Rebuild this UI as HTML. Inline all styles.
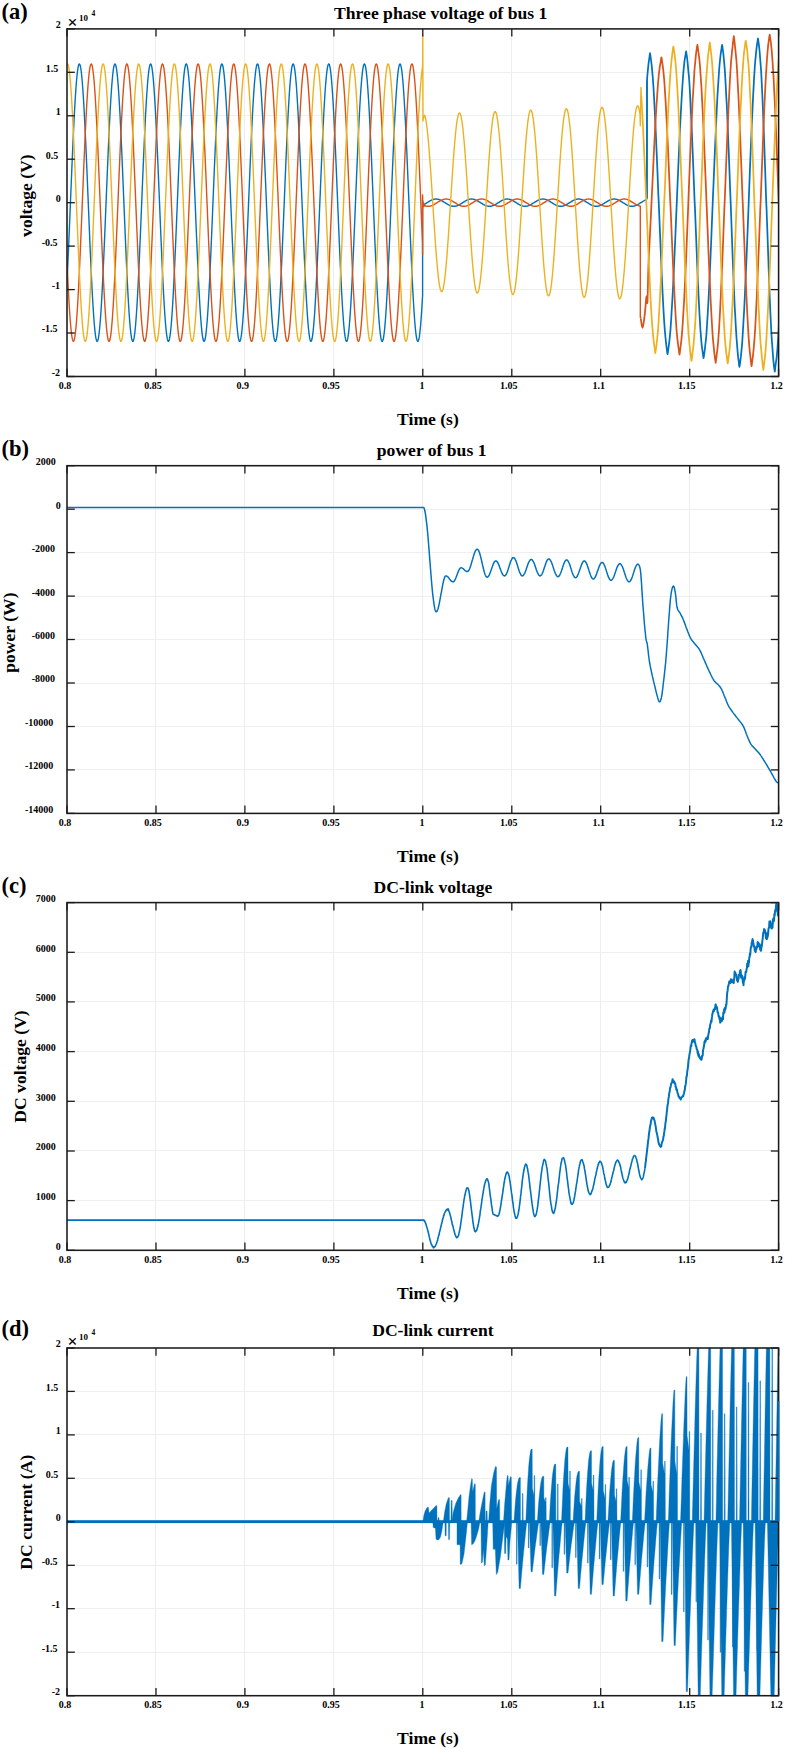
<!DOCTYPE html>
<html lang="en"><head><meta charset="utf-8"><title>Simulation results: bus 1 voltage, power, DC-link voltage and current</title>
<style>html,body{margin:0;padding:0;background:#fff;overflow:hidden}svg{display:block}text{font-family:"Liberation Serif","Times New Roman",serif;font-weight:bold;fill:#000}</style></head><body>
<svg width="785" height="1750" viewBox="0 0 785 1750">
<rect width="785" height="1750" fill="#fff"/>
<defs>
<clipPath id="ca"><rect x="67.0" y="28.9" width="711.6" height="347.6"/></clipPath>
<clipPath id="cb"><rect x="67.0" y="465.7" width="711.6" height="347.7"/></clipPath>
<clipPath id="cc"><rect x="67.0" y="902.6" width="711.6" height="347.7"/></clipPath>
<clipPath id="cd"><rect x="67.0" y="1348.0" width="711.6" height="347.7"/></clipPath>
</defs>
<line x1="155.5" y1="28.9" x2="155.5" y2="376.5" stroke="#ededed" stroke-width="1"/>
<line x1="244.5" y1="28.9" x2="244.5" y2="376.5" stroke="#ededed" stroke-width="1"/>
<line x1="333.5" y1="28.9" x2="333.5" y2="376.5" stroke="#ededed" stroke-width="1"/>
<line x1="422.5" y1="28.9" x2="422.5" y2="376.5" stroke="#ededed" stroke-width="1"/>
<line x1="511.5" y1="28.9" x2="511.5" y2="376.5" stroke="#ededed" stroke-width="1"/>
<line x1="600.5" y1="28.9" x2="600.5" y2="376.5" stroke="#ededed" stroke-width="1"/>
<line x1="689.5" y1="28.9" x2="689.5" y2="376.5" stroke="#ededed" stroke-width="1"/>
<line x1="67.0" y1="72.5" x2="778.6" y2="72.5" stroke="#efefef" stroke-width="1"/>
<line x1="67.0" y1="115.5" x2="778.6" y2="115.5" stroke="#efefef" stroke-width="1"/>
<line x1="67.0" y1="159.5" x2="778.6" y2="159.5" stroke="#efefef" stroke-width="1"/>
<line x1="67.0" y1="202.5" x2="778.6" y2="202.5" stroke="#efefef" stroke-width="1"/>
<line x1="67.0" y1="246.5" x2="778.6" y2="246.5" stroke="#efefef" stroke-width="1"/>
<line x1="67.0" y1="289.5" x2="778.6" y2="289.5" stroke="#efefef" stroke-width="1"/>
<line x1="67.0" y1="333.5" x2="778.6" y2="333.5" stroke="#efefef" stroke-width="1"/>
<g clip-path="url(#ca)">
<path d="M67.0 281.8L67.3 275.7L67.6 269.3L67.9 262.8L68.2 256.1L68.5 249.3L68.8 242.3L69.1 235.2L69.4 228.0L69.7 220.8L70.0 213.5L70.3 206.2L70.6 198.8L70.9 191.5L71.2 184.2L71.5 177.0L71.8 169.8L72.1 162.7L72.4 155.7L72.7 148.9L73.0 142.2L73.3 135.7L73.6 129.4L73.9 123.2L74.2 117.3L74.5 111.7L74.8 106.3L75.1 101.1L75.4 96.3L75.7 91.7L76.0 87.5L76.3 83.5L76.6 80.0L76.9 76.7L77.2 73.8L77.5 71.3L77.8 69.1L78.1 67.3L78.4 65.9L78.7 64.9L79.0 64.2L79.3 64.0L79.6 64.1L79.9 64.6L80.2 65.5L80.5 66.8L80.8 68.5L81.1 70.5L81.4 72.9L81.7 75.7L82.0 78.8L82.3 82.3L82.6 86.1L82.9 90.3L83.2 94.7L83.5 99.5L83.8 104.5L84.1 109.8L84.4 115.4L84.7 121.3L85.0 127.3L85.3 133.6L85.6 140.0L85.9 146.7L86.2 153.4L86.5 160.4L86.8 167.4L87.1 174.6L87.4 181.8L87.7 189.1L88.0 196.4L88.3 203.7L88.6 211.0L88.9 218.4L89.2 225.6L89.5 232.8L89.8 239.9L90.1 247.0L90.4 253.8L90.7 260.6L91.0 267.2L91.3 273.6L91.6 279.8L91.9 285.8L92.2 291.5L92.5 297.0L92.8 302.3L93.1 307.2L93.4 311.9L93.7 316.3L94.0 320.3L94.3 324.1L94.6 327.4L94.9 330.5L95.2 333.1L95.5 335.5L95.8 337.4L96.1 338.9L96.4 340.1L96.7 340.9L97.0 341.3L97.3 341.3L97.6 341.0L97.9 340.2L98.2 339.1L98.5 337.6L98.8 335.7L99.1 333.4L99.4 330.8L99.7 327.8L100.0 324.4L100.3 320.7L100.6 316.7L100.9 312.4L101.2 307.7L101.5 302.8L101.8 297.6L102.1 292.1L102.4 286.4L102.7 280.4L103.0 274.2L103.3 267.8L103.6 261.3L103.9 254.5L104.2 247.7L104.5 240.6L104.8 233.5L105.1 226.3L105.4 219.1L105.7 211.8L106.0 204.4L106.3 197.1L106.6 189.8L106.9 182.5L107.2 175.3L107.5 168.1L107.8 161.1L108.1 154.1L108.4 147.3L108.7 140.7L109.0 134.2L109.3 127.9L109.6 121.8L109.9 116.0L110.2 110.4L110.5 105.0L110.8 100.0L111.1 95.2L111.4 90.7L111.7 86.5L112.0 82.7L112.3 79.2L112.6 76.0L112.9 73.2L113.2 70.7L113.5 68.7L113.8 67.0L114.1 65.6L114.4 64.7L114.7 64.1L115.0 64.0L115.3 64.2L115.6 64.8L115.9 65.8L116.2 67.2L116.5 68.9L116.8 71.0L117.1 73.5L117.4 76.4L117.7 79.6L118.0 83.2L118.3 87.1L118.6 91.3L118.9 95.8L119.2 100.6L119.5 105.7L119.8 111.1L120.1 116.8L120.4 122.6L120.7 128.7L121.0 135.1L121.3 141.6L121.6 148.2L121.9 155.0L122.2 162.0L122.5 169.1L122.8 176.2L123.1 183.5L123.4 190.8L123.7 198.1L124.0 205.4L124.3 212.8L124.6 220.1L124.9 227.3L125.2 234.5L125.5 241.6L125.8 248.6L126.1 255.4L126.4 262.1L126.7 268.7L127.0 275.0L127.3 281.2L127.6 287.1L127.9 292.8L128.2 298.3L128.5 303.5L128.8 308.4L129.1 313.0L129.4 317.3L129.7 321.2L130.0 324.9L130.3 328.2L130.6 331.1L130.9 333.7L131.2 335.9L131.5 337.8L131.8 339.3L132.1 340.3L132.4 341.1L132.7 341.4L133.0 341.3L133.3 340.8L133.6 340.0L133.9 338.8L134.2 337.2L134.5 335.2L134.8 332.8L135.1 330.1L135.4 327.0L135.7 323.6L136.0 319.8L136.3 315.7L136.6 311.3L136.9 306.6L137.2 301.6L137.5 296.3L137.8 290.8L138.1 285.0L138.4 279.0L138.7 272.7L139.0 266.3L139.3 259.7L139.6 252.9L139.9 246.0L140.2 239.0L140.5 231.9L140.8 224.7L141.1 217.4L141.4 210.1L141.7 202.7L142.0 195.4L142.3 188.1L142.6 180.8L142.9 173.6L143.2 166.5L143.5 159.4L143.8 152.5L144.1 145.8L144.4 139.2L144.7 132.7L145.0 126.5L145.3 120.5L145.6 114.7L145.9 109.1L146.2 103.8L146.5 98.8L146.8 94.1L147.1 89.7L147.4 85.6L147.7 81.8L148.0 78.4L148.3 75.3L148.6 72.6L148.9 70.2L149.2 68.2L149.5 66.6L149.8 65.4L150.1 64.5L150.4 64.1L150.7 64.0L151.0 64.3L151.3 65.0L151.6 66.1L151.9 67.5L152.2 69.4L152.5 71.6L152.8 74.2L153.1 77.1L153.4 80.4L153.7 84.1L154.0 88.0L154.3 92.3L154.6 96.9L154.9 101.8L155.2 107.0L155.5 112.4L155.8 118.1L156.1 124.0L156.4 130.2L156.7 136.6L157.0 143.1L157.3 149.8L157.6 156.7L157.9 163.6L158.2 170.7L158.5 177.9L158.8 185.2L159.1 192.5L159.4 199.8L159.7 207.1L160.0 214.5L160.3 221.8L160.6 229.0L160.9 236.2L161.2 243.2L161.5 250.2L161.8 257.0L162.1 263.7L162.4 270.2L162.7 276.5L163.0 282.6L163.3 288.5L163.6 294.1L163.9 299.5L164.2 304.6L164.5 309.5L164.8 314.0L165.1 318.2L165.4 322.1L165.7 325.7L166.0 328.9L166.3 331.8L166.6 334.3L166.9 336.4L167.2 338.2L167.5 339.5L167.8 340.5L168.1 341.2L168.4 341.4L168.7 341.2L169.0 340.7L169.3 339.7L169.6 338.4L169.9 336.7L170.2 334.6L170.5 332.2L170.8 329.4L171.1 326.2L171.4 322.7L171.7 318.9L172.0 314.7L172.3 310.2L172.6 305.5L172.9 300.4L173.2 295.0L173.5 289.4L173.8 283.6L174.1 277.5L174.4 271.3L174.7 264.8L175.0 258.1L175.3 251.3L175.6 244.4L175.9 237.3L176.2 230.2L176.5 223.0L176.8 215.7L177.1 208.4L177.4 201.0L177.7 193.7L178.0 186.4L178.3 179.1L178.6 171.9L178.9 164.8L179.2 157.8L179.5 150.9L179.8 144.2L180.1 137.6L180.4 131.2L180.7 125.1L181.0 119.1L181.3 113.4L181.6 107.9L181.9 102.6L182.2 97.7L182.5 93.1L182.8 88.7L183.1 84.7L183.4 81.0L183.7 77.6L184.0 74.6L184.3 72.0L184.6 69.7L184.9 67.8L185.2 66.3L185.5 65.1L185.8 64.4L186.1 64.0L186.4 64.0L186.7 64.4L187.0 65.2L187.3 66.4L187.6 67.9L187.9 69.9L188.2 72.2L188.5 74.8L188.8 77.9L189.1 81.2L189.4 84.9L189.7 89.0L190.0 93.4L190.3 98.0L190.6 103.0L190.9 108.2L191.2 113.7L191.5 119.5L191.8 125.5L192.1 131.7L192.4 138.1L192.7 144.6L193.0 151.4L193.3 158.3L193.6 165.3L193.9 172.4L194.2 179.6L194.5 186.9L194.8 194.2L195.1 201.5L195.4 208.8L195.7 216.2L196.0 223.4L196.3 230.7L196.6 237.8L196.9 244.9L197.2 251.8L197.5 258.6L197.8 265.2L198.1 271.7L198.4 277.9L198.7 284.0L199.0 289.8L199.3 295.4L199.6 300.7L199.9 305.8L200.2 310.6L200.5 315.0L200.8 319.2L201.1 323.0L201.4 326.5L201.7 329.6L202.0 332.4L202.3 334.8L202.6 336.8L202.9 338.5L203.2 339.8L203.5 340.7L203.8 341.2L204.1 341.4L204.4 341.1L204.7 340.5L205.0 339.5L205.3 338.1L205.6 336.3L205.9 334.1L206.2 331.6L206.5 328.7L206.8 325.5L207.1 321.9L207.4 317.9L207.7 313.7L208.0 309.2L208.3 304.3L208.6 299.2L208.9 293.8L209.2 288.1L209.5 282.2L209.8 276.1L210.1 269.8L210.4 263.2L210.7 256.6L211.0 249.7L211.3 242.8L211.6 235.7L211.9 228.5L212.2 221.3L212.5 214.0L212.8 206.6L213.1 199.3L213.4 192.0L213.7 184.7L214.0 177.4L214.3 170.3L214.6 163.2L214.9 156.2L215.2 149.4L215.5 142.7L215.8 136.1L216.1 129.8L216.4 123.6L216.7 117.7L217.0 112.0L217.3 106.6L217.6 101.5L217.9 96.6L218.2 92.0L218.5 87.7L218.8 83.8L219.1 80.2L219.4 76.9L219.7 74.0L220.0 71.4L220.3 69.2L220.6 67.4L220.9 66.0L221.2 64.9L221.5 64.3L221.8 64.0L222.1 64.1L222.4 64.6L222.7 65.4L223.0 66.7L223.3 68.3L223.6 70.4L223.9 72.8L224.2 75.5L224.5 78.6L224.8 82.1L225.1 85.9L225.4 90.0L225.7 94.4L226.0 99.2L226.3 104.2L226.6 109.5L226.9 115.0L227.2 120.9L227.5 126.9L227.8 133.1L228.1 139.6L228.4 146.2L228.7 153.0L229.0 159.9L229.3 166.9L229.6 174.1L229.9 181.3L230.2 188.6L230.5 195.9L230.8 203.2L231.1 210.6L231.4 217.9L231.7 225.1L232.0 232.3L232.3 239.5L232.6 246.5L232.9 253.4L233.2 260.1L233.5 266.7L233.8 273.2L234.1 279.4L234.4 285.4L234.7 291.2L235.0 296.7L235.3 301.9L235.6 306.9L235.9 311.6L236.2 316.0L236.5 320.1L236.8 323.8L237.1 327.2L237.4 330.3L237.7 333.0L238.0 335.3L238.3 337.3L238.6 338.9L238.9 340.1L239.2 340.9L239.5 341.3L239.8 341.4L240.1 341.0L240.4 340.3L240.7 339.2L241.0 337.7L241.3 335.8L241.6 333.6L241.9 330.9L242.2 328.0L242.5 324.6L242.8 321.0L243.1 317.0L243.4 312.7L243.7 308.0L244.0 303.1L244.3 297.9L244.6 292.5L244.9 286.7L245.2 280.8L245.5 274.6L245.8 268.3L246.1 261.7L246.4 255.0L246.7 248.1L247.0 241.1L247.3 234.0L247.6 226.8L247.9 219.6L248.2 212.3L248.5 204.9L248.8 197.6L249.1 190.3L249.4 183.0L249.7 175.8L250.0 168.6L250.3 161.5L250.6 154.6L250.9 147.8L251.2 141.1L251.5 134.6L251.8 128.3L252.1 122.2L252.4 116.4L252.7 110.8L253.0 105.4L253.3 100.3L253.6 95.5L253.9 91.0L254.2 86.8L254.5 82.9L254.8 79.4L255.1 76.2L255.4 73.4L255.7 70.9L256.0 68.8L256.3 67.1L256.6 65.7L256.9 64.7L257.2 64.2L257.5 64.0L257.8 64.2L258.1 64.7L258.4 65.7L258.7 67.1L259.0 68.8L259.3 70.9L259.6 73.4L259.9 76.2L260.2 79.4L260.5 82.9L260.8 86.8L261.1 91.0L261.4 95.5L261.7 100.3L262.0 105.4L262.3 110.8L262.6 116.4L262.9 122.2L263.2 128.3L263.5 134.6L263.8 141.1L264.1 147.8L264.4 154.6L264.7 161.5L265.0 168.6L265.3 175.8L265.6 183.0L265.9 190.3L266.2 197.6L266.5 204.9L266.8 212.3L267.1 219.6L267.4 226.8L267.7 234.0L268.0 241.1L268.3 248.1L268.6 255.0L268.9 261.7L269.2 268.3L269.5 274.6L269.8 280.8L270.1 286.7L270.4 292.5L270.7 297.9L271.0 303.1L271.3 308.0L271.6 312.7L271.9 317.0L272.2 321.0L272.5 324.6L272.8 328.0L273.1 330.9L273.4 333.6L273.7 335.8L274.0 337.7L274.3 339.2L274.6 340.3L274.9 341.0L275.2 341.4L275.5 341.3L275.8 340.9L276.1 340.1L276.4 338.9L276.7 337.3L277.0 335.3L277.3 333.0L277.6 330.3L277.9 327.2L278.2 323.8L278.5 320.1L278.8 316.0L279.1 311.6L279.4 306.9L279.7 301.9L280.0 296.7L280.3 291.2L280.6 285.4L280.9 279.4L281.2 273.2L281.5 266.7L281.8 260.1L282.1 253.4L282.4 246.5L282.7 239.5L283.0 232.3L283.3 225.1L283.6 217.9L283.9 210.6L284.2 203.2L284.5 195.9L284.8 188.6L285.1 181.3L285.4 174.1L285.7 166.9L286.0 159.9L286.3 153.0L286.6 146.2L286.9 139.6L287.2 133.1L287.5 126.9L287.8 120.9L288.1 115.0L288.4 109.5L288.7 104.2L289.0 99.2L289.3 94.4L289.6 90.0L289.9 85.9L290.2 82.1L290.5 78.6L290.8 75.5L291.1 72.8L291.4 70.4L291.7 68.3L292.0 66.7L292.3 65.4L292.6 64.6L292.9 64.1L293.2 64.0L293.5 64.3L293.8 64.9L294.1 66.0L294.4 67.4L294.7 69.2L295.0 71.4L295.3 74.0L295.6 76.9L295.9 80.2L296.2 83.8L296.5 87.7L296.8 92.0L297.1 96.6L297.4 101.5L297.7 106.6L298.0 112.0L298.3 117.7L298.6 123.6L298.9 129.8L299.2 136.1L299.5 142.7L299.8 149.4L300.1 156.2L300.4 163.2L300.7 170.3L301.0 177.4L301.3 184.7L301.6 192.0L301.9 199.3L302.2 206.6L302.5 214.0L302.8 221.3L303.1 228.5L303.4 235.7L303.7 242.8L304.0 249.7L304.3 256.6L304.6 263.2L304.9 269.8L305.2 276.1L305.5 282.2L305.8 288.1L306.1 293.8L306.4 299.2L306.7 304.3L307.0 309.2L307.3 313.7L307.6 317.9L307.9 321.9L308.2 325.5L308.5 328.7L308.8 331.6L309.1 334.1L309.4 336.3L309.7 338.1L310.0 339.5L310.3 340.5L310.6 341.1L310.9 341.4L311.2 341.2L311.5 340.7L311.8 339.8L312.1 338.5L312.4 336.8L312.7 334.8L313.0 332.4L313.3 329.6L313.6 326.5L313.9 323.0L314.2 319.2L314.5 315.0L314.8 310.6L315.1 305.8L315.4 300.7L315.7 295.4L316.0 289.8L316.3 284.0L316.6 277.9L316.9 271.7L317.2 265.2L317.5 258.6L317.8 251.8L318.1 244.9L318.4 237.8L318.7 230.7L319.0 223.4L319.3 216.2L319.6 208.8L319.9 201.5L320.2 194.2L320.5 186.9L320.8 179.6L321.1 172.4L321.4 165.3L321.7 158.3L322.0 151.4L322.3 144.6L322.6 138.1L322.9 131.7L323.2 125.5L323.5 119.5L323.8 113.7L324.1 108.2L324.4 103.0L324.7 98.0L325.0 93.4L325.3 89.0L325.6 84.9L325.9 81.2L326.2 77.9L326.5 74.8L326.8 72.2L327.1 69.9L327.4 67.9L327.7 66.4L328.0 65.2L328.3 64.4L328.6 64.0L328.9 64.0L329.2 64.4L329.5 65.1L329.8 66.3L330.1 67.8L330.4 69.7L330.7 72.0L331.0 74.6L331.3 77.6L331.6 81.0L331.9 84.7L332.2 88.7L332.5 93.1L332.8 97.7L333.1 102.6L333.4 107.9L333.7 113.4L334.0 119.1L334.3 125.1L334.6 131.2L334.9 137.6L335.2 144.2L335.5 150.9L335.8 157.8L336.1 164.8L336.4 171.9L336.7 179.1L337.0 186.4L337.3 193.7L337.6 201.0L337.9 208.4L338.2 215.7L338.5 223.0L338.8 230.2L339.1 237.3L339.4 244.4L339.7 251.3L340.0 258.1L340.3 264.8L340.6 271.3L340.9 277.5L341.2 283.6L341.5 289.4L341.8 295.0L342.1 300.4L342.4 305.5L342.7 310.2L343.0 314.7L343.3 318.9L343.6 322.7L343.9 326.2L344.2 329.4L344.5 332.2L344.8 334.6L345.1 336.7L345.4 338.4L345.7 339.7L346.0 340.7L346.3 341.2L346.6 341.4L346.9 341.2L347.2 340.5L347.5 339.5L347.8 338.2L348.1 336.4L348.4 334.3L348.7 331.8L349.0 328.9L349.3 325.7L349.6 322.1L349.9 318.2L350.2 314.0L350.5 309.5L350.8 304.6L351.1 299.5L351.4 294.1L351.7 288.5L352.0 282.6L352.3 276.5L352.6 270.2L352.9 263.7L353.2 257.0L353.5 250.2L353.8 243.2L354.1 236.2L354.4 229.0L354.7 221.8L355.0 214.5L355.3 207.1L355.6 199.8L355.9 192.5L356.2 185.2L356.5 177.9L356.8 170.7L357.1 163.6L357.4 156.7L357.7 149.8L358.0 143.1L358.3 136.6L358.6 130.2L358.9 124.0L359.2 118.1L359.5 112.4L359.8 107.0L360.1 101.8L360.4 96.9L360.7 92.3L361.0 88.0L361.3 84.1L361.6 80.4L361.9 77.1L362.2 74.2L362.5 71.6L362.8 69.4L363.1 67.5L363.4 66.1L363.7 65.0L364.0 64.3L364.3 64.0L364.6 64.1L364.9 64.5L365.2 65.4L365.5 66.6L365.8 68.2L366.1 70.2L366.4 72.6L366.7 75.3L367.0 78.4L367.3 81.8L367.6 85.6L367.9 89.7L368.2 94.1L368.5 98.8L368.8 103.8L369.1 109.1L369.4 114.7L369.7 120.5L370.0 126.5L370.3 132.7L370.6 139.2L370.9 145.8L371.2 152.5L371.5 159.4L371.8 166.5L372.1 173.6L372.4 180.8L372.7 188.1L373.0 195.4L373.3 202.7L373.6 210.1L373.9 217.4L374.2 224.7L374.5 231.9L374.8 239.0L375.1 246.0L375.4 252.9L375.7 259.7L376.0 266.3L376.3 272.7L376.6 279.0L376.9 285.0L377.2 290.8L377.5 296.3L377.8 301.6L378.1 306.6L378.4 311.3L378.7 315.7L379.0 319.8L379.3 323.6L379.6 327.0L379.9 330.1L380.2 332.8L380.5 335.2L380.8 337.2L381.1 338.8L381.4 340.0L381.7 340.8L382.0 341.3L382.3 341.4L382.6 341.1L382.9 340.3L383.2 339.3L383.5 337.8L383.8 335.9L384.1 333.7L384.4 331.1L384.7 328.2L385.0 324.9L385.3 321.2L385.6 317.3L385.9 313.0L386.2 308.4L386.5 303.5L386.8 298.3L387.1 292.8L387.4 287.1L387.7 281.2L388.0 275.0L388.3 268.7L388.6 262.1L388.9 255.4L389.2 248.6L389.5 241.6L389.8 234.5L390.1 227.3L390.4 220.1L390.7 212.8L391.0 205.4L391.3 198.1L391.6 190.8L391.9 183.5L392.2 176.2L392.5 169.1L392.8 162.0L393.1 155.0L393.4 148.2L393.7 141.6L394.0 135.1L394.3 128.7L394.6 122.6L394.9 116.8L395.2 111.1L395.5 105.7L395.8 100.6L396.1 95.8L396.4 91.3L396.7 87.1L397.0 83.2L397.3 79.6L397.6 76.4L397.9 73.5L398.2 71.0L398.5 68.9L398.8 67.2L399.1 65.8L399.4 64.8L399.7 64.2L400.0 64.0L400.3 64.1L400.6 64.7L400.9 65.6L401.2 67.0L401.5 68.7L401.8 70.7L402.1 73.2L402.4 76.0L402.7 79.2L403.0 82.7L403.3 86.5L403.6 90.7L403.9 95.2L404.2 100.0L404.5 105.0L404.8 110.4L405.1 116.0L405.4 121.8L405.7 127.9L406.0 134.2L406.3 140.7L406.6 147.3L406.9 154.1L407.2 161.1L407.5 168.1L407.8 175.3L408.1 182.5L408.4 189.8L408.7 197.1L409.0 204.4L409.3 211.8L409.6 219.1L409.9 226.3L410.2 233.5L410.5 240.6L410.8 247.7L411.1 254.5L411.4 261.3L411.7 267.8L412.0 274.2L412.3 280.4L412.6 286.4L412.9 292.1L413.2 297.6L413.5 302.8L413.8 307.7L414.1 312.4L414.4 316.7L414.7 320.7L415.0 324.4L415.3 327.8L415.6 330.8L415.9 333.4L416.2 335.7L416.5 337.6L416.8 339.1L417.1 340.2L417.4 341.0L417.7 341.3L418.0 341.3L418.3 340.9L418.6 340.1L418.9 338.9L419.2 337.4L419.5 335.5L419.8 333.1L420.1 330.5L420.4 327.4L420.7 324.1L421.0 320.3L421.3 316.3L421.6 311.9L421.9 307.2L422.2 302.3L422.5 297.0L422.6 296.1L422.6 200.1L423.1 205.0L423.4 204.9L423.7 204.7L424.0 204.6L424.3 204.4L424.6 204.2L424.9 204.1L425.2 203.9L425.5 203.7L425.8 203.5L426.1 203.3L426.4 203.1L426.7 202.9L427.0 202.7L427.3 202.5L427.6 202.3L427.9 202.2L428.2 202.0L428.5 201.8L428.8 201.6L429.1 201.4L429.4 201.2L429.7 201.1L430.0 200.9L430.3 200.7L430.6 200.6L430.9 200.4L431.2 200.3L431.5 200.1L431.8 200.0L432.1 199.9L432.4 199.7L432.7 199.6L433.0 199.5L433.3 199.4L433.6 199.3L433.9 199.3L434.2 199.2L434.5 199.2L434.8 199.1L435.1 199.1L435.4 199.0L435.7 199.0L436.0 199.0L436.3 199.0L436.6 199.0L436.9 199.1L437.2 199.1L437.5 199.2L437.8 199.2L438.1 199.3L438.4 199.3L438.7 199.4L439.0 199.5L439.3 199.6L439.6 199.7L439.9 199.9L440.2 200.0L440.5 200.1L440.8 200.3L441.1 200.4L441.4 200.6L441.7 200.7L442.0 200.9L442.3 201.1L442.6 201.2L442.9 201.4L443.2 201.6L443.5 201.8L443.8 202.0L444.1 202.2L444.4 202.3L444.7 202.5L445.0 202.7L445.3 202.9L445.6 203.1L445.9 203.3L446.2 203.5L446.5 203.7L446.8 203.9L447.1 204.1L447.4 204.2L447.7 204.4L448.0 204.6L448.3 204.7L448.6 204.9L448.9 205.0L449.2 205.2L449.5 205.3L449.8 205.4L450.1 205.6L450.4 205.7L450.7 205.8L451.0 205.9L451.3 206.0L451.6 206.1L451.9 206.1L452.2 206.2L452.5 206.2L452.8 206.3L453.1 206.3L453.4 206.3L453.7 206.3L454.0 206.3L454.3 206.3L454.6 206.3L454.9 206.3L455.2 206.2L455.5 206.2L455.8 206.1L456.1 206.0L456.4 206.0L456.7 205.9L457.0 205.8L457.3 205.7L457.6 205.5L457.9 205.4L458.2 205.3L458.5 205.1L458.8 205.0L459.1 204.9L459.4 204.7L459.7 204.5L460.0 204.4L460.3 204.2L460.6 204.0L460.9 203.8L461.2 203.6L461.5 203.5L461.8 203.3L462.1 203.1L462.4 202.9L462.7 202.7L463.0 202.5L463.3 202.3L463.6 202.1L463.9 201.9L464.2 201.7L464.5 201.5L464.8 201.4L465.1 201.2L465.4 201.0L465.7 200.8L466.0 200.7L466.3 200.5L466.6 200.4L466.9 200.2L467.2 200.1L467.5 200.0L467.8 199.8L468.1 199.7L468.4 199.6L468.7 199.5L469.0 199.4L469.3 199.3L469.6 199.3L469.9 199.2L470.2 199.1L470.5 199.1L470.8 199.1L471.1 199.0L471.4 199.0L471.7 199.0L472.0 199.0L472.3 199.1L472.6 199.1L472.9 199.1L473.2 199.2L473.5 199.2L473.8 199.3L474.1 199.4L474.4 199.5L474.7 199.5L475.0 199.7L475.3 199.8L475.6 199.9L475.9 200.0L476.2 200.1L476.5 200.3L476.8 200.4L477.1 200.6L477.4 200.8L477.7 200.9L478.0 201.1L478.3 201.3L478.6 201.5L478.9 201.6L479.2 201.8L479.5 202.0L479.8 202.2L480.1 202.4L480.4 202.6L480.7 202.8L481.0 203.0L481.3 203.2L481.6 203.4L481.9 203.5L482.2 203.7L482.5 203.9L482.8 204.1L483.1 204.3L483.4 204.4L483.7 204.6L484.0 204.8L484.3 204.9L484.6 205.1L484.9 205.2L485.2 205.3L485.5 205.5L485.8 205.6L486.1 205.7L486.4 205.8L486.7 205.9L487.0 206.0L487.3 206.1L487.6 206.1L487.9 206.2L488.2 206.2L488.5 206.3L488.8 206.3L489.1 206.3L489.4 206.3L489.7 206.3L490.0 206.3L490.3 206.3L490.6 206.2L490.9 206.2L491.2 206.2L491.5 206.1L491.8 206.0L492.1 205.9L492.4 205.8L492.7 205.7L493.0 205.6L493.3 205.5L493.6 205.4L493.9 205.3L494.2 205.1L494.5 205.0L494.8 204.8L495.1 204.7L495.4 204.5L495.7 204.3L496.0 204.1L496.3 204.0L496.6 203.8L496.9 203.6L497.2 203.4L497.5 203.2L497.8 203.0L498.1 202.8L498.4 202.6L498.7 202.5L499.0 202.3L499.3 202.1L499.6 201.9L499.9 201.7L500.2 201.5L500.5 201.3L500.8 201.1L501.1 201.0L501.4 200.8L501.7 200.6L502.0 200.5L502.3 200.3L502.6 200.2L502.9 200.1L503.2 199.9L503.5 199.8L503.8 199.7L504.1 199.6L504.4 199.5L504.7 199.4L505.0 199.3L505.3 199.2L505.6 199.2L505.9 199.1L506.2 199.1L506.5 199.1L506.8 199.0L507.1 199.0L507.4 199.0L507.7 199.0L508.0 199.1L508.3 199.1L508.6 199.1L508.9 199.2L509.2 199.2L509.5 199.3L509.8 199.4L510.1 199.5L510.4 199.6L510.7 199.7L511.0 199.8L511.3 199.9L511.6 200.0L511.9 200.2L512.2 200.3L512.5 200.5L512.8 200.6L513.1 200.8L513.4 201.0L513.7 201.1L514.0 201.3L514.3 201.5L514.6 201.7L514.9 201.9L515.2 202.1L515.5 202.2L515.8 202.4L516.1 202.6L516.4 202.8L516.7 203.0L517.0 203.2L517.3 203.4L517.6 203.6L517.9 203.8L518.2 204.0L518.5 204.1L518.8 204.3L519.1 204.5L519.4 204.6L519.7 204.8L520.0 205.0L520.3 205.1L520.6 205.2L520.9 205.4L521.2 205.5L521.5 205.6L521.8 205.7L522.1 205.8L522.4 205.9L522.7 206.0L523.0 206.1L523.3 206.1L523.6 206.2L523.9 206.2L524.2 206.3L524.5 206.3L524.8 206.3L525.1 206.3L525.4 206.3L525.7 206.3L526.0 206.3L526.3 206.2L526.6 206.2L526.9 206.1L527.2 206.1L527.5 206.0L527.8 205.9L528.1 205.8L528.4 205.7L528.7 205.6L529.0 205.5L529.3 205.4L529.6 205.2L529.9 205.1L530.2 204.9L530.5 204.8L530.8 204.6L531.1 204.5L531.4 204.3L531.7 204.1L532.0 203.9L532.3 203.7L532.6 203.6L532.9 203.4L533.2 203.2L533.5 203.0L533.8 202.8L534.1 202.6L534.4 202.4L534.7 202.2L535.0 202.0L535.3 201.8L535.6 201.6L535.9 201.5L536.2 201.3L536.5 201.1L536.8 200.9L537.1 200.8L537.4 200.6L537.7 200.4L538.0 200.3L538.3 200.2L538.6 200.0L538.9 199.9L539.2 199.8L539.5 199.7L539.8 199.6L540.1 199.5L540.4 199.4L540.7 199.3L541.0 199.2L541.3 199.2L541.6 199.1L541.9 199.1L542.2 199.1L542.5 199.0L542.8 199.0L543.1 199.0L543.4 199.0L543.7 199.1L544.0 199.1L544.3 199.1L544.6 199.2L544.9 199.3L545.2 199.3L545.5 199.4L545.8 199.5L546.1 199.6L546.4 199.7L546.7 199.8L547.0 199.9L547.3 200.1L547.6 200.2L547.9 200.4L548.2 200.5L548.5 200.7L548.8 200.8L549.1 201.0L549.4 201.2L549.7 201.4L550.0 201.5L550.3 201.7L550.6 201.9L550.9 202.1L551.2 202.3L551.5 202.5L551.8 202.7L552.1 202.9L552.4 203.1L552.7 203.3L553.0 203.4L553.3 203.6L553.6 203.8L553.9 204.0L554.2 204.2L554.5 204.3L554.8 204.5L555.1 204.7L555.4 204.8L555.7 205.0L556.0 205.1L556.3 205.3L556.6 205.4L556.9 205.5L557.2 205.6L557.5 205.8L557.8 205.9L558.1 205.9L558.4 206.0L558.7 206.1L559.0 206.2L559.3 206.2L559.6 206.3L559.9 206.3L560.2 206.3L560.5 206.3L560.8 206.3L561.1 206.3L561.4 206.3L561.7 206.3L562.0 206.2L562.3 206.2L562.6 206.1L562.9 206.1L563.2 206.0L563.5 205.9L563.8 205.8L564.1 205.7L564.4 205.6L564.7 205.5L565.0 205.3L565.3 205.2L565.6 205.0L565.9 204.9L566.2 204.7L566.5 204.6L566.8 204.4L567.1 204.2L567.4 204.1L567.7 203.9L568.0 203.7L568.3 203.5L568.6 203.3L568.9 203.1L569.2 202.9L569.5 202.7L569.8 202.6L570.1 202.4L570.4 202.2L570.7 202.0L571.0 201.8L571.3 201.6L571.6 201.4L571.9 201.2L572.2 201.1L572.5 200.9L572.8 200.7L573.1 200.6L573.4 200.4L573.7 200.3L574.0 200.1L574.3 200.0L574.6 199.9L574.9 199.7L575.2 199.6L575.5 199.5L575.8 199.4L576.1 199.4L576.4 199.3L576.7 199.2L577.0 199.2L577.3 199.1L577.6 199.1L577.9 199.0L578.2 199.0L578.5 199.0L578.8 199.0L579.1 199.0L579.4 199.1L579.7 199.1L580.0 199.1L580.3 199.2L580.6 199.3L580.9 199.3L581.2 199.4L581.5 199.5L581.8 199.6L582.1 199.7L582.4 199.8L582.7 200.0L583.0 200.1L583.3 200.2L583.6 200.4L583.9 200.5L584.2 200.7L584.5 200.9L584.8 201.0L585.1 201.2L585.4 201.4L585.7 201.6L586.0 201.8L586.3 202.0L586.6 202.1L586.9 202.3L587.2 202.5L587.5 202.7L587.8 202.9L588.1 203.1L588.4 203.3L588.7 203.5L589.0 203.7L589.3 203.9L589.6 204.0L589.9 204.2L590.2 204.4L590.5 204.6L590.8 204.7L591.1 204.9L591.4 205.0L591.7 205.2L592.0 205.3L592.3 205.4L592.6 205.6L592.9 205.7L593.2 205.8L593.5 205.9L593.8 206.0L594.1 206.0L594.4 206.1L594.7 206.2L595.0 206.2L595.3 206.3L595.6 206.3L595.9 206.3L596.2 206.3L596.5 206.3L596.8 206.3L597.1 206.3L597.4 206.3L597.7 206.2L598.0 206.2L598.3 206.1L598.6 206.0L598.9 206.0L599.2 205.9L599.5 205.8L599.8 205.7L600.1 205.5L600.4 205.4L600.7 205.3L601.0 205.2L601.3 205.0L601.6 204.9L601.9 204.7L602.2 204.5L602.5 204.4L602.8 204.2L603.1 204.0L603.4 203.8L603.7 203.7L604.0 203.5L604.3 203.3L604.6 203.1L604.9 202.9L605.2 202.7L605.5 202.5L605.8 202.3L606.1 202.1L606.4 201.9L606.7 201.7L607.0 201.6L607.3 201.4L607.6 201.2L607.9 201.0L608.2 200.9L608.5 200.7L608.8 200.5L609.1 200.4L609.4 200.2L609.7 200.1L610.0 200.0L610.3 199.8L610.6 199.7L610.9 199.6L611.2 199.5L611.5 199.4L611.8 199.3L612.1 199.3L612.4 199.2L612.7 199.1L613.0 199.1L613.3 199.1L613.6 199.0L613.9 199.0L614.2 199.0L614.5 199.0L614.8 199.0L615.1 199.1L615.4 199.1L615.7 199.2L616.0 199.2L616.3 199.3L616.6 199.4L616.9 199.4L617.2 199.5L617.5 199.6L617.8 199.8L618.1 199.9L618.4 200.0L618.7 200.1L619.0 200.3L619.3 200.4L619.6 200.6L619.9 200.7L620.2 200.9L620.5 201.1L620.8 201.3L621.1 201.4L621.4 201.6L621.7 201.8L622.0 202.0L622.3 202.2L622.6 202.4L622.9 202.6L623.2 202.8L623.5 203.0L623.8 203.2L624.1 203.3L624.4 203.5L624.7 203.7L625.0 203.9L625.3 204.1L625.6 204.3L625.9 204.4L626.2 204.6L626.5 204.8L626.8 204.9L627.1 205.1L627.4 205.2L627.7 205.3L628.0 205.5L628.3 205.6L628.6 205.7L628.9 205.8L629.2 205.9L629.5 206.0L629.8 206.1L630.1 206.1L630.4 206.2L630.7 206.2L631.0 206.3L631.3 206.3L631.6 206.3L631.9 206.3L632.2 206.3L632.5 206.3L632.8 206.3L633.1 206.3L633.4 206.2L633.7 206.2L634.0 206.1L634.3 206.0L634.6 205.9L634.9 205.8L635.2 205.7L635.5 205.6L635.8 205.5L636.1 205.4L636.4 205.3L636.7 205.1L637.0 205.0L637.3 204.8L637.6 204.7L637.9 204.5L638.2 204.3L638.5 204.2L638.8 204.0L639.1 203.8L639.4 203.6L639.7 203.4L640.0 203.2L640.3 203.0L640.6 202.9L640.9 202.7L641.2 202.5L641.5 202.3L641.8 202.1L642.1 201.9L642.4 201.7L642.7 201.5L643.0 201.3L643.3 201.2L643.6 201.0L643.9 200.8L644.2 200.7L644.5 200.5L644.8 200.3L645.1 200.2L645.4 200.1L645.7 199.9L646.0 199.8L646.3 199.7L646.6 199.6L646.9 198.3L647.0 80.6" fill="none" stroke="#0072BD" stroke-width="1.4" stroke-linejoin="round" />
<path d="M646.9 198.3L647.0 80.6L647.3 76.4L647.6 73.2L647.9 69.8L648.2 66.8L648.5 64.1L648.8 61.7L649.1 59.5L649.4 57.4L649.7 55.0L650.0 53.2L650.3 54.9L650.6 56.9L650.9 59.0L651.2 61.5L651.5 63.9L651.8 66.6L652.1 69.7L652.4 73.3L652.7 76.5L653.0 80.7L653.3 85.0L653.6 89.5L653.9 94.7L654.2 100.4L654.5 106.2L654.8 111.9L655.1 117.9L655.4 124.0L655.7 130.9L656.0 137.8L656.3 144.7L656.6 151.4L656.9 158.2L657.2 165.5L657.5 172.8L657.8 180.6L658.1 188.5L658.4 195.9L658.8 203.7L659.1 211.1L659.4 218.4L659.7 226.3L660.0 233.0L660.3 240.3L660.6 247.5L660.9 254.5L661.2 262.0L661.5 269.3L661.8 276.0L662.1 282.7L662.4 288.7L662.7 294.9L663.0 300.9L663.3 306.6L663.6 311.9L663.9 316.9L664.2 321.6L664.5 325.9L664.8 330.1L665.1 333.2L665.4 336.7L665.7 339.5L666.0 342.6L666.3 345.1L666.6 347.5L666.9 350.0L667.2 352.5L667.5 354.2L667.8 352.8L668.1 350.6L668.4 348.6L668.7 346.3L669.0 344.1L669.3 341.5L669.6 338.8L669.9 335.8L670.2 332.8L670.5 329.5L670.8 324.9L671.1 320.5L671.4 315.5L671.7 310.3L672.0 305.6L672.3 300.5L672.6 295.6L672.9 290.1L673.2 283.7L673.5 277.3L673.8 270.7L674.1 264.3L674.4 257.8L674.7 251.4L675.0 244.7L675.3 237.7L675.6 230.5L675.9 223.4L676.2 216.3L676.5 209.1L676.8 202.1L677.1 194.9L677.4 187.6L677.7 180.7L678.0 173.9L678.3 166.9L678.6 160.0L678.9 153.1L679.2 146.3L679.5 139.6L679.8 133.0L680.1 126.7L680.4 120.8L680.7 115.4L681.0 109.9L681.3 104.5L681.6 98.9L681.9 93.9L682.2 89.2L682.5 84.7L682.8 80.5L683.1 76.2L683.4 72.1L683.7 68.9L684.0 65.9L684.3 62.8L684.6 60.2L684.9 58.4L685.2 56.6L685.5 54.9L685.8 52.9L686.1 51.3L686.4 53.0L686.7 55.2L687.0 57.2L687.3 60.0L687.6 62.7L687.9 65.9L688.2 69.5L688.5 72.5L688.8 75.7L689.2 80.0L689.5 84.5L689.8 89.7L690.1 95.1L690.4 101.1L690.7 107.4L691.0 113.7L691.3 119.7L691.6 126.5L691.9 133.2L692.2 140.5L692.5 148.0L692.8 154.6L693.1 162.6L693.4 170.2L693.7 178.1L694.0 186.0L694.3 193.4L694.6 201.4L695.0 208.9L695.3 216.7L695.6 224.3L695.9 231.5L696.2 239.4L696.5 247.2L696.8 254.5L697.1 262.5L697.4 269.8L697.7 277.2L698.0 284.0L698.3 290.3L698.6 296.8L698.9 302.5L699.2 308.6L699.5 314.2L699.8 318.9L700.1 324.2L700.4 329.4L700.8 334.1L701.1 338.4L701.4 342.0L701.7 345.0L702.0 347.6L702.3 349.6L702.6 351.7L702.9 353.9L703.2 356.4L703.5 358.1L703.8 356.8L704.1 354.7L704.4 352.6L704.7 350.5L705.0 347.8L705.3 345.0L705.6 342.5L705.9 339.6L706.2 337.0L706.5 333.2L706.8 328.5L707.1 323.7L707.4 319.0L707.7 314.2L708.0 309.3L708.3 303.8L708.6 297.9L708.9 291.7L709.2 285.3L709.5 279.3L709.8 272.6L710.1 266.6L710.4 259.9L710.7 253.0L711.0 245.9L711.3 238.2L711.6 230.7L711.9 223.1L712.2 215.5L712.5 208.3L712.8 200.7L713.1 193.4L713.4 186.8L713.7 179.3L714.0 172.4L714.3 165.0L714.6 157.6L714.9 150.6L715.2 143.9L715.5 137.3L715.8 131.1L716.1 124.6L716.4 117.9L716.7 111.5L717.0 104.8L717.3 98.9L717.6 93.4L717.9 88.7L718.2 84.1L718.5 79.9L718.8 75.0L719.1 70.4L719.4 66.6L719.7 63.2L720.0 60.4L720.3 57.5L720.6 54.8L720.9 52.5L721.2 50.6L721.5 48.6L721.8 46.3L722.1 44.8L722.4 46.5L722.7 48.9L723.0 51.1L723.3 53.6L723.6 56.2L723.9 59.3L724.2 62.7L724.5 66.4L724.8 70.1L725.1 74.3L725.4 79.7L725.7 85.2L726.0 90.9L726.3 97.5L726.7 103.4L727.0 109.7L727.3 116.8L727.6 124.1L727.9 131.4L728.2 139.2L728.5 146.6L728.8 153.4L729.1 161.4L729.4 169.2L729.7 177.3L730.0 185.8L730.3 193.6L730.6 200.9L730.9 209.1L731.2 216.8L731.5 225.3L731.8 233.9L732.1 241.9L732.4 250.5L732.7 257.9L733.0 265.8L733.3 273.2L733.6 280.8L733.9 288.4L734.2 295.2L734.5 301.8L734.8 308.5L735.2 314.4L735.5 320.6L735.8 326.5L736.1 331.1L736.4 336.1L736.7 340.2L737.0 343.6L737.3 347.9L737.6 351.5L737.9 354.6L738.2 357.9L738.5 359.8L738.8 361.9L739.1 365.4L739.4 366.9L739.7 365.6L740.0 363.9L740.3 361.2L740.6 358.9L740.9 356.4L741.2 353.3L741.5 350.3L741.8 347.2L742.1 344.0L742.4 339.8L742.7 334.8L743.0 329.3L743.3 324.7L743.6 319.3L743.9 314.3L744.2 309.1L744.5 302.8L744.8 296.7L745.1 290.3L745.4 282.9L745.7 276.3L746.0 269.7L746.3 263.0L746.6 256.3L746.9 248.8L747.2 241.0L747.5 233.5L747.8 226.2L748.1 218.3L748.4 210.5L748.7 202.3L749.0 194.0L749.3 186.2L749.6 178.5L749.9 170.3L750.2 163.0L750.5 155.5L750.8 147.8L751.1 141.2L751.4 133.7L751.7 127.2L752.0 120.4L752.3 113.8L752.6 107.7L752.9 100.9L753.2 94.8L753.5 89.1L753.8 83.3L754.1 78.0L754.4 73.0L754.7 68.3L755.0 64.3L755.3 60.3L755.6 57.7L755.9 54.5L756.2 51.3L756.5 48.7L756.8 46.3L757.1 44.0L757.4 42.1L757.7 40.0L758.0 38.5L758.3 40.4L758.6 42.6L758.9 44.9L759.2 47.4L759.5 50.5L759.8 53.6L760.1 57.7L760.4 61.6L760.7 65.4L761.1 70.8L761.4 76.4L761.7 82.4L762.0 88.5L762.3 94.8L762.6 101.5L762.9 108.8L763.2 116.9L763.5 124.6L763.8 132.6L764.1 140.5L764.4 148.0L764.7 156.9L765.0 165.4L765.3 174.3L765.6 182.8L765.9 192.1L766.2 201.4L766.6 209.9L766.9 218.8L767.2 226.7L767.5 235.0L767.8 243.6L768.1 252.6L768.4 261.0L768.7 269.9L769.0 278.2L769.3 285.9L769.6 294.3L769.9 301.0L770.2 308.2L770.5 315.2L770.8 321.3L771.1 327.4L771.4 333.3L771.7 338.7L772.1 343.3L772.4 347.5L772.7 351.7L773.0 356.0L773.3 359.8L773.6 362.7L773.9 365.4L774.2 367.8L774.5 369.8L774.8 371.7L775.1 369.3L775.4 366.2L775.7 364.2L776.0 361.9L776.3 359.9L776.6 357.6L776.9 354.9L777.2 351.4L777.5 348.0L777.8 343.4L778.1 338.7L778.4 333.9L778.7 328.2L779.0 322.4L779.3 316.1L779.6 309.8L779.9 303.4L780.2 297.1L780.5 289.6L780.8 282.2L781.1 275.2L781.4 267.2L781.7 260.0L782.0 252.2L782.3 244.0L782.6 235.6L782.9 227.5L783.2 219.4L783.5 211.3L783.8 203.9L784.1 196.0L784.4 187.7L784.7 179.5L785.0 171.7L785.3 163.7L785.6 155.9L785.9 148.1L786.2 140.3L786.5 132.8L786.8 125.5L787.1 118.5L787.4 111.3L787.7 104.3L788.0 98.3L788.3 91.6L788.6 85.8L788.9 79.8L789.2 73.7L789.5 69.2L789.8 63.8L790.1 59.3L790.4 55.0L790.7 50.8L791.0 47.8L791.3 45.2L791.6 42.6L791.9 40.6L792.2 38.1L792.5 36.7L792.8 35.4" fill="none" stroke="#0072BD" stroke-width="1.75" stroke-linejoin="round" />
<path d="M67.0 261.8L67.3 268.3L67.6 274.7L67.9 280.9L68.2 286.8L68.5 292.5L68.8 298.0L69.1 303.2L69.4 308.1L69.7 312.7L70.0 317.0L70.3 321.0L70.6 324.7L70.9 328.0L71.2 331.0L71.5 333.6L71.8 335.8L72.1 337.7L72.4 339.2L72.7 340.3L73.0 341.0L73.3 341.4L73.6 341.3L73.9 340.9L74.2 340.0L74.5 338.8L74.8 337.3L75.1 335.3L75.4 332.9L75.7 330.2L76.0 327.2L76.3 323.8L76.6 320.0L76.9 316.0L77.2 311.6L77.5 306.9L77.8 301.9L78.1 296.6L78.4 291.1L78.7 285.3L79.0 279.3L79.3 273.1L79.6 266.7L79.9 260.1L80.2 253.3L80.5 246.4L80.8 239.4L81.1 232.3L81.4 225.1L81.7 217.8L82.0 210.5L82.3 203.1L82.6 195.8L82.9 188.5L83.2 181.2L83.5 174.0L83.8 166.9L84.1 159.8L84.4 152.9L84.7 146.1L85.0 139.5L85.3 133.1L85.6 126.8L85.9 120.8L86.2 115.0L86.5 109.4L86.8 104.1L87.1 99.1L87.4 94.4L87.7 89.9L88.0 85.8L88.3 82.0L88.6 78.6L88.9 75.5L89.2 72.7L89.5 70.3L89.8 68.3L90.1 66.7L90.4 65.4L90.7 64.6L91.0 64.1L91.3 64.0L91.6 64.3L91.9 64.9L92.2 66.0L92.5 67.4L92.8 69.3L93.1 71.5L93.4 74.0L93.7 76.9L94.0 80.2L94.3 83.8L94.6 87.8L94.9 92.1L95.2 96.6L95.5 101.5L95.8 106.7L96.1 112.1L96.4 117.8L96.7 123.7L97.0 129.9L97.3 136.2L97.6 142.7L97.9 149.4L98.2 156.3L98.5 163.3L98.8 170.3L99.1 177.5L99.4 184.8L99.7 192.1L100.0 199.4L100.3 206.7L100.6 214.1L100.9 221.4L101.2 228.6L101.5 235.8L101.8 242.8L102.1 249.8L102.4 256.6L102.7 263.3L103.0 269.8L103.3 276.2L103.6 282.3L103.9 288.2L104.2 293.8L104.5 299.2L104.8 304.4L105.1 309.2L105.4 313.8L105.7 318.0L106.0 321.9L106.3 325.5L106.6 328.7L106.9 331.6L107.2 334.1L107.5 336.3L107.8 338.1L108.1 339.5L108.4 340.5L108.7 341.1L109.0 341.4L109.3 341.2L109.6 340.7L109.9 339.8L110.2 338.5L110.5 336.8L110.8 334.8L111.1 332.3L111.4 329.6L111.7 326.4L112.0 322.9L112.3 319.1L112.6 315.0L112.9 310.5L113.2 305.7L113.5 300.7L113.8 295.4L114.1 289.8L114.4 283.9L114.7 277.9L115.0 271.6L115.3 265.1L115.6 258.5L115.9 251.7L116.2 244.8L116.5 237.7L116.8 230.6L117.1 223.4L117.4 216.1L117.7 208.8L118.0 201.4L118.3 194.1L118.6 186.8L118.9 179.5L119.2 172.3L119.5 165.2L119.8 158.2L120.1 151.3L120.4 144.6L120.7 138.0L121.0 131.6L121.3 125.4L121.6 119.4L121.9 113.7L122.2 108.2L122.5 102.9L122.8 98.0L123.1 93.3L123.4 88.9L123.7 84.9L124.0 81.2L124.3 77.8L124.6 74.8L124.9 72.1L125.2 69.8L125.5 67.9L125.8 66.4L126.1 65.2L126.4 64.4L126.7 64.0L127.0 64.0L127.3 64.4L127.6 65.2L127.9 66.3L128.2 67.8L128.5 69.7L128.8 72.0L129.1 74.7L129.4 77.7L129.7 81.0L130.0 84.7L130.3 88.8L130.6 93.1L130.9 97.8L131.2 102.7L131.5 107.9L131.8 113.4L132.1 119.2L132.4 125.1L132.7 131.3L133.0 137.7L133.3 144.3L133.6 151.0L133.9 157.9L134.2 164.9L134.5 172.0L134.8 179.2L135.1 186.5L135.4 193.8L135.7 201.1L136.0 208.4L136.3 215.8L136.6 223.0L136.9 230.3L137.2 237.4L137.5 244.5L137.8 251.4L138.1 258.2L138.4 264.9L138.7 271.3L139.0 277.6L139.3 283.7L139.6 289.5L139.9 295.1L140.2 300.4L140.5 305.5L140.8 310.3L141.1 314.8L141.4 318.9L141.7 322.8L142.0 326.3L142.3 329.4L142.6 332.2L142.9 334.7L143.2 336.7L143.5 338.4L143.8 339.8L144.1 340.7L144.4 341.2L144.7 341.4L145.0 341.2L145.3 340.5L145.6 339.5L145.9 338.1L146.2 336.4L146.5 334.2L146.8 331.7L147.1 328.9L147.4 325.6L147.7 322.1L148.0 318.2L148.3 313.9L148.6 309.4L148.9 304.6L149.2 299.5L149.5 294.1L149.8 288.4L150.1 282.5L150.4 276.4L150.7 270.1L151.0 263.6L151.3 256.9L151.6 250.1L151.9 243.2L152.2 236.1L152.5 228.9L152.8 221.7L153.1 214.4L153.4 207.1L153.7 199.7L154.0 192.4L154.3 185.1L154.6 177.8L154.9 170.7L155.2 163.6L155.5 156.6L155.8 149.7L156.1 143.0L156.4 136.5L156.7 130.1L157.0 124.0L157.3 118.1L157.6 112.4L157.9 106.9L158.2 101.7L158.5 96.9L158.8 92.3L159.1 88.0L159.4 84.0L159.7 80.4L160.0 77.1L160.3 74.1L160.6 71.6L160.9 69.4L161.2 67.5L161.5 66.1L161.8 65.0L162.1 64.3L162.4 64.0L162.7 64.1L163.0 64.5L163.3 65.4L163.6 66.6L163.9 68.2L164.2 70.2L164.5 72.6L164.8 75.3L165.1 78.4L165.4 81.9L165.7 85.6L166.0 89.7L166.3 94.2L166.6 98.9L166.9 103.9L167.2 109.2L167.5 114.7L167.8 120.5L168.1 126.6L168.4 132.8L168.7 139.2L169.0 145.8L169.3 152.6L169.6 159.5L169.9 166.5L170.2 173.7L170.5 180.9L170.8 188.2L171.1 195.5L171.4 202.8L171.7 210.2L172.0 217.5L172.3 224.7L172.6 231.9L172.9 239.1L173.2 246.1L173.5 253.0L173.8 259.8L174.1 266.4L174.4 272.8L174.7 279.0L175.0 285.1L175.3 290.8L175.6 296.4L175.9 301.7L176.2 306.7L176.5 311.4L176.8 315.8L177.1 319.9L177.4 323.6L177.7 327.0L178.0 330.1L178.3 332.8L178.6 335.2L178.9 337.2L179.2 338.8L179.5 340.0L179.8 340.8L180.1 341.3L180.4 341.4L180.7 341.0L181.0 340.3L181.3 339.2L181.6 337.8L181.9 335.9L182.2 333.7L182.5 331.1L182.8 328.1L183.1 324.8L183.4 321.2L183.7 317.2L184.0 312.9L184.3 308.3L184.6 303.4L184.9 298.2L185.2 292.8L185.5 287.1L185.8 281.1L186.1 275.0L186.4 268.6L186.7 262.1L187.0 255.4L187.3 248.5L187.6 241.5L187.9 234.4L188.2 227.2L188.5 220.0L188.8 212.7L189.1 205.3L189.4 198.0L189.7 190.7L190.0 183.4L190.3 176.2L190.6 169.0L190.9 161.9L191.2 155.0L191.5 148.2L191.8 141.5L192.1 135.0L192.4 128.7L192.7 122.6L193.0 116.7L193.3 111.1L193.6 105.7L193.9 100.6L194.2 95.8L194.5 91.2L194.8 87.0L195.1 83.1L195.4 79.6L195.7 76.4L196.0 73.5L196.3 71.0L196.6 68.9L196.9 67.1L197.2 65.8L197.5 64.8L197.8 64.2L198.1 64.0L198.4 64.1L198.7 64.7L199.0 65.6L199.3 67.0L199.6 68.7L199.9 70.8L200.2 73.2L200.5 76.0L200.8 79.2L201.1 82.7L201.4 86.6L201.7 90.7L202.0 95.2L202.3 100.0L202.6 105.1L202.9 110.5L203.2 116.1L203.5 121.9L203.8 128.0L204.1 134.3L204.4 140.8L204.7 147.4L205.0 154.2L205.3 161.1L205.6 168.2L205.9 175.4L206.2 182.6L206.5 189.9L206.8 197.2L207.1 204.5L207.4 211.9L207.7 219.2L208.0 226.4L208.3 233.6L208.6 240.7L208.9 247.7L209.2 254.6L209.5 261.3L209.8 267.9L210.1 274.3L210.4 280.5L210.7 286.4L211.0 292.2L211.3 297.6L211.6 302.8L211.9 307.8L212.2 312.4L212.5 316.8L212.8 320.8L213.1 324.4L213.4 327.8L213.7 330.8L214.0 333.4L214.3 335.7L214.6 337.6L214.9 339.1L215.2 340.2L215.5 341.0L215.8 341.3L216.1 341.3L216.4 340.9L216.7 340.1L217.0 338.9L217.3 337.4L217.6 335.4L217.9 333.1L218.2 330.4L218.5 327.4L218.8 324.0L219.1 320.3L219.4 316.2L219.7 311.9L220.0 307.2L220.3 302.2L220.6 297.0L220.9 291.5L221.2 285.7L221.5 279.7L221.8 273.5L222.1 267.1L222.4 260.5L222.7 253.8L223.0 246.9L223.3 239.9L223.6 232.7L223.9 225.5L224.2 218.3L224.5 211.0L224.8 203.6L225.1 196.3L225.4 189.0L225.7 181.7L226.0 174.5L226.3 167.3L226.6 160.3L226.9 153.4L227.2 146.6L227.5 139.9L227.8 133.5L228.1 127.2L228.4 121.2L228.7 115.4L229.0 109.8L229.3 104.5L229.6 99.4L229.9 94.7L230.2 90.2L230.5 86.1L230.8 82.3L231.1 78.8L231.4 75.7L231.7 72.9L232.0 70.5L232.3 68.5L232.6 66.8L232.9 65.5L233.2 64.6L233.5 64.1L233.8 64.0L234.1 64.2L234.4 64.9L234.7 65.9L235.0 67.3L235.3 69.1L235.6 71.3L235.9 73.8L236.2 76.7L236.5 80.0L236.8 83.6L237.1 87.5L237.4 91.8L237.7 96.3L238.0 101.2L238.3 106.3L238.6 111.7L238.9 117.4L239.2 123.3L239.5 129.4L239.8 135.8L240.1 142.3L240.4 149.0L240.7 155.8L241.0 162.8L241.3 169.9L241.6 177.0L241.9 184.3L242.2 191.6L242.5 198.9L242.8 206.2L243.1 213.6L243.4 220.9L243.7 228.1L244.0 235.3L244.3 242.4L244.6 249.3L244.9 256.2L245.2 262.9L245.5 269.4L245.8 275.7L246.1 281.9L246.4 287.8L246.7 293.5L247.0 298.9L247.3 304.0L247.6 308.9L247.9 313.5L248.2 317.7L248.5 321.7L248.8 325.3L249.1 328.5L249.4 331.4L249.7 334.0L250.0 336.2L250.3 338.0L250.6 339.4L250.9 340.4L251.2 341.1L251.5 341.4L251.8 341.3L252.1 340.8L252.4 339.9L252.7 338.6L253.0 336.9L253.3 334.9L253.6 332.5L253.9 329.8L254.2 326.6L254.5 323.2L254.8 319.4L255.1 315.2L255.4 310.8L255.7 306.1L256.0 301.0L256.3 295.7L256.6 290.1L256.9 284.3L257.2 278.3L257.5 272.0L257.8 265.6L258.1 259.0L258.4 252.2L258.7 245.3L259.0 238.2L259.3 231.1L259.6 223.9L259.9 216.6L260.2 209.3L260.5 201.9L260.8 194.6L261.1 187.3L261.4 180.0L261.7 172.8L262.0 165.7L262.3 158.7L262.6 151.8L262.9 145.0L263.2 138.4L263.5 132.0L263.8 125.8L264.1 119.8L264.4 114.0L264.7 108.5L265.0 103.3L265.3 98.3L265.6 93.6L265.9 89.2L266.2 85.2L266.5 81.4L266.8 78.0L267.1 75.0L267.4 72.3L267.7 70.0L268.0 68.0L268.3 66.5L268.6 65.3L268.9 64.5L269.2 64.0L269.5 64.0L269.8 64.3L270.1 65.1L270.4 66.2L270.7 67.7L271.0 69.6L271.3 71.9L271.6 74.5L271.9 77.5L272.2 80.8L272.5 84.5L272.8 88.5L273.1 92.8L273.4 97.4L273.7 102.4L274.0 107.6L274.3 113.0L274.6 118.8L274.9 124.7L275.2 130.9L275.5 137.3L275.8 143.8L276.1 150.6L276.4 157.4L276.7 164.4L277.0 171.5L277.3 178.7L277.6 186.0L277.9 193.3L278.2 200.6L278.5 208.0L278.8 215.3L279.1 222.6L279.4 229.8L279.7 236.9L280.0 244.0L280.3 251.0L280.6 257.8L280.9 264.4L281.2 270.9L281.5 277.2L281.8 283.3L282.1 289.1L282.4 294.7L282.7 300.1L283.0 305.2L283.3 310.0L283.6 314.5L283.9 318.7L284.2 322.5L284.5 326.1L284.8 329.2L285.1 332.1L285.4 334.5L285.7 336.6L286.0 338.3L286.3 339.7L286.6 340.6L286.9 341.2L287.2 341.4L287.5 341.2L287.8 340.6L288.1 339.6L288.4 338.3L288.7 336.5L289.0 334.4L289.3 331.9L289.6 329.1L289.9 325.9L290.2 322.3L290.5 318.4L290.8 314.2L291.1 309.7L291.4 304.9L291.7 299.8L292.0 294.4L292.3 288.8L292.6 282.9L292.9 276.8L293.2 270.5L293.5 264.1L293.8 257.4L294.1 250.6L294.4 243.6L294.7 236.6L295.0 229.4L295.3 222.2L295.6 214.9L295.9 207.5L296.2 200.2L296.5 192.9L296.8 185.6L297.1 178.3L297.4 171.1L297.7 164.0L298.0 157.0L298.3 150.2L298.6 143.5L298.9 136.9L299.2 130.5L299.5 124.4L299.8 118.4L300.1 112.7L300.4 107.3L300.7 102.1L301.0 97.2L301.3 92.6L301.6 88.2L301.9 84.3L302.2 80.6L302.5 77.3L302.8 74.3L303.1 71.7L303.4 69.5L303.7 67.6L304.0 66.1L304.3 65.0L304.6 64.3L304.9 64.0L305.2 64.0L305.5 64.5L305.8 65.3L306.1 66.5L306.4 68.1L306.7 70.1L307.0 72.4L307.3 75.2L307.6 78.2L307.9 81.6L308.2 85.4L308.5 89.5L308.8 93.9L309.1 98.6L309.4 103.6L309.7 108.8L310.0 114.4L310.3 120.1L310.6 126.1L310.9 132.4L311.2 138.8L311.5 145.4L311.8 152.1L312.1 159.1L312.4 166.1L312.7 173.2L313.0 180.4L313.3 187.7L313.6 195.0L313.9 202.3L314.2 209.7L314.5 217.0L314.8 224.3L315.1 231.5L315.4 238.6L315.7 245.6L316.0 252.6L316.3 259.3L316.6 265.9L316.9 272.4L317.2 278.6L317.5 284.7L317.8 290.5L318.1 296.0L318.4 301.3L318.7 306.3L319.0 311.1L319.3 315.5L319.6 319.6L319.9 323.4L320.2 326.8L320.5 329.9L320.8 332.7L321.1 335.0L321.4 337.1L321.7 338.7L322.0 339.9L322.3 340.8L322.6 341.3L322.9 341.4L323.2 341.1L323.5 340.4L323.8 339.3L324.1 337.9L324.4 336.0L324.7 333.8L325.0 331.3L325.3 328.3L325.6 325.1L325.9 321.4L326.2 317.5L326.5 313.2L326.8 308.6L327.1 303.7L327.4 298.6L327.7 293.1L328.0 287.5L328.3 281.5L328.6 275.4L328.9 269.0L329.2 262.5L329.5 255.8L329.8 249.0L330.1 242.0L330.4 234.9L330.7 227.7L331.0 220.5L331.3 213.2L331.6 205.8L331.9 198.5L332.2 191.2L332.5 183.9L332.8 176.6L333.1 169.5L333.4 162.4L333.7 155.4L334.0 148.6L334.3 141.9L334.6 135.4L334.9 129.1L335.2 123.0L335.5 117.1L335.8 111.4L336.1 106.0L336.4 100.9L336.7 96.1L337.0 91.5L337.3 87.3L337.6 83.4L337.9 79.8L338.2 76.6L338.5 73.7L338.8 71.2L339.1 69.0L339.4 67.2L339.7 65.9L340.0 64.8L340.3 64.2L340.6 64.0L340.9 64.1L341.2 64.6L341.5 65.6L341.8 66.9L342.1 68.6L342.4 70.6L342.7 73.0L343.0 75.8L343.3 79.0L343.6 82.5L343.9 86.3L344.2 90.5L344.5 94.9L344.8 99.7L345.1 104.8L345.4 110.1L345.7 115.7L346.0 121.5L346.3 127.6L346.6 133.8L346.9 140.3L347.2 147.0L347.5 153.7L347.8 160.7L348.1 167.7L348.4 174.9L348.7 182.1L349.0 189.4L349.3 196.7L349.6 204.0L349.9 211.4L350.2 218.7L350.5 225.9L350.8 233.1L351.1 240.3L351.4 247.3L351.7 254.1L352.0 260.9L352.3 267.5L352.6 273.9L352.9 280.1L353.2 286.0L353.5 291.8L353.8 297.3L354.1 302.5L354.4 307.5L354.7 312.1L355.0 316.5L355.3 320.5L355.6 324.2L355.9 327.6L356.2 330.6L356.5 333.3L356.8 335.5L357.1 337.5L357.4 339.0L357.7 340.2L358.0 340.9L358.3 341.3L358.6 341.3L358.9 341.0L359.2 340.2L359.5 339.0L359.8 337.5L360.1 335.6L360.4 333.3L360.7 330.6L361.0 327.6L361.3 324.3L361.6 320.6L361.9 316.5L362.2 312.2L362.5 307.5L362.8 302.6L363.1 297.3L363.4 291.8L363.7 286.1L364.0 280.1L364.3 273.9L364.6 267.5L364.9 261.0L365.2 254.2L365.5 247.3L365.8 240.3L366.1 233.2L366.4 226.0L366.7 218.8L367.0 211.5L367.3 204.1L367.6 196.8L367.9 189.5L368.2 182.2L368.5 175.0L368.8 167.8L369.1 160.8L369.4 153.8L369.7 147.0L370.0 140.4L370.3 133.9L370.6 127.6L370.9 121.6L371.2 115.7L371.5 110.1L371.8 104.8L372.1 99.8L372.4 95.0L372.7 90.5L373.0 86.3L373.3 82.5L373.6 79.0L373.9 75.9L374.2 73.1L374.5 70.6L374.8 68.6L375.1 66.9L375.4 65.6L375.7 64.7L376.0 64.1L376.3 64.0L376.6 64.2L376.9 64.8L377.2 65.8L377.5 67.2L377.8 69.0L378.1 71.1L378.4 73.7L378.7 76.5L379.0 79.8L379.3 83.3L379.6 87.2L379.9 91.5L380.2 96.0L380.5 100.9L380.8 106.0L381.1 111.4L381.4 117.0L381.7 122.9L382.0 129.0L382.3 135.3L382.6 141.8L382.9 148.5L383.2 155.4L383.5 162.3L383.8 169.4L384.1 176.6L384.4 183.8L384.7 191.1L385.0 198.4L385.3 205.8L385.6 213.1L385.9 220.4L386.2 227.6L386.5 234.8L386.8 241.9L387.1 248.9L387.4 255.7L387.7 262.4L388.0 269.0L388.3 275.3L388.6 281.5L388.9 287.4L389.2 293.1L389.5 298.5L389.8 303.7L390.1 308.6L390.4 313.2L390.7 317.4L391.0 321.4L391.3 325.0L391.6 328.3L391.9 331.2L392.2 333.8L392.5 336.0L392.8 337.9L393.1 339.3L393.4 340.4L393.7 341.1L394.0 341.4L394.3 341.3L394.6 340.8L394.9 339.9L395.2 338.7L395.5 337.1L395.8 335.1L396.1 332.7L396.4 330.0L396.7 326.9L397.0 323.4L397.3 319.6L397.6 315.5L397.9 311.1L398.2 306.4L398.5 301.4L398.8 296.1L399.1 290.5L399.4 284.7L399.7 278.7L400.0 272.5L400.3 266.0L400.6 259.4L400.9 252.6L401.2 245.7L401.5 238.7L401.8 231.6L402.1 224.3L402.4 217.1L402.7 209.7L403.0 202.4L403.3 195.1L403.6 187.8L403.9 180.5L404.2 173.3L404.5 166.2L404.8 159.1L405.1 152.2L405.4 145.5L405.7 138.9L406.0 132.4L406.3 126.2L406.6 120.2L406.9 114.4L407.2 108.9L407.5 103.6L407.8 98.6L408.1 93.9L408.4 89.5L408.7 85.4L409.0 81.7L409.3 78.3L409.6 75.2L409.9 72.5L410.2 70.1L410.5 68.1L410.8 66.5L411.1 65.3L411.4 64.5L411.7 64.0L412.0 64.0L412.3 64.3L412.6 65.0L412.9 66.1L413.2 67.6L413.5 69.5L413.8 71.7L414.1 74.3L414.4 77.3L414.7 80.6L415.0 84.2L415.3 88.2L415.6 92.5L415.9 97.1L416.2 102.0L416.5 107.2L416.8 112.7L417.1 118.4L417.4 124.3L417.7 130.5L418.0 136.8L418.3 143.4L418.6 150.1L418.9 157.0L419.2 164.0L419.5 171.1L419.8 178.2L420.1 185.5L420.4 192.8L420.7 200.1L421.0 207.5L421.3 214.8L421.6 222.1L421.9 229.3L422.2 236.5L422.5 243.5L422.6 254.8L422.6 194.9L422.8 207.9L423.1 203.6L423.4 202.9L423.7 204.8L424.0 206.2L424.3 206.1L424.6 205.5L424.9 205.4L425.2 205.7L425.5 206.0L425.8 206.0L426.1 206.1L426.4 206.1L426.7 206.2L427.0 206.2L427.3 206.3L427.6 206.3L427.9 206.3L428.2 206.3L428.5 206.3L428.8 206.3L429.1 206.3L429.4 206.2L429.7 206.2L430.0 206.1L430.3 206.1L430.6 206.0L430.9 205.9L431.2 205.8L431.5 205.7L431.8 205.6L432.1 205.5L432.4 205.4L432.7 205.2L433.0 205.1L433.3 204.9L433.6 204.8L433.9 204.6L434.2 204.5L434.5 204.3L434.8 204.1L435.1 203.9L435.4 203.7L435.7 203.6L436.0 203.4L436.3 203.2L436.6 203.0L436.9 202.8L437.2 202.6L437.5 202.4L437.8 202.2L438.1 202.0L438.4 201.8L438.7 201.7L439.0 201.5L439.3 201.3L439.6 201.1L439.9 200.9L440.2 200.8L440.5 200.6L440.8 200.5L441.1 200.3L441.4 200.2L441.7 200.0L442.0 199.9L442.3 199.8L442.6 199.7L442.9 199.6L443.2 199.5L443.5 199.4L443.8 199.3L444.1 199.2L444.4 199.2L444.7 199.1L445.0 199.1L445.3 199.1L445.6 199.0L445.9 199.0L446.2 199.0L446.5 199.0L446.8 199.1L447.1 199.1L447.4 199.1L447.7 199.2L448.0 199.2L448.3 199.3L448.6 199.4L448.9 199.5L449.2 199.6L449.5 199.7L449.8 199.8L450.1 199.9L450.4 200.1L450.7 200.2L451.0 200.4L451.3 200.5L451.6 200.7L451.9 200.8L452.2 201.0L452.5 201.2L452.8 201.3L453.1 201.5L453.4 201.7L453.7 201.9L454.0 202.1L454.3 202.3L454.6 202.5L454.9 202.7L455.2 202.9L455.5 203.1L455.8 203.2L456.1 203.4L456.4 203.6L456.7 203.8L457.0 204.0L457.3 204.2L457.6 204.3L457.9 204.5L458.2 204.7L458.5 204.8L458.8 205.0L459.1 205.1L459.4 205.3L459.7 205.4L460.0 205.5L460.3 205.6L460.6 205.8L460.9 205.9L461.2 205.9L461.5 206.0L461.8 206.1L462.1 206.2L462.4 206.2L462.7 206.3L463.0 206.3L463.3 206.3L463.6 206.3L463.9 206.3L464.2 206.3L464.5 206.3L464.8 206.3L465.1 206.2L465.4 206.2L465.7 206.1L466.0 206.1L466.3 206.0L466.6 205.9L466.9 205.8L467.2 205.7L467.5 205.6L467.8 205.5L468.1 205.3L468.4 205.2L468.7 205.1L469.0 204.9L469.3 204.7L469.6 204.6L469.9 204.4L470.2 204.2L470.5 204.1L470.8 203.9L471.1 203.7L471.4 203.5L471.7 203.3L472.0 203.1L472.3 202.9L472.6 202.8L472.9 202.6L473.2 202.4L473.5 202.2L473.8 202.0L474.1 201.8L474.4 201.6L474.7 201.4L475.0 201.2L475.3 201.1L475.6 200.9L475.9 200.7L476.2 200.6L476.5 200.4L476.8 200.3L477.1 200.1L477.4 200.0L477.7 199.9L478.0 199.7L478.3 199.6L478.6 199.5L478.9 199.4L479.2 199.4L479.5 199.3L479.8 199.2L480.1 199.2L480.4 199.1L480.7 199.1L481.0 199.0L481.3 199.0L481.6 199.0L481.9 199.0L482.2 199.0L482.5 199.1L482.8 199.1L483.1 199.1L483.4 199.2L483.7 199.3L484.0 199.3L484.3 199.4L484.6 199.5L484.9 199.6L485.2 199.7L485.5 199.8L485.8 200.0L486.1 200.1L486.4 200.2L486.7 200.4L487.0 200.5L487.3 200.7L487.6 200.9L487.9 201.0L488.2 201.2L488.5 201.4L488.8 201.6L489.1 201.8L489.4 201.9L489.7 202.1L490.0 202.3L490.3 202.5L490.6 202.7L490.9 202.9L491.2 203.1L491.5 203.3L491.8 203.5L492.1 203.7L492.4 203.9L492.7 204.0L493.0 204.2L493.3 204.4L493.6 204.6L493.9 204.7L494.2 204.9L494.5 205.0L494.8 205.2L495.1 205.3L495.4 205.4L495.7 205.6L496.0 205.7L496.3 205.8L496.6 205.9L496.9 206.0L497.2 206.0L497.5 206.1L497.8 206.2L498.1 206.2L498.4 206.3L498.7 206.3L499.0 206.3L499.3 206.3L499.6 206.3L499.9 206.3L500.2 206.3L500.5 206.3L500.8 206.2L501.1 206.2L501.4 206.1L501.7 206.0L502.0 206.0L502.3 205.9L502.6 205.8L502.9 205.7L503.2 205.6L503.5 205.4L503.8 205.3L504.1 205.2L504.4 205.0L504.7 204.9L505.0 204.7L505.3 204.5L505.6 204.4L505.9 204.2L506.2 204.0L506.5 203.8L506.8 203.7L507.1 203.5L507.4 203.3L507.7 203.1L508.0 202.9L508.3 202.7L508.6 202.5L508.9 202.3L509.2 202.1L509.5 201.9L509.8 201.8L510.1 201.6L510.4 201.4L510.7 201.2L511.0 201.0L511.3 200.9L511.6 200.7L511.9 200.5L512.2 200.4L512.5 200.2L512.8 200.1L513.1 200.0L513.4 199.8L513.7 199.7L514.0 199.6L514.3 199.5L514.6 199.4L514.9 199.3L515.2 199.3L515.5 199.2L515.8 199.1L516.1 199.1L516.4 199.1L516.7 199.0L517.0 199.0L517.3 199.0L517.6 199.0L517.9 199.0L518.2 199.1L518.5 199.1L518.8 199.2L519.1 199.2L519.4 199.3L519.7 199.4L520.0 199.4L520.3 199.5L520.6 199.6L520.9 199.8L521.2 199.9L521.5 200.0L521.8 200.1L522.1 200.3L522.4 200.4L522.7 200.6L523.0 200.7L523.3 200.9L523.6 201.1L523.9 201.3L524.2 201.4L524.5 201.6L524.8 201.8L525.1 202.0L525.4 202.2L525.7 202.4L526.0 202.6L526.3 202.8L526.6 203.0L526.9 203.1L527.2 203.3L527.5 203.5L527.8 203.7L528.1 203.9L528.4 204.1L528.7 204.3L529.0 204.4L529.3 204.6L529.6 204.8L529.9 204.9L530.2 205.1L530.5 205.2L530.8 205.3L531.1 205.5L531.4 205.6L531.7 205.7L532.0 205.8L532.3 205.9L532.6 206.0L532.9 206.1L533.2 206.1L533.5 206.2L533.8 206.2L534.1 206.3L534.4 206.3L534.7 206.3L535.0 206.3L535.3 206.3L535.6 206.3L535.9 206.3L536.2 206.3L536.5 206.2L536.8 206.2L537.1 206.1L537.4 206.0L537.7 205.9L538.0 205.9L538.3 205.8L538.6 205.6L538.9 205.5L539.2 205.4L539.5 205.3L539.8 205.1L540.1 205.0L540.4 204.8L540.7 204.7L541.0 204.5L541.3 204.3L541.6 204.2L541.9 204.0L542.2 203.8L542.5 203.6L542.8 203.4L543.1 203.2L543.4 203.0L543.7 202.9L544.0 202.7L544.3 202.5L544.6 202.3L544.9 202.1L545.2 201.9L545.5 201.7L545.8 201.5L546.1 201.3L546.4 201.2L546.7 201.0L547.0 200.8L547.3 200.7L547.6 200.5L547.9 200.3L548.2 200.2L548.5 200.1L548.8 199.9L549.1 199.8L549.4 199.7L549.7 199.6L550.0 199.5L550.3 199.4L550.6 199.3L550.9 199.2L551.2 199.2L551.5 199.1L551.8 199.1L552.1 199.1L552.4 199.0L552.7 199.0L553.0 199.0L553.3 199.0L553.6 199.1L553.9 199.1L554.2 199.1L554.5 199.2L554.8 199.2L555.1 199.3L555.4 199.4L555.7 199.5L556.0 199.6L556.3 199.7L556.6 199.8L556.9 199.9L557.2 200.0L557.5 200.2L557.8 200.3L558.1 200.5L558.4 200.6L558.7 200.8L559.0 200.9L559.3 201.1L559.6 201.3L559.9 201.5L560.2 201.7L560.5 201.8L560.8 202.0L561.1 202.2L561.4 202.4L561.7 202.6L562.0 202.8L562.3 203.0L562.6 203.2L562.9 203.4L563.2 203.6L563.5 203.8L563.8 203.9L564.1 204.1L564.4 204.3L564.7 204.5L565.0 204.6L565.3 204.8L565.6 204.9L565.9 205.1L566.2 205.2L566.5 205.4L566.8 205.5L567.1 205.6L567.4 205.7L567.7 205.8L568.0 205.9L568.3 206.0L568.6 206.1L568.9 206.1L569.2 206.2L569.5 206.2L569.8 206.3L570.1 206.3L570.4 206.3L570.7 206.3L571.0 206.3L571.3 206.3L571.6 206.3L571.9 206.2L572.2 206.2L572.5 206.1L572.8 206.1L573.1 206.0L573.4 205.9L573.7 205.8L574.0 205.7L574.3 205.6L574.6 205.5L574.9 205.4L575.2 205.2L575.5 205.1L575.8 204.9L576.1 204.8L576.4 204.6L576.7 204.5L577.0 204.3L577.3 204.1L577.6 203.9L577.9 203.8L578.2 203.6L578.5 203.4L578.8 203.2L579.1 203.0L579.4 202.8L579.7 202.6L580.0 202.4L580.3 202.2L580.6 202.0L580.9 201.9L581.2 201.7L581.5 201.5L581.8 201.3L582.1 201.1L582.4 201.0L582.7 200.8L583.0 200.6L583.3 200.5L583.6 200.3L583.9 200.2L584.2 200.0L584.5 199.9L584.8 199.8L585.1 199.7L585.4 199.6L585.7 199.5L586.0 199.4L586.3 199.3L586.6 199.2L586.9 199.2L587.2 199.1L587.5 199.1L587.8 199.1L588.1 199.0L588.4 199.0L588.7 199.0L589.0 199.0L589.3 199.1L589.6 199.1L589.9 199.1L590.2 199.2L590.5 199.2L590.8 199.3L591.1 199.4L591.4 199.5L591.7 199.6L592.0 199.7L592.3 199.8L592.6 199.9L592.9 200.1L593.2 200.2L593.5 200.3L593.8 200.5L594.1 200.7L594.4 200.8L594.7 201.0L595.0 201.2L595.3 201.3L595.6 201.5L595.9 201.7L596.2 201.9L596.5 202.1L596.8 202.3L597.1 202.5L597.4 202.7L597.7 202.9L598.0 203.0L598.3 203.2L598.6 203.4L598.9 203.6L599.2 203.8L599.5 204.0L599.8 204.2L600.1 204.3L600.4 204.5L600.7 204.7L601.0 204.8L601.3 205.0L601.6 205.1L601.9 205.3L602.2 205.4L602.5 205.5L602.8 205.6L603.1 205.7L603.4 205.8L603.7 205.9L604.0 206.0L604.3 206.1L604.6 206.2L604.9 206.2L605.2 206.3L605.5 206.3L605.8 206.3L606.1 206.3L606.4 206.3L606.7 206.3L607.0 206.3L607.3 206.3L607.6 206.2L607.9 206.2L608.2 206.1L608.5 206.1L608.8 206.0L609.1 205.9L609.4 205.8L609.7 205.7L610.0 205.6L610.3 205.5L610.6 205.3L610.9 205.2L611.2 205.1L611.5 204.9L611.8 204.8L612.1 204.6L612.4 204.4L612.7 204.3L613.0 204.1L613.3 203.9L613.6 203.7L613.9 203.5L614.2 203.3L614.5 203.2L614.8 203.0L615.1 202.8L615.4 202.6L615.7 202.4L616.0 202.2L616.3 202.0L616.6 201.8L616.9 201.6L617.2 201.4L617.5 201.3L617.8 201.1L618.1 200.9L618.4 200.7L618.7 200.6L619.0 200.4L619.3 200.3L619.6 200.1L619.9 200.0L620.2 199.9L620.5 199.8L620.8 199.6L621.1 199.5L621.4 199.4L621.7 199.4L622.0 199.3L622.3 199.2L622.6 199.2L622.9 199.1L623.2 199.1L623.5 199.0L623.8 199.0L624.1 199.0L624.4 199.0L624.7 199.0L625.0 199.1L625.3 199.1L625.6 199.1L625.9 199.2L626.2 199.3L626.5 199.3L626.8 199.4L627.1 199.5L627.4 199.6L627.7 199.7L628.0 199.8L628.3 200.0L628.6 200.1L628.9 200.2L629.2 200.4L629.5 200.5L629.8 200.7L630.1 200.9L630.4 201.0L630.7 201.2L631.0 201.4L631.3 201.6L631.6 201.7L631.9 201.9L632.2 202.1L632.5 202.3L632.8 202.5L633.1 202.7L633.4 202.9L633.7 203.1L634.0 203.3L634.3 203.5L634.6 203.7L634.9 203.8L635.2 204.0L635.5 204.2L635.8 204.4L636.1 204.5L636.4 204.7L636.7 204.9L637.0 205.0L637.3 205.2L637.6 205.3L637.9 205.4L638.2 205.5L638.5 205.7L638.8 205.8L639.1 205.9L639.4 206.0L639.7 206.0L640.0 206.1L640.3 206.2L640.3 317.4L640.5 316.3L640.8 318.7" fill="none" stroke="#D95319" stroke-width="1.4" stroke-linejoin="round" />
<path d="M640.8 318.7L641.1 321.0L641.4 323.0L641.7 324.7L642.0 326.1L642.3 327.0L642.6 327.6L642.6 327.6L642.9 326.6L643.2 325.3L643.5 323.7L643.8 321.9L644.1 319.8L644.4 317.4L644.7 314.7L645.0 311.8L645.3 308.7L645.6 305.3L645.9 301.7L646.2 298.2L646.5 296.4L646.8 298.6L647.1 303.2L647.5 301.8L647.8 290.5L648.1 276.5L648.4 266.3L648.7 259.4L649.0 253.6L649.3 247.8L649.6 241.9L649.9 236.0L650.2 229.9L650.5 224.0L650.8 217.7L651.1 211.3L651.4 204.9L651.7 198.7L652.0 192.3L652.3 186.2L652.6 180.0L652.9 173.4L653.2 167.3L653.5 160.9L653.8 154.5L654.1 148.4L654.4 142.3L654.7 136.5L655.0 130.9L655.3 125.4L655.6 119.9L655.9 114.9L656.2 109.7L656.5 104.9L656.9 100.3L657.2 95.2L657.5 90.9L657.8 86.7L658.1 82.5L658.4 79.3L658.7 75.8L659.0 73.2L659.3 70.8L659.6 68.2L659.9 66.2L660.2 64.5L660.5 62.9L660.8 60.9L661.1 58.7L661.4 57.3L661.7 58.6L662.0 60.8L662.3 63.0L662.6 64.9L662.9 67.1L663.2 69.6L663.5 72.4L663.8 75.6L664.1 78.6L664.4 82.8L664.7 87.1L665.0 91.7L665.3 96.7L665.6 101.3L665.9 106.7L666.2 112.1L666.5 117.9L666.8 123.8L667.1 129.7L667.4 136.0L667.7 142.2L668.0 148.9L668.3 155.9L668.6 162.6L668.9 169.9L669.2 176.8L669.5 183.9L669.8 191.3L670.1 198.2L670.5 205.7L670.8 212.9L671.1 219.8L671.4 227.4L671.7 234.8L672.0 241.4L672.3 248.6L672.6 255.1L672.9 261.9L673.2 268.6L673.5 275.2L673.8 281.4L674.1 287.3L674.4 293.2L674.7 299.0L675.0 304.5L675.3 310.0L675.6 315.2L675.9 319.8L676.2 324.7L676.5 329.0L676.8 333.0L677.1 335.9L677.4 338.9L677.7 341.6L678.0 344.0L678.3 346.3L678.6 348.1L678.9 350.6L679.2 352.9L679.5 354.7L679.8 353.1L680.1 350.3L680.4 348.0L680.7 345.7L681.0 343.1L681.3 340.8L681.6 337.6L681.9 334.5L682.2 331.2L682.5 326.6L682.8 322.2L683.1 317.2L683.4 312.3L683.7 307.0L684.1 300.8L684.4 295.0L684.7 288.8L685.0 282.1L685.3 276.1L685.6 269.5L685.9 263.0L686.2 256.2L686.5 249.1L686.8 241.2L687.1 233.9L687.4 226.4L687.7 218.7L688.0 211.5L688.3 203.2L688.6 195.2L688.9 187.6L689.2 179.7L689.5 172.5L689.8 165.2L690.1 157.8L690.4 150.7L690.7 143.3L691.0 136.3L691.3 129.4L691.6 122.8L691.9 116.7L692.2 110.2L692.5 103.9L692.8 97.8L693.2 92.2L693.5 87.0L693.8 81.6L694.1 76.7L694.4 71.3L694.7 67.4L695.0 64.5L695.3 61.3L695.6 58.2L695.9 55.1L696.2 52.5L696.5 50.1L696.8 48.6L697.1 46.1L697.4 44.9L697.7 46.6L698.0 48.8L698.3 51.3L698.6 53.2L698.9 55.8L699.2 57.7L699.5 60.9L699.8 64.3L700.1 67.4L700.4 72.2L700.7 76.3L701.0 80.8L701.3 85.3L701.6 90.5L701.9 96.2L702.2 101.8L702.5 107.8L702.8 113.8L703.1 119.9L703.4 126.7L703.7 134.0L704.0 140.8L704.3 147.8L704.6 155.0L704.9 162.1L705.2 169.4L705.5 177.0L705.8 184.4L706.1 191.4L706.4 199.6L706.7 206.9L707.0 214.4L707.3 222.2L707.6 229.5L707.9 237.1L708.2 245.0L708.5 252.6L708.8 259.5L709.1 266.5L709.4 272.6L709.7 278.9L710.0 285.7L710.3 292.2L710.6 299.0L710.9 305.0L711.2 310.6L711.5 316.0L711.8 321.2L712.1 326.5L712.4 331.2L712.7 335.9L713.0 339.7L713.3 342.7L713.6 346.0L713.9 348.6L714.2 352.1L714.5 354.4L714.8 357.0L715.1 359.3L715.4 360.8L715.7 362.8L716.0 360.5L716.3 358.0L716.6 355.8L716.9 352.9L717.2 351.1L717.5 348.4L717.8 345.4L718.1 342.0L718.4 338.3L718.7 334.0L719.0 329.6L719.3 324.8L719.6 319.3L719.9 314.1L720.2 307.9L720.5 301.7L720.8 295.6L721.1 288.9L721.4 282.5L721.7 276.2L722.0 269.4L722.3 262.5L722.6 254.6L722.9 247.0L723.2 239.1L723.5 230.8L723.8 223.3L724.1 215.0L724.4 207.1L724.8 199.0L725.1 191.2L725.4 183.7L725.7 175.5L726.0 168.1L726.3 160.3L726.6 152.8L726.9 146.1L727.2 138.4L727.5 131.2L727.8 123.8L728.1 117.0L728.4 110.8L728.7 104.8L729.0 98.6L729.3 92.5L729.6 86.5L729.9 80.8L730.2 75.5L730.5 70.2L730.8 65.9L731.1 61.0L731.4 57.9L731.7 55.3L732.0 51.5L732.3 49.0L732.6 46.5L732.9 43.1L733.2 41.1L733.5 38.4L733.8 36.1L734.1 38.4L734.4 40.4L734.7 43.4L735.0 46.5L735.3 49.2L735.6 52.2L735.9 55.0L736.2 58.4L736.5 61.2L736.8 66.1L737.1 71.3L737.4 76.8L737.7 82.7L738.0 88.0L738.3 94.2L738.6 99.8L738.9 106.5L739.2 113.5L739.5 119.6L739.8 127.0L740.1 134.3L740.4 142.0L740.7 150.3L741.0 157.7L741.3 165.6L741.6 173.2L741.9 181.0L742.2 189.8L742.5 197.4L742.9 206.0L743.2 214.4L743.5 221.8L743.8 230.0L744.1 237.4L744.4 245.0L744.7 253.3L745.0 261.4L745.3 269.6L745.6 277.0L745.9 284.3L746.2 290.9L746.5 297.1L746.8 303.7L747.1 310.0L747.4 315.8L747.7 321.4L748.0 326.6L748.3 331.6L748.6 336.8L748.9 341.7L749.2 344.9L749.5 348.3L749.8 351.3L750.1 354.1L750.4 357.0L750.7 359.7L751.0 362.5L751.3 364.8L751.6 366.2L751.9 363.9L752.2 361.5L752.5 359.1L752.8 357.1L753.1 354.6L753.4 351.3L753.7 348.3L754.0 344.5L754.3 341.4L754.6 337.3L754.9 332.8L755.2 328.2L755.5 322.5L755.8 316.7L756.1 310.2L756.4 304.5L756.7 298.6L757.0 291.4L757.3 284.8L757.6 277.3L757.9 269.4L758.2 263.0L758.5 255.5L758.8 247.8L759.1 240.7L759.4 232.4L759.7 224.3L760.0 216.5L760.3 208.2L760.7 200.5L761.0 192.3L761.3 183.9L761.6 176.5L761.9 168.2L762.2 160.5L762.5 153.4L762.8 145.3L763.1 137.4L763.4 130.0L763.7 122.4L764.0 115.5L764.3 108.7L764.6 102.3L764.9 95.6L765.2 89.3L765.5 83.6L765.8 78.1L766.1 72.8L766.4 68.1L766.7 63.3L767.0 59.0L767.3 55.3L767.6 51.1L767.9 48.1L768.2 44.8L768.5 42.6L768.8 40.4L769.1 38.3L769.4 36.2L769.7 34.7L770.0 36.4L770.3 38.4L770.6 40.6L770.9 42.8L771.2 45.8L771.5 48.7L771.8 51.9L772.1 56.0L772.4 59.6L772.7 63.9L773.0 68.7L773.3 73.4L773.6 78.4L773.9 84.5L774.2 90.6L774.5 96.4L774.8 102.8L775.1 109.3L775.4 116.2L775.7 123.5L776.0 130.3L776.3 137.7L776.6 145.7L776.9 153.4L777.2 162.4L777.5 170.5L777.8 177.7L778.1 185.8L778.4 193.6L778.7 201.8L779.0 210.6L779.3 218.9L779.6 227.1L779.9 235.0L780.2 242.3L780.5 250.4L780.8 258.1L781.1 265.9L781.4 273.3L781.7 280.3L782.0 287.4L782.3 294.2L782.6 301.2L782.9 307.4L783.2 313.5L783.5 319.9L783.8 325.6L784.1 331.6L784.4 336.5L784.7 341.6L785.0 346.2L785.3 349.6L785.6 353.1L785.9 356.3L786.2 359.2L786.5 361.8L786.8 364.9L787.1 366.5L787.4 368.0L787.7 370.1" fill="none" stroke="#D95319" stroke-width="1.75" stroke-linejoin="round" />
<path d="M67.0 64.4L67.3 64.0L67.6 64.0L67.9 64.4L68.2 65.1L68.5 66.2L68.8 67.7L69.1 69.6L69.4 71.9L69.7 74.5L70.0 77.5L70.3 80.8L70.6 84.5L70.9 88.5L71.2 92.9L71.5 97.5L71.8 102.4L72.1 107.6L72.4 113.1L72.7 118.8L73.0 124.8L73.3 131.0L73.6 137.3L73.9 143.9L74.2 150.6L74.5 157.5L74.8 164.5L75.1 171.6L75.4 178.8L75.7 186.1L76.0 193.4L76.3 200.7L76.6 208.0L76.9 215.4L77.2 222.6L77.5 229.9L77.8 237.0L78.1 244.1L78.4 251.0L78.7 257.8L79.0 264.5L79.3 271.0L79.6 277.3L79.9 283.3L80.2 289.2L80.5 294.8L80.8 300.2L81.1 305.2L81.4 310.0L81.7 314.5L82.0 318.7L82.3 322.6L82.6 326.1L82.9 329.3L83.2 332.1L83.5 334.5L83.8 336.6L84.1 338.4L84.4 339.7L84.7 340.6L85.0 341.2L85.3 341.4L85.6 341.2L85.9 340.6L86.2 339.6L86.5 338.2L86.8 336.5L87.1 334.4L87.4 331.9L87.7 329.0L88.0 325.8L88.3 322.3L88.6 318.4L88.9 314.2L89.2 309.7L89.5 304.9L89.8 299.8L90.1 294.4L90.4 288.7L90.7 282.9L91.0 276.8L91.3 270.5L91.6 264.0L91.9 257.3L92.2 250.5L92.5 243.5L92.8 236.5L93.1 229.3L93.4 222.1L93.7 214.8L94.0 207.5L94.3 200.1L94.6 192.8L94.9 185.5L95.2 178.2L95.5 171.1L95.8 164.0L96.1 157.0L96.4 150.1L96.7 143.4L97.0 136.8L97.3 130.5L97.6 124.3L97.9 118.4L98.2 112.7L98.5 107.2L98.8 102.0L99.1 97.1L99.4 92.5L99.7 88.2L100.0 84.2L100.3 80.6L100.6 77.3L100.9 74.3L101.2 71.7L101.5 69.5L101.8 67.6L102.1 66.1L102.4 65.0L102.7 64.3L103.0 64.0L103.3 64.0L103.6 64.5L103.9 65.3L104.2 66.5L104.5 68.1L104.8 70.1L105.1 72.5L105.4 75.2L105.7 78.3L106.0 81.7L106.3 85.4L106.6 89.5L106.9 93.9L107.2 98.6L107.5 103.6L107.8 108.9L108.1 114.4L108.4 120.2L108.7 126.2L109.0 132.4L109.3 138.9L109.6 145.5L109.9 152.2L110.2 159.1L110.5 166.2L110.8 173.3L111.1 180.5L111.4 187.8L111.7 195.1L112.0 202.4L112.3 209.7L112.6 217.1L112.9 224.3L113.2 231.6L113.5 238.7L113.8 245.7L114.1 252.6L114.4 259.4L114.7 266.0L115.0 272.5L115.3 278.7L115.6 284.7L115.9 290.5L116.2 296.1L116.5 301.4L116.8 306.4L117.1 311.1L117.4 315.5L117.7 319.6L118.0 323.4L118.3 326.9L118.6 330.0L118.9 332.7L119.2 335.1L119.5 337.1L119.8 338.7L120.1 339.9L120.4 340.8L120.7 341.3L121.0 341.4L121.3 341.1L121.6 340.4L121.9 339.3L122.2 337.9L122.5 336.0L122.8 333.8L123.1 331.2L123.4 328.3L123.7 325.0L124.0 321.4L124.3 317.4L124.6 313.2L124.9 308.6L125.2 303.7L125.5 298.5L125.8 293.1L126.1 287.4L126.4 281.5L126.7 275.3L127.0 269.0L127.3 262.4L127.6 255.7L127.9 248.9L128.2 241.9L128.5 234.8L128.8 227.6L129.1 220.4L129.4 213.1L129.7 205.8L130.0 198.4L130.3 191.1L130.6 183.8L130.9 176.6L131.2 169.4L131.5 162.3L131.8 155.4L132.1 148.5L132.4 141.8L132.7 135.3L133.0 129.0L133.3 122.9L133.6 117.0L133.9 111.4L134.2 106.0L134.5 100.9L134.8 96.0L135.1 91.5L135.4 87.2L135.7 83.3L136.0 79.8L136.3 76.5L136.6 73.7L136.9 71.1L137.2 69.0L137.5 67.2L137.8 65.8L138.1 64.8L138.4 64.2L138.7 64.0L139.0 64.1L139.3 64.7L139.6 65.6L139.9 66.9L140.2 68.6L140.5 70.6L140.8 73.1L141.1 75.9L141.4 79.0L141.7 82.5L142.0 86.3L142.3 90.5L142.6 95.0L142.9 99.8L143.2 104.8L143.5 110.1L143.8 115.7L144.1 121.6L144.4 127.6L144.7 133.9L145.0 140.4L145.3 147.0L145.6 153.8L145.9 160.8L146.2 167.8L146.5 175.0L146.8 182.2L147.1 189.5L147.4 196.8L147.7 204.1L148.0 211.5L148.3 218.8L148.6 226.0L148.9 233.2L149.2 240.3L149.5 247.3L149.8 254.2L150.1 261.0L150.4 267.5L150.7 273.9L151.0 280.1L151.3 286.1L151.6 291.8L151.9 297.3L152.2 302.6L152.5 307.5L152.8 312.2L153.1 316.5L153.4 320.6L153.7 324.3L154.0 327.6L154.3 330.6L154.6 333.3L154.9 335.6L155.2 337.5L155.5 339.0L155.8 340.2L156.1 341.0L156.4 341.3L156.7 341.3L157.0 340.9L157.3 340.2L157.6 339.0L157.9 337.5L158.2 335.5L158.5 333.3L158.8 330.6L159.1 327.6L159.4 324.2L159.7 320.5L160.0 316.5L160.3 312.1L160.6 307.5L160.9 302.5L161.2 297.3L161.5 291.8L161.8 286.0L162.1 280.1L162.4 273.9L162.7 267.5L163.0 260.9L163.3 254.1L163.6 247.3L163.9 240.3L164.2 233.1L164.5 225.9L164.8 218.7L165.1 211.4L165.4 204.0L165.7 196.7L166.0 189.4L166.3 182.1L166.6 174.9L166.9 167.7L167.2 160.7L167.5 153.7L167.8 147.0L168.1 140.3L168.4 133.8L168.7 127.6L169.0 121.5L169.3 115.7L169.6 110.1L169.9 104.8L170.2 99.7L170.5 94.9L170.8 90.5L171.1 86.3L171.4 82.5L171.7 79.0L172.0 75.8L172.3 73.0L172.6 70.6L172.9 68.6L173.2 66.9L173.5 65.6L173.8 64.6L174.1 64.1L174.4 64.0L174.7 64.2L175.0 64.8L175.3 65.9L175.6 67.2L175.9 69.0L176.2 71.2L176.5 73.7L176.8 76.6L177.1 79.8L177.4 83.4L177.7 87.3L178.0 91.5L178.3 96.1L178.6 100.9L178.9 106.0L179.2 111.4L179.5 117.1L179.8 123.0L180.1 129.1L180.4 135.4L180.7 141.9L181.0 148.6L181.3 155.4L181.6 162.4L181.9 169.5L182.2 176.6L182.5 183.9L182.8 191.2L183.1 198.5L183.4 205.8L183.7 213.2L184.0 220.5L184.3 227.7L184.6 234.9L184.9 242.0L185.2 249.0L185.5 255.8L185.8 262.5L186.1 269.0L186.4 275.4L186.7 281.5L187.0 287.5L187.3 293.1L187.6 298.6L187.9 303.7L188.2 308.6L188.5 313.2L188.8 317.5L189.1 321.4L189.4 325.1L189.7 328.3L190.0 331.3L190.3 333.8L190.6 336.0L190.9 337.9L191.2 339.3L191.5 340.4L191.8 341.1L192.1 341.4L192.4 341.3L192.7 340.8L193.0 339.9L193.3 338.7L193.6 337.1L193.9 335.0L194.2 332.7L194.5 329.9L194.8 326.8L195.1 323.4L195.4 319.6L195.7 315.5L196.0 311.1L196.3 306.3L196.6 301.3L196.9 296.0L197.2 290.5L197.5 284.7L197.8 278.6L198.1 272.4L198.4 265.9L198.7 259.3L199.0 252.6L199.3 245.6L199.6 238.6L199.9 231.5L200.2 224.3L200.5 217.0L200.8 209.7L201.1 202.3L201.4 195.0L201.7 187.7L202.0 180.4L202.3 173.2L202.6 166.1L202.9 159.1L203.2 152.1L203.5 145.4L203.8 138.8L204.1 132.4L204.4 126.1L204.7 120.1L205.0 114.4L205.3 108.8L205.6 103.6L205.9 98.6L206.2 93.9L206.5 89.5L206.8 85.4L207.1 81.6L207.4 78.2L207.7 75.2L208.0 72.4L208.3 70.1L208.6 68.1L208.9 66.5L209.2 65.3L209.5 64.5L209.8 64.0L210.1 64.0L210.4 64.3L210.7 65.0L211.0 66.1L211.3 67.6L211.6 69.5L211.9 71.7L212.2 74.3L212.5 77.3L212.8 80.6L213.1 84.3L213.4 88.2L213.7 92.6L214.0 97.2L214.3 102.1L214.6 107.3L214.9 112.7L215.2 118.4L215.5 124.4L215.8 130.5L216.1 136.9L216.4 143.5L216.7 150.2L217.0 157.0L217.3 164.0L217.6 171.1L217.9 178.3L218.2 185.6L218.5 192.9L218.8 200.2L219.1 207.5L219.4 214.9L219.7 222.2L220.0 229.4L220.3 236.6L220.6 243.6L220.9 250.6L221.2 257.4L221.5 264.1L221.8 270.5L222.1 276.8L222.4 282.9L222.7 288.8L223.0 294.4L223.3 299.8L223.6 304.9L223.9 309.7L224.2 314.2L224.5 318.4L224.8 322.3L225.1 325.9L225.4 329.1L225.7 331.9L226.0 334.4L226.3 336.5L226.6 338.3L226.9 339.6L227.2 340.6L227.5 341.2L227.8 341.4L228.1 341.2L228.4 340.6L228.7 339.7L229.0 338.3L229.3 336.6L229.6 334.5L229.9 332.1L230.2 329.2L230.5 326.1L230.8 322.5L231.1 318.7L231.4 314.5L231.7 310.0L232.0 305.2L232.3 300.1L232.6 294.7L232.9 289.1L233.2 283.3L233.5 277.2L233.8 270.9L234.1 264.4L234.4 257.8L234.7 251.0L235.0 244.0L235.3 236.9L235.6 229.8L235.9 222.6L236.2 215.3L236.5 208.0L236.8 200.6L237.1 193.3L237.4 186.0L237.7 178.7L238.0 171.5L238.3 164.4L238.6 157.4L238.9 150.6L239.2 143.8L239.5 137.3L239.8 130.9L240.1 124.7L240.4 118.8L240.7 113.0L241.0 107.6L241.3 102.4L241.6 97.4L241.9 92.8L242.2 88.5L242.5 84.5L242.8 80.8L243.1 77.5L243.4 74.5L243.7 71.9L244.0 69.6L244.3 67.7L244.6 66.2L244.9 65.1L245.2 64.3L245.5 64.0L245.8 64.0L246.1 64.5L246.4 65.3L246.7 66.5L247.0 68.0L247.3 70.0L247.6 72.3L247.9 75.0L248.2 78.0L248.5 81.4L248.8 85.2L249.1 89.2L249.4 93.6L249.7 98.3L250.0 103.3L250.3 108.5L250.6 114.0L250.9 119.8L251.2 125.8L251.5 132.0L251.8 138.4L252.1 145.0L252.4 151.8L252.7 158.7L253.0 165.7L253.3 172.8L253.6 180.0L253.9 187.3L254.2 194.6L254.5 201.9L254.8 209.3L255.1 216.6L255.4 223.9L255.7 231.1L256.0 238.2L256.3 245.3L256.6 252.2L256.9 259.0L257.2 265.6L257.5 272.0L257.8 278.3L258.1 284.3L258.4 290.1L258.7 295.7L259.0 301.0L259.3 306.1L259.6 310.8L259.9 315.2L260.2 319.4L260.5 323.2L260.8 326.6L261.1 329.8L261.4 332.5L261.7 334.9L262.0 336.9L262.3 338.6L262.6 339.9L262.9 340.8L263.2 341.3L263.5 341.4L263.8 341.1L264.1 340.4L264.4 339.4L264.7 338.0L265.0 336.2L265.3 334.0L265.6 331.4L265.9 328.5L266.2 325.3L266.5 321.7L266.8 317.7L267.1 313.5L267.4 308.9L267.7 304.0L268.0 298.9L268.3 293.5L268.6 287.8L268.9 281.9L269.2 275.7L269.5 269.4L269.8 262.9L270.1 256.2L270.4 249.3L270.7 242.4L271.0 235.3L271.3 228.1L271.6 220.9L271.9 213.6L272.2 206.2L272.5 198.9L272.8 191.6L273.1 184.3L273.4 177.0L273.7 169.9L274.0 162.8L274.3 155.8L274.6 149.0L274.9 142.3L275.2 135.8L275.5 129.4L275.8 123.3L276.1 117.4L276.4 111.7L276.7 106.3L277.0 101.2L277.3 96.3L277.6 91.8L277.9 87.5L278.2 83.6L278.5 80.0L278.8 76.7L279.1 73.8L279.4 71.3L279.7 69.1L280.0 67.3L280.3 65.9L280.6 64.9L280.9 64.2L281.2 64.0L281.5 64.1L281.8 64.6L282.1 65.5L282.4 66.8L282.7 68.5L283.0 70.5L283.3 72.9L283.6 75.7L283.9 78.8L284.2 82.3L284.5 86.1L284.8 90.2L285.1 94.7L285.4 99.4L285.7 104.5L286.0 109.8L286.3 115.4L286.6 121.2L286.9 127.2L287.2 133.5L287.5 139.9L287.8 146.6L288.1 153.4L288.4 160.3L288.7 167.3L289.0 174.5L289.3 181.7L289.6 189.0L289.9 196.3L290.2 203.6L290.5 211.0L290.8 218.3L291.1 225.5L291.4 232.7L291.7 239.9L292.0 246.9L292.3 253.8L292.6 260.5L292.9 267.1L293.2 273.5L293.5 279.7L293.8 285.7L294.1 291.5L294.4 297.0L294.7 302.2L295.0 307.2L295.3 311.9L295.6 316.2L295.9 320.3L296.2 324.0L296.5 327.4L296.8 330.4L297.1 333.1L297.4 335.4L297.7 337.4L298.0 338.9L298.3 340.1L298.6 340.9L298.9 341.3L299.2 341.3L299.5 341.0L299.8 340.2L300.1 339.1L300.4 337.6L300.7 335.7L301.0 333.4L301.3 330.8L301.6 327.8L301.9 324.4L302.2 320.8L302.5 316.8L302.8 312.4L303.1 307.8L303.4 302.8L303.7 297.6L304.0 292.2L304.3 286.4L304.6 280.5L304.9 274.3L305.2 267.9L305.5 261.3L305.8 254.6L306.1 247.7L306.4 240.7L306.7 233.6L307.0 226.4L307.3 219.2L307.6 211.9L307.9 204.5L308.2 197.2L308.5 189.9L308.8 182.6L309.1 175.4L309.4 168.2L309.7 161.1L310.0 154.2L310.3 147.4L310.6 140.8L310.9 134.3L311.2 128.0L311.5 121.9L311.8 116.1L312.1 110.5L312.4 105.1L312.7 100.0L313.0 95.2L313.3 90.7L313.6 86.6L313.9 82.7L314.2 79.2L314.5 76.0L314.8 73.2L315.1 70.8L315.4 68.7L315.7 67.0L316.0 65.6L316.3 64.7L316.6 64.1L316.9 64.0L317.2 64.2L317.5 64.8L317.8 65.8L318.1 67.1L318.4 68.9L318.7 71.0L319.0 73.5L319.3 76.4L319.6 79.6L319.9 83.1L320.2 87.0L320.5 91.2L320.8 95.8L321.1 100.6L321.4 105.7L321.7 111.1L322.0 116.7L322.3 122.6L322.6 128.7L322.9 135.0L323.2 141.5L323.5 148.2L323.8 155.0L324.1 161.9L324.4 169.0L324.7 176.2L325.0 183.4L325.3 190.7L325.6 198.0L325.9 205.3L326.2 212.7L326.5 220.0L326.8 227.2L327.1 234.4L327.4 241.5L327.7 248.5L328.0 255.4L328.3 262.1L328.6 268.6L328.9 275.0L329.2 281.1L329.5 287.1L329.8 292.8L330.1 298.2L330.4 303.4L330.7 308.3L331.0 312.9L331.3 317.2L331.6 321.2L331.9 324.8L332.2 328.1L332.5 331.1L332.8 333.7L333.1 335.9L333.4 337.8L333.7 339.2L334.0 340.3L334.3 341.0L334.6 341.4L334.9 341.3L335.2 340.8L335.5 340.0L335.8 338.8L336.1 337.2L336.4 335.2L336.7 332.8L337.0 330.1L337.3 327.0L337.6 323.6L337.9 319.9L338.2 315.8L338.5 311.4L338.8 306.7L339.1 301.7L339.4 296.4L339.7 290.8L340.0 285.1L340.3 279.0L340.6 272.8L340.9 266.4L341.2 259.8L341.5 253.0L341.8 246.1L342.1 239.1L342.4 231.9L342.7 224.7L343.0 217.5L343.3 210.2L343.6 202.8L343.9 195.5L344.2 188.2L344.5 180.9L344.8 173.7L345.1 166.5L345.4 159.5L345.7 152.6L346.0 145.8L346.3 139.2L346.6 132.8L346.9 126.6L347.2 120.5L347.5 114.7L347.8 109.2L348.1 103.9L348.4 98.9L348.7 94.2L349.0 89.7L349.3 85.6L349.6 81.9L349.9 78.4L350.2 75.3L350.5 72.6L350.8 70.2L351.1 68.2L351.4 66.6L351.7 65.4L352.0 64.5L352.3 64.1L352.6 64.0L352.9 64.3L353.2 65.0L353.5 66.1L353.8 67.5L354.1 69.4L354.4 71.6L354.7 74.1L355.0 77.1L355.3 80.4L355.6 84.0L355.9 88.0L356.2 92.3L356.5 96.9L356.8 101.7L357.1 106.9L357.4 112.4L357.7 118.1L358.0 124.0L358.3 130.1L358.6 136.5L358.9 143.0L359.2 149.7L359.5 156.6L359.8 163.6L360.1 170.7L360.4 177.8L360.7 185.1L361.0 192.4L361.3 199.7L361.6 207.1L361.9 214.4L362.2 221.7L362.5 228.9L362.8 236.1L363.1 243.2L363.4 250.1L363.7 256.9L364.0 263.6L364.3 270.1L364.6 276.4L364.9 282.5L365.2 288.4L365.5 294.1L365.8 299.5L366.1 304.6L366.4 309.4L366.7 313.9L367.0 318.2L367.3 322.1L367.6 325.6L367.9 328.9L368.2 331.7L368.5 334.2L368.8 336.4L369.1 338.1L369.4 339.5L369.7 340.5L370.0 341.2L370.3 341.4L370.6 341.2L370.9 340.7L371.2 339.8L371.5 338.4L371.8 336.7L372.1 334.7L372.4 332.2L372.7 329.4L373.0 326.3L373.3 322.8L373.6 318.9L373.9 314.8L374.2 310.3L374.5 305.5L374.8 300.4L375.1 295.1L375.4 289.5L375.7 283.7L376.0 277.6L376.3 271.3L376.6 264.9L376.9 258.2L377.2 251.4L377.5 244.5L377.8 237.4L378.1 230.3L378.4 223.0L378.7 215.8L379.0 208.4L379.3 201.1L379.6 193.8L379.9 186.5L380.2 179.2L380.5 172.0L380.8 164.9L381.1 157.9L381.4 151.0L381.7 144.3L382.0 137.7L382.3 131.3L382.6 125.1L382.9 119.2L383.2 113.4L383.5 107.9L383.8 102.7L384.1 97.8L384.4 93.1L384.7 88.8L385.0 84.7L385.3 81.0L385.6 77.7L385.9 74.7L386.2 72.0L386.5 69.7L386.8 67.8L387.1 66.3L387.4 65.2L387.7 64.4L388.0 64.0L388.3 64.0L388.6 64.4L388.9 65.2L389.2 66.4L389.5 67.9L389.8 69.8L390.1 72.1L390.4 74.8L390.7 77.8L391.0 81.2L391.3 84.9L391.6 88.9L391.9 93.3L392.2 98.0L392.5 102.9L392.8 108.2L393.1 113.7L393.4 119.4L393.7 125.4L394.0 131.6L394.3 138.0L394.6 144.6L394.9 151.3L395.2 158.2L395.5 165.2L395.8 172.3L396.1 179.5L396.4 186.8L396.7 194.1L397.0 201.4L397.3 208.8L397.6 216.1L397.9 223.4L398.2 230.6L398.5 237.7L398.8 244.8L399.1 251.7L399.4 258.5L399.7 265.1L400.0 271.6L400.3 277.9L400.6 283.9L400.9 289.8L401.2 295.4L401.5 300.7L401.8 305.7L402.1 310.5L402.4 315.0L402.7 319.1L403.0 322.9L403.3 326.4L403.6 329.6L403.9 332.3L404.2 334.8L404.5 336.8L404.8 338.5L405.1 339.8L405.4 340.7L405.7 341.2L406.0 341.4L406.3 341.1L406.6 340.5L406.9 339.5L407.2 338.1L407.5 336.3L407.8 334.1L408.1 331.6L408.4 328.7L408.7 325.5L409.0 321.9L409.3 318.0L409.6 313.8L409.9 309.2L410.2 304.4L410.5 299.2L410.8 293.8L411.1 288.2L411.4 282.3L411.7 276.2L412.0 269.8L412.3 263.3L412.6 256.6L412.9 249.8L413.2 242.8L413.5 235.8L413.8 228.6L414.1 221.4L414.4 214.1L414.7 206.7L415.0 199.4L415.3 192.1L415.6 184.8L415.9 177.5L416.2 170.3L416.5 163.3L416.8 156.3L417.1 149.4L417.4 142.7L417.7 136.2L418.0 129.9L418.3 123.7L418.6 117.8L418.9 112.1L419.2 106.7L419.5 101.5L419.8 96.6L420.1 92.1L420.4 87.8L420.7 83.8L421.0 80.2L421.3 76.9L421.6 74.0L421.9 71.5L422.2 69.3L422.5 67.4L422.7 64.5L422.8 35.4L423.0 121.0L423.1 119.5L423.4 118.5L423.7 117.6L424.0 116.7L424.3 115.8L424.6 115.2L424.9 116.0L425.2 116.9L425.5 118.2L425.8 119.6L426.1 121.3L426.4 123.3L426.7 125.4L427.0 127.8L427.3 130.4L427.6 133.2L427.9 136.1L428.2 139.3L428.5 142.6L428.8 146.1L429.1 149.8L429.4 153.6L429.7 157.6L430.0 161.7L430.3 165.9L430.6 170.2L430.9 174.6L431.2 179.1L431.5 183.6L431.8 188.2L432.1 192.8L432.4 197.5L432.7 202.2L433.0 206.9L433.3 211.6L433.6 216.2L433.9 220.8L434.2 225.4L434.5 229.9L434.8 234.3L435.1 238.7L435.4 242.9L435.7 247.0L436.0 251.1L436.3 254.9L436.6 258.7L436.9 262.2L437.2 265.6L437.5 268.9L437.8 271.9L438.1 274.8L438.4 277.4L438.7 279.9L439.0 282.1L439.3 284.1L439.6 285.9L439.9 287.4L440.2 288.7L440.5 289.8L440.8 290.6L441.1 291.2L441.4 291.6L441.7 291.6L442.0 291.5L442.3 291.1L442.6 290.4L442.9 289.5L443.2 288.4L443.5 287.0L443.8 285.3L444.1 283.5L444.4 281.4L444.7 279.1L445.0 276.6L445.3 273.9L445.6 270.9L445.9 267.8L446.2 264.5L446.5 261.0L446.8 257.4L447.1 253.6L447.4 249.7L447.7 245.6L448.0 241.4L448.3 237.1L448.6 232.7L448.9 228.2L449.2 223.7L449.5 219.0L449.8 214.4L450.1 209.7L450.4 205.0L450.7 200.2L451.0 195.5L451.3 190.8L451.6 186.2L451.9 181.5L452.2 177.0L452.5 172.5L452.8 168.1L453.1 163.7L453.4 159.5L453.7 155.4L454.0 151.5L454.3 147.7L454.6 144.0L454.9 140.5L455.2 137.2L455.5 134.0L455.8 131.1L456.1 128.3L456.4 125.8L456.7 123.5L457.0 121.3L457.3 119.5L457.6 117.8L457.9 116.4L458.2 115.2L458.5 114.3L458.8 113.6L459.1 113.2L459.4 113.0L459.7 113.1L460.0 113.4L460.3 114.0L460.6 114.8L460.9 115.8L461.2 117.1L461.5 118.7L461.8 120.5L462.1 122.5L462.4 124.7L462.7 127.2L463.0 129.8L463.3 132.7L463.6 135.8L463.9 139.1L464.2 142.5L464.5 146.1L464.8 149.9L465.1 153.8L465.4 157.8L465.7 162.0L466.0 166.3L466.3 170.7L466.6 175.2L466.9 179.7L467.2 184.4L467.5 189.1L467.8 193.8L468.1 198.5L468.4 203.3L468.7 208.1L469.0 212.8L469.3 217.5L469.6 222.2L469.9 226.8L470.2 231.4L470.5 235.9L470.8 240.3L471.1 244.5L471.4 248.7L471.7 252.8L472.0 256.7L472.3 260.4L472.6 264.0L472.9 267.4L473.2 270.7L473.5 273.7L473.8 276.6L474.1 279.2L474.4 281.7L474.7 283.9L475.0 285.9L475.3 287.6L475.6 289.1L475.9 290.4L476.2 291.4L476.5 292.2L476.8 292.7L477.1 293.0L477.4 293.1L477.7 292.8L478.0 292.4L478.3 291.6L478.6 290.6L478.9 289.4L479.2 288.0L479.5 286.2L479.8 284.3L480.1 282.1L480.4 279.7L480.7 277.1L481.0 274.3L481.3 271.3L481.6 268.1L481.9 264.7L482.2 261.1L482.5 257.4L482.8 253.5L483.1 249.5L483.4 245.3L483.7 241.0L484.0 236.6L484.3 232.1L484.6 227.6L484.9 222.9L485.2 218.2L485.5 213.5L485.8 208.7L486.1 203.9L486.4 199.1L486.7 194.3L487.0 189.5L487.3 184.8L487.6 180.1L487.9 175.5L488.2 170.9L488.5 166.5L488.8 162.1L489.1 157.9L489.4 153.7L489.7 149.8L490.0 145.9L490.3 142.2L490.6 138.7L490.9 135.4L491.2 132.2L491.5 129.3L491.8 126.5L492.1 124.0L492.4 121.7L492.7 119.6L493.0 117.7L493.3 116.1L493.6 114.7L493.9 113.6L494.2 112.7L494.5 112.1L494.8 111.7L495.1 111.6L495.4 111.7L495.7 112.1L496.0 112.7L496.3 113.6L496.6 114.7L496.9 116.1L497.2 117.8L497.5 119.6L497.8 121.7L498.1 124.1L498.4 126.6L498.7 129.4L499.0 132.3L499.3 135.5L499.6 138.8L499.9 142.4L500.2 146.1L500.5 149.9L500.8 153.9L501.1 158.1L501.4 162.4L501.7 166.8L502.0 171.2L502.3 175.8L502.6 180.5L502.9 185.2L503.2 190.0L503.5 194.8L503.8 199.6L504.1 204.4L504.4 209.3L504.7 214.1L505.0 218.9L505.3 223.6L505.6 228.3L505.9 232.9L506.2 237.4L506.5 241.9L506.8 246.2L507.1 250.4L507.4 254.5L507.7 258.4L508.0 262.2L508.3 265.8L508.6 269.2L508.9 272.5L509.2 275.5L509.5 278.4L509.8 281.0L510.1 283.4L510.4 285.6L510.7 287.6L511.0 289.3L511.3 290.8L511.6 292.0L511.9 293.0L512.2 293.8L512.5 294.3L512.8 294.5L513.1 294.4L513.4 294.2L513.7 293.6L514.0 292.8L514.3 291.8L514.6 290.5L514.9 288.9L515.2 287.1L515.5 285.1L515.8 282.8L516.1 280.4L516.4 277.7L516.7 274.7L517.0 271.6L517.3 268.3L517.6 264.8L517.9 261.2L518.2 257.3L518.5 253.3L518.8 249.2L519.1 245.0L519.4 240.6L519.7 236.1L520.0 231.5L520.3 226.8L520.6 222.1L520.9 217.3L521.2 212.5L521.5 207.6L521.8 202.8L522.1 197.9L522.4 193.0L522.7 188.2L523.0 183.4L523.3 178.7L523.6 174.0L523.9 169.4L524.2 164.9L524.5 160.5L524.8 156.2L525.1 152.0L525.4 148.0L525.7 144.1L526.0 140.4L526.3 136.9L526.6 133.6L526.9 130.4L527.2 127.5L527.5 124.7L527.8 122.2L528.1 119.9L528.4 117.8L528.7 116.0L529.0 114.4L529.3 113.1L529.6 112.0L529.9 111.1L530.2 110.5L530.5 110.2L530.8 110.1L531.1 110.3L531.4 110.8L531.7 111.5L532.0 112.5L532.3 113.7L532.6 115.1L532.9 116.9L533.2 118.8L533.5 121.0L533.8 123.4L534.1 126.0L534.4 128.9L534.7 132.0L535.0 135.2L535.3 138.7L535.6 142.3L535.9 146.1L536.2 150.1L536.5 154.2L536.8 158.4L537.1 162.8L537.4 167.3L537.7 171.8L538.0 176.5L538.3 181.2L538.6 186.1L538.9 190.9L539.2 195.8L539.5 200.7L539.8 205.6L540.1 210.5L540.4 215.4L540.7 220.3L541.0 225.1L541.3 229.8L541.6 234.5L541.9 239.0L542.2 243.5L542.5 247.9L542.8 252.1L543.1 256.2L543.4 260.2L543.7 264.0L544.0 267.6L544.3 271.1L544.6 274.3L544.9 277.4L545.2 280.2L545.5 282.8L545.8 285.2L546.1 287.4L546.4 289.3L546.7 291.0L547.0 292.5L547.3 293.7L547.6 294.6L547.9 295.3L548.2 295.7L548.5 295.9L548.8 295.8L549.1 295.5L549.4 294.9L549.7 294.0L550.0 292.9L550.3 291.5L550.6 289.8L550.9 288.0L551.2 285.9L551.5 283.5L551.8 280.9L552.1 278.1L552.4 275.1L552.7 271.9L553.0 268.5L553.3 264.9L553.6 261.2L553.9 257.2L554.2 253.2L554.5 248.9L554.8 244.6L555.1 240.1L555.4 235.5L555.7 230.9L556.0 226.1L556.3 221.3L556.6 216.4L556.9 211.5L557.2 206.6L557.5 201.6L557.8 196.7L558.1 191.7L558.4 186.8L558.7 182.0L559.0 177.2L559.3 172.4L559.6 167.8L559.9 163.2L560.2 158.8L560.5 154.5L560.8 150.3L561.1 146.2L561.4 142.3L561.7 138.6L562.0 135.1L562.3 131.7L562.6 128.6L562.9 125.6L563.2 122.9L563.5 120.4L563.8 118.1L564.1 116.1L564.4 114.3L564.7 112.7L565.0 111.4L565.3 110.3L565.6 109.6L565.9 109.0L566.2 108.8L566.5 108.7L566.8 109.0L567.1 109.5L567.4 110.3L567.7 111.3L568.0 112.6L568.3 114.2L568.6 116.0L568.9 118.0L569.2 120.3L569.5 122.8L569.8 125.5L570.1 128.5L570.4 131.6L570.7 135.0L571.0 138.5L571.3 142.3L571.6 146.2L571.9 150.2L572.2 154.4L572.5 158.7L572.8 163.2L573.1 167.8L573.4 172.5L573.7 177.2L574.0 182.1L574.3 186.9L574.6 191.9L574.9 196.8L575.2 201.8L575.5 206.8L575.8 211.8L576.1 216.8L576.4 221.7L576.7 226.5L577.0 231.3L577.3 236.0L577.6 240.7L577.9 245.2L578.2 249.6L578.5 253.9L578.8 258.0L579.1 262.0L579.4 265.8L579.7 269.4L580.0 272.9L580.3 276.1L580.6 279.2L580.9 282.0L581.2 284.6L581.5 287.0L581.8 289.2L582.1 291.1L582.4 292.8L582.7 294.2L583.0 295.3L583.3 296.2L583.6 296.9L583.9 297.2L584.2 297.3L584.5 297.2L584.8 296.8L585.1 296.1L585.4 295.1L585.7 293.9L586.0 292.5L586.3 290.7L586.6 288.8L586.9 286.6L587.2 284.2L587.5 281.5L587.8 278.6L588.1 275.5L588.4 272.2L588.7 268.7L589.0 265.0L589.3 261.1L589.6 257.1L589.9 252.9L590.2 248.6L590.5 244.2L590.8 239.6L591.1 234.9L591.4 230.2L591.7 225.3L592.0 220.4L592.3 215.5L592.6 210.5L592.9 205.5L593.2 200.4L593.5 195.4L593.8 190.4L594.1 185.4L594.4 180.5L594.7 175.7L595.0 170.9L595.3 166.2L595.6 161.6L595.9 157.1L596.2 152.7L596.5 148.5L596.8 144.4L597.1 140.5L597.4 136.8L597.7 133.2L598.0 129.9L598.3 126.7L598.6 123.8L598.9 121.1L599.2 118.6L599.5 116.3L599.8 114.3L600.1 112.5L600.4 111.0L600.7 109.7L601.0 108.7L601.3 108.0L601.6 107.5L601.9 107.3L602.2 107.4L602.5 107.7L602.8 108.3L603.1 109.1L603.4 110.2L603.7 111.6L604.0 113.2L604.3 115.1L604.6 117.3L604.9 119.6L605.2 122.2L605.5 125.0L605.8 128.1L606.1 131.3L606.4 134.8L606.7 138.4L607.0 142.3L607.3 146.2L607.6 150.4L607.9 154.7L608.2 159.1L608.5 163.7L608.8 168.4L609.1 173.1L609.4 178.0L609.7 182.9L610.0 187.9L610.3 192.9L610.6 197.9L610.9 203.0L611.2 208.1L611.5 213.1L611.8 218.1L612.1 223.1L612.4 228.0L612.7 232.9L613.0 237.7L613.3 242.3L613.6 246.9L613.9 251.3L614.2 255.6L614.5 259.8L614.8 263.8L615.1 267.6L615.4 271.3L615.7 274.7L616.0 278.0L616.3 281.0L616.6 283.9L616.9 286.5L617.2 288.8L617.5 291.0L617.8 292.8L618.1 294.5L618.4 295.8L618.7 297.0L619.0 297.8L619.3 298.4L619.6 298.7L619.9 298.7L620.2 298.5L620.5 298.0L620.8 297.3L621.1 296.3L621.4 295.0L621.7 293.4L622.0 291.6L622.3 289.6L622.6 287.3L622.9 284.8L623.2 282.0L623.5 279.0L623.8 275.8L624.1 272.4L624.4 268.8L624.7 265.0L625.0 261.1L625.3 257.0L625.6 252.7L625.9 248.3L626.2 243.7L626.5 239.1L626.8 234.3L627.1 229.4L627.4 224.5L627.7 219.5L628.0 214.5L628.3 209.4L628.6 204.3L628.9 199.2L629.2 194.1L629.5 189.0L629.8 184.0L630.1 179.0L630.4 174.1L630.7 169.3L631.0 164.5L631.3 159.9L631.6 155.4L631.9 151.0L632.2 146.7L632.5 142.6L632.8 138.7L633.1 135.0L633.4 131.4L633.7 128.0L634.0 124.9L634.3 122.0L634.6 119.2L634.9 116.8L635.2 114.5L635.5 112.5L635.8 110.8L636.1 109.3L636.4 108.1L636.7 107.1L637.0 106.4L637.3 106.0L637.6 105.9L637.9 106.0L638.2 106.4L638.5 107.0L638.8 108.0L639.1 109.2L639.4 110.6L639.7 112.3L640.0 114.3L640.3 125.7L641.0 87.5L641.3 96.0" fill="none" stroke="#EDB120" stroke-width="1.4" stroke-linejoin="round" />
<path d="M641.3 96.0L641.6 100.9L641.9 106.2L642.2 111.7L642.5 117.4L642.8 123.3L643.1 129.5L643.4 135.8L643.7 142.4L644.0 149.1L644.3 156.1L644.6 162.8L644.9 169.8L645.2 176.5L645.5 183.8L645.8 191.3L646.1 198.7L646.5 206.3L646.8 213.4L647.1 221.1L647.4 228.5L647.7 236.0L648.0 243.4L648.3 250.0L648.6 257.0L648.9 263.7L649.2 269.8L649.5 276.3L649.8 282.6L650.1 289.1L650.4 295.4L650.7 301.4L651.0 306.7L651.3 311.5L651.6 316.3L651.9 321.0L652.2 325.5L652.6 329.6L652.9 333.2L653.2 336.2L653.5 339.2L653.8 342.2L654.1 344.5L654.4 346.9L654.7 349.1L655.0 351.1L655.3 353.1L655.6 351.4L655.9 349.1L656.2 347.2L656.5 344.6L656.8 342.1L657.1 339.7L657.4 336.5L657.7 333.6L658.0 330.7L658.3 326.3L658.6 321.7L658.9 316.5L659.2 311.7L659.5 306.5L659.8 300.6L660.1 295.4L660.4 289.4L660.7 283.2L661.0 277.3L661.3 270.8L661.6 264.1L661.9 257.3L662.2 250.2L662.5 243.3L662.8 235.5L663.1 228.7L663.4 221.5L663.7 214.1L664.0 206.9L664.3 199.6L664.7 192.1L665.0 185.0L665.3 177.8L665.6 170.2L665.9 163.1L666.2 155.5L666.5 148.4L666.8 141.3L667.1 134.8L667.4 128.4L667.7 121.9L668.0 115.4L668.3 109.2L668.6 103.3L668.9 97.8L669.2 92.5L669.5 86.9L669.8 81.9L670.1 77.4L670.4 73.2L670.7 69.2L671.0 66.2L671.3 62.9L671.6 59.7L671.9 57.3L672.2 54.5L672.5 52.2L672.8 50.5L673.1 47.6L673.4 46.6L673.7 48.4L674.0 50.3L674.3 52.8L674.6 54.4L674.9 56.8L675.2 59.3L675.5 62.5L675.8 66.1L676.1 69.2L676.4 73.7L676.7 78.3L677.0 82.9L677.3 87.8L677.6 93.0L677.9 98.3L678.2 104.4L678.5 110.3L678.8 117.1L679.1 123.3L679.4 129.6L679.7 136.6L680.0 143.2L680.3 150.5L680.6 158.2L680.9 166.1L681.2 173.7L681.5 180.8L681.8 188.2L682.1 195.5L682.5 202.9L682.8 210.8L683.1 218.5L683.4 226.0L683.7 233.4L684.0 240.9L684.3 248.3L684.6 255.4L684.9 263.0L685.2 269.9L685.5 276.7L685.8 283.4L686.1 289.8L686.4 296.3L686.7 302.5L687.0 308.2L687.3 313.5L687.6 319.0L687.9 323.8L688.2 328.8L688.5 333.7L688.8 337.3L689.1 340.3L689.4 343.6L689.7 346.5L690.0 349.1L690.3 351.8L690.6 354.1L690.9 356.6L691.2 359.3L691.5 360.8L691.8 359.1L692.1 356.3L692.4 353.8L692.7 351.9L693.0 349.5L693.3 347.1L693.6 344.0L693.9 340.5L694.2 336.9L694.5 332.5L694.9 328.2L695.2 323.3L695.5 318.1L695.8 312.5L696.1 307.0L696.4 301.3L696.7 295.5L697.0 289.5L697.3 283.0L697.6 275.9L697.9 268.9L698.2 261.8L698.5 254.6L698.8 247.7L699.1 240.0L699.4 232.5L699.7 224.3L700.0 216.5L700.3 209.2L700.6 201.7L701.0 194.5L701.3 187.2L701.6 179.5L701.9 172.0L702.2 164.5L702.5 156.2L702.8 148.6L703.1 141.2L703.4 134.1L703.7 127.9L704.0 121.5L704.3 115.2L704.6 108.4L704.9 102.3L705.2 96.4L705.5 90.8L705.8 86.0L706.1 80.9L706.4 76.1L706.8 71.7L707.1 67.0L707.4 63.4L707.7 59.6L708.0 56.2L708.3 53.9L708.6 51.6L708.9 49.6L709.2 46.8L709.5 44.4L709.8 42.6L710.1 44.5L710.4 47.2L710.7 50.0L711.0 52.4L711.3 54.7L711.6 58.0L711.9 60.9L712.2 64.6L712.5 68.4L712.8 73.1L713.1 77.3L713.4 81.8L713.7 87.2L714.0 91.9L714.4 98.2L714.7 104.9L715.0 110.7L715.3 117.7L715.6 124.5L715.9 131.0L716.2 138.1L716.5 144.8L716.8 151.9L717.1 159.6L717.4 167.7L717.7 176.0L718.0 184.3L718.3 191.9L718.6 199.7L718.9 207.4L719.2 214.7L719.5 222.4L719.8 230.3L720.1 238.2L720.4 246.2L720.7 254.2L721.0 261.5L721.3 268.7L721.6 275.6L721.9 283.0L722.2 290.1L722.5 296.3L722.8 303.5L723.1 309.4L723.5 315.0L723.8 320.9L724.1 325.7L724.4 331.3L724.7 335.8L725.0 340.2L725.3 343.8L725.6 346.7L725.9 349.6L726.2 352.9L726.5 354.6L726.8 356.5L727.1 359.5L727.4 361.9L727.7 363.4L728.0 362.1L728.3 359.3L728.6 356.8L728.9 354.8L729.2 352.4L729.5 350.2L729.8 347.1L730.1 343.4L730.4 340.1L730.7 335.9L731.0 331.5L731.3 326.9L731.6 321.2L731.9 315.1L732.2 309.4L732.5 303.7L732.8 298.4L733.1 292.1L733.4 285.3L733.7 278.4L734.0 270.8L734.3 263.6L734.6 255.9L734.9 249.1L735.2 241.7L735.5 233.7L735.8 225.8L736.1 217.6L736.4 209.4L736.8 201.5L737.1 194.3L737.4 186.0L737.7 178.3L738.0 170.2L738.3 162.2L738.6 154.5L738.9 147.2L739.2 140.0L739.5 132.8L739.8 125.8L740.1 119.3L740.4 112.9L740.7 106.7L741.0 101.3L741.3 95.1L741.6 88.8L741.9 83.2L742.2 77.4L742.5 72.7L742.8 68.6L743.1 63.6L743.4 60.0L743.7 55.8L744.0 52.9L744.3 50.5L744.6 48.4L744.9 46.5L745.2 43.9L745.5 41.8L745.8 40.8L746.1 42.9L746.4 44.8L746.7 46.8L747.0 48.9L747.3 51.3L747.6 55.1L747.9 59.2L748.2 61.6L748.5 64.6L748.8 69.3L749.1 73.7L749.4 80.2L749.7 86.2L750.0 92.4L750.3 98.4L750.6 104.2L750.9 111.2L751.2 117.6L751.5 124.8L751.8 132.6L752.1 140.2L752.4 147.7L752.7 155.4L753.0 163.2L753.3 171.1L753.6 179.8L753.9 188.5L754.2 197.0L754.5 205.4L754.9 213.7L755.2 221.7L755.5 229.7L755.8 238.0L756.1 245.8L756.4 253.6L756.7 261.3L757.0 268.8L757.3 276.0L757.6 283.5L757.9 291.0L758.2 297.5L758.5 304.9L758.8 310.9L759.1 317.0L759.4 323.2L759.7 328.7L760.0 334.6L760.3 339.2L760.6 343.4L760.9 346.3L761.2 349.9L761.5 352.9L761.8 357.0L762.1 359.7L762.4 361.9L762.7 365.3L763.0 367.3L763.3 369.9L763.6 368.1L763.9 365.6L764.2 363.1L764.5 360.6L764.8 358.6L765.1 355.4L765.4 352.2L765.7 348.7L766.0 344.8L766.3 340.2L766.6 335.5L766.9 329.8L767.2 324.6L767.5 319.0L767.8 312.7L768.1 307.0L768.4 300.2L768.7 293.1L769.0 286.3L769.3 278.9L769.6 272.1L769.9 265.7L770.2 258.6L770.5 251.2L770.8 243.0L771.1 234.2L771.4 226.1L771.7 218.0L772.0 210.2L772.3 202.4L772.6 193.6L772.9 185.5L773.2 177.5L773.5 170.0L773.8 163.0L774.1 155.3L774.4 147.7L774.7 140.1L775.0 132.3L775.3 124.5L775.6 117.5L775.9 110.9L776.2 104.1L776.5 97.6L776.8 91.4L777.1 85.0L777.4 79.3L777.7 74.8L778.0 70.1L778.3 65.1L778.6 61.6L778.9 57.6L779.2 53.3L779.5 50.0L779.8 46.4L780.1 43.3L780.4 40.8L780.7 38.5L781.0 37.2L781.3 35.8" fill="none" stroke="#EDB120" stroke-width="1.75" stroke-linejoin="round" />
</g>
<line x1="67.0" y1="376.5" x2="67.0" y2="368.7" stroke="#1a1a1a" stroke-width="1.3"/>
<line x1="67.0" y1="28.9" x2="67.0" y2="36.6" stroke="#1a1a1a" stroke-width="1.3"/>
<line x1="156.0" y1="376.5" x2="156.0" y2="368.7" stroke="#1a1a1a" stroke-width="1.3"/>
<line x1="156.0" y1="28.9" x2="156.0" y2="36.6" stroke="#1a1a1a" stroke-width="1.3"/>
<line x1="244.9" y1="376.5" x2="244.9" y2="368.7" stroke="#1a1a1a" stroke-width="1.3"/>
<line x1="244.9" y1="28.9" x2="244.9" y2="36.6" stroke="#1a1a1a" stroke-width="1.3"/>
<line x1="333.9" y1="376.5" x2="333.9" y2="368.7" stroke="#1a1a1a" stroke-width="1.3"/>
<line x1="333.9" y1="28.9" x2="333.9" y2="36.6" stroke="#1a1a1a" stroke-width="1.3"/>
<line x1="422.8" y1="376.5" x2="422.8" y2="368.7" stroke="#1a1a1a" stroke-width="1.3"/>
<line x1="422.8" y1="28.9" x2="422.8" y2="36.6" stroke="#1a1a1a" stroke-width="1.3"/>
<line x1="511.8" y1="376.5" x2="511.8" y2="368.7" stroke="#1a1a1a" stroke-width="1.3"/>
<line x1="511.8" y1="28.9" x2="511.8" y2="36.6" stroke="#1a1a1a" stroke-width="1.3"/>
<line x1="600.7" y1="376.5" x2="600.7" y2="368.7" stroke="#1a1a1a" stroke-width="1.3"/>
<line x1="600.7" y1="28.9" x2="600.7" y2="36.6" stroke="#1a1a1a" stroke-width="1.3"/>
<line x1="689.7" y1="376.5" x2="689.7" y2="368.7" stroke="#1a1a1a" stroke-width="1.3"/>
<line x1="689.7" y1="28.9" x2="689.7" y2="36.6" stroke="#1a1a1a" stroke-width="1.3"/>
<line x1="778.6" y1="376.5" x2="778.6" y2="368.7" stroke="#1a1a1a" stroke-width="1.3"/>
<line x1="778.6" y1="28.9" x2="778.6" y2="36.6" stroke="#1a1a1a" stroke-width="1.3"/>
<line x1="67.0" y1="28.9" x2="74.8" y2="28.9" stroke="#1a1a1a" stroke-width="1.3"/>
<line x1="778.6" y1="28.9" x2="770.8" y2="28.9" stroke="#1a1a1a" stroke-width="1.3"/>
<line x1="67.0" y1="72.3" x2="74.8" y2="72.3" stroke="#1a1a1a" stroke-width="1.3"/>
<line x1="778.6" y1="72.3" x2="770.8" y2="72.3" stroke="#1a1a1a" stroke-width="1.3"/>
<line x1="67.0" y1="115.8" x2="74.8" y2="115.8" stroke="#1a1a1a" stroke-width="1.3"/>
<line x1="778.6" y1="115.8" x2="770.8" y2="115.8" stroke="#1a1a1a" stroke-width="1.3"/>
<line x1="67.0" y1="159.2" x2="74.8" y2="159.2" stroke="#1a1a1a" stroke-width="1.3"/>
<line x1="778.6" y1="159.2" x2="770.8" y2="159.2" stroke="#1a1a1a" stroke-width="1.3"/>
<line x1="67.0" y1="202.7" x2="74.8" y2="202.7" stroke="#1a1a1a" stroke-width="1.3"/>
<line x1="778.6" y1="202.7" x2="770.8" y2="202.7" stroke="#1a1a1a" stroke-width="1.3"/>
<line x1="67.0" y1="246.1" x2="74.8" y2="246.1" stroke="#1a1a1a" stroke-width="1.3"/>
<line x1="778.6" y1="246.1" x2="770.8" y2="246.1" stroke="#1a1a1a" stroke-width="1.3"/>
<line x1="67.0" y1="289.6" x2="74.8" y2="289.6" stroke="#1a1a1a" stroke-width="1.3"/>
<line x1="778.6" y1="289.6" x2="770.8" y2="289.6" stroke="#1a1a1a" stroke-width="1.3"/>
<line x1="67.0" y1="333.0" x2="74.8" y2="333.0" stroke="#1a1a1a" stroke-width="1.3"/>
<line x1="778.6" y1="333.0" x2="770.8" y2="333.0" stroke="#1a1a1a" stroke-width="1.3"/>
<line x1="67.0" y1="376.5" x2="74.8" y2="376.5" stroke="#1a1a1a" stroke-width="1.3"/>
<line x1="778.6" y1="376.5" x2="770.8" y2="376.5" stroke="#1a1a1a" stroke-width="1.3"/>
<rect x="67.0" y="28.9" width="711.6" height="347.6" fill="none" stroke="#1a1a1a" stroke-width="1.55"/>
<text x="58.7" y="389.0" font-size="10.0" text-anchor="start" >0.8</text>
<text x="144.3" y="389.0" font-size="10.0" text-anchor="start" >0.85</text>
<text x="236.6" y="389.0" font-size="10.0" text-anchor="start" >0.9</text>
<text x="322.2" y="389.0" font-size="10.0" text-anchor="start" >0.95</text>
<text x="419.5" y="389.0" font-size="10.0" text-anchor="start" >1</text>
<text x="500.1" y="389.0" font-size="10.0" text-anchor="start" >1.05</text>
<text x="592.4" y="389.0" font-size="10.0" text-anchor="start" >1.1</text>
<text x="678.0" y="389.0" font-size="10.0" text-anchor="start" >1.15</text>
<text x="770.3" y="389.0" font-size="10.0" text-anchor="start" >1.2</text>
<text x="55.7" y="28.0" font-size="10.0" text-anchor="start" >2</text>
<text x="45.7" y="72.0" font-size="10.0" text-anchor="start" >1.5</text>
<text x="55.7" y="115.0" font-size="10.0" text-anchor="start" >1</text>
<text x="45.7" y="159.0" font-size="10.0" text-anchor="start" >0.5</text>
<text x="55.7" y="202.0" font-size="10.0" text-anchor="start" >0</text>
<text x="41.7" y="246.0" font-size="10.0" text-anchor="start" >-0.5</text>
<text x="51.7" y="289.0" font-size="10.0" text-anchor="start" >-1</text>
<text x="41.7" y="332.0" font-size="10.0" text-anchor="start" >-1.5</text>
<text x="51.7" y="376.0" font-size="10.0" text-anchor="start" >-2</text>
<text x="397.1" y="425.0" font-size="17.6" text-anchor="start" >Time (s)</text>
<text x="334.1" y="19.2" font-size="17.6" text-anchor="start" >Three phase voltage of bus 1</text>
<text transform="translate(32.1 195.6) rotate(-90)" font-size="17.6" text-anchor="middle">voltage (V)</text>
<text x="1.6" y="18.9" font-size="22.5" text-anchor="start" >(a)</text>
<text x="67.6" y="28.0" font-size="17.5" font-weight="normal" font-family="Liberation Sans, sans-serif">×</text>
<text x="79.0" y="21.1" font-size="9.0" text-anchor="start" >10</text>
<text x="91.6" y="16.2" font-size="7.5" text-anchor="start" >4</text>
<line x1="155.5" y1="465.7" x2="155.5" y2="813.4" stroke="#ededed" stroke-width="1"/>
<line x1="244.5" y1="465.7" x2="244.5" y2="813.4" stroke="#ededed" stroke-width="1"/>
<line x1="333.5" y1="465.7" x2="333.5" y2="813.4" stroke="#ededed" stroke-width="1"/>
<line x1="422.5" y1="465.7" x2="422.5" y2="813.4" stroke="#ededed" stroke-width="1"/>
<line x1="511.5" y1="465.7" x2="511.5" y2="813.4" stroke="#ededed" stroke-width="1"/>
<line x1="600.5" y1="465.7" x2="600.5" y2="813.4" stroke="#ededed" stroke-width="1"/>
<line x1="689.5" y1="465.7" x2="689.5" y2="813.4" stroke="#ededed" stroke-width="1"/>
<line x1="67.0" y1="509.5" x2="778.6" y2="509.5" stroke="#efefef" stroke-width="1"/>
<line x1="67.0" y1="552.5" x2="778.6" y2="552.5" stroke="#efefef" stroke-width="1"/>
<line x1="67.0" y1="596.5" x2="778.6" y2="596.5" stroke="#efefef" stroke-width="1"/>
<line x1="67.0" y1="639.5" x2="778.6" y2="639.5" stroke="#efefef" stroke-width="1"/>
<line x1="67.0" y1="683.5" x2="778.6" y2="683.5" stroke="#efefef" stroke-width="1"/>
<line x1="67.0" y1="726.5" x2="778.6" y2="726.5" stroke="#efefef" stroke-width="1"/>
<line x1="67.0" y1="769.5" x2="778.6" y2="769.5" stroke="#efefef" stroke-width="1"/>
<path d="M67.0 507.4L421.5 507.4L423.4 507.4L423.7 507.5L424.0 508.0L424.3 508.7L424.6 509.7L424.9 511.0L425.2 512.6L425.5 514.4L425.8 516.5L426.1 518.8L426.4 521.3L426.8 524.1L427.1 527.1L427.4 530.2L427.7 533.5L428.0 537.0L428.3 540.5L428.6 544.2L428.9 548.0L429.2 551.8L429.5 555.7L429.8 559.6L430.1 563.5L430.4 567.4L430.7 571.2L431.0 575.0L431.3 578.7L431.6 582.2L431.9 585.7L432.2 589.0L432.5 592.1L432.8 595.1L433.2 597.9L433.5 600.4L433.8 602.7L434.1 604.8L434.4 606.6L434.7 608.2L435.0 609.5L435.3 610.5L435.6 611.2L435.9 611.7L436.2 611.8L436.5 611.7L436.8 611.5L437.1 611.0L437.4 610.4L437.7 609.7L438.0 608.8L438.3 607.7L438.6 606.5L438.9 605.2L439.2 603.8L439.5 602.3L439.8 600.7L440.1 599.1L440.4 597.4L440.7 595.6L441.0 593.9L441.4 592.1L441.7 590.3L442.0 588.6L442.3 587.0L442.6 585.4L442.9 583.9L443.2 582.5L443.5 581.2L443.8 580.0L444.1 578.9L444.4 578.0L444.7 577.3L445.0 576.7L445.3 576.2L445.6 576.0L445.9 575.9L446.2 575.9L446.5 576.0L446.8 576.1L447.1 576.3L447.4 576.6L447.8 576.8L448.1 577.1L448.4 577.5L448.7 577.9L449.0 578.2L449.3 578.6L449.6 579.1L449.9 579.5L450.2 579.8L450.5 580.2L450.8 580.6L451.1 580.9L451.5 581.1L451.8 581.4L452.1 581.6L452.4 581.7L452.7 581.8L453.0 581.8L453.3 581.8L453.6 581.6L453.9 581.4L454.2 581.1L454.5 580.6L454.8 580.2L455.1 579.6L455.4 579.0L455.7 578.3L456.0 577.6L456.3 576.8L456.6 576.0L456.9 575.2L457.2 574.4L457.5 573.6L457.8 572.8L458.1 572.0L458.4 571.3L458.7 570.6L459.0 570.0L459.3 569.4L459.6 569.0L459.9 568.5L460.2 568.2L460.5 568.0L460.8 567.8L461.1 567.8L461.4 567.8L461.7 567.9L462.0 568.0L462.3 568.2L462.7 568.4L463.0 568.6L463.3 568.8L463.6 569.1L463.9 569.4L464.2 569.7L464.5 570.0L464.8 570.3L465.1 570.6L465.4 570.8L465.8 571.0L466.1 571.2L466.4 571.4L466.7 571.5L467.0 571.6L467.3 571.6L467.6 571.5L467.9 571.4L468.2 571.1L468.5 570.7L468.8 570.3L469.2 569.7L469.5 569.1L469.8 568.3L470.1 567.5L470.4 566.6L470.7 565.7L471.0 564.7L471.3 563.7L471.6 562.6L471.9 561.5L472.2 560.4L472.6 559.3L472.9 558.2L473.2 557.1L473.5 556.1L473.8 555.1L474.1 554.2L474.4 553.3L474.7 552.5L475.0 551.7L475.3 551.1L475.7 550.5L476.0 550.1L476.3 549.7L476.6 549.4L476.9 549.3L477.2 549.2L477.5 549.3L477.8 549.5L478.1 549.8L478.4 550.2L478.7 550.8L479.0 551.4L479.3 552.2L479.6 553.1L479.9 554.0L480.2 555.1L480.5 556.2L480.8 557.4L481.1 558.6L481.4 559.9L481.7 561.2L482.0 562.5L482.3 563.9L482.6 565.2L482.9 566.5L483.2 567.8L483.5 569.0L483.8 570.2L484.1 571.3L484.4 572.4L484.7 573.3L485.0 574.2L485.3 575.0L485.6 575.6L485.9 576.2L486.2 576.6L486.5 576.9L486.8 577.1L487.1 577.2L487.4 577.1L487.7 577.0L488.0 576.7L488.3 576.4L488.7 576.0L489.0 575.4L489.3 574.8L489.6 574.1L489.9 573.4L490.2 572.6L490.5 571.7L490.8 570.9L491.1 570.0L491.5 569.1L491.8 568.1L492.1 567.2L492.4 566.4L492.7 565.5L493.0 564.7L493.3 564.0L493.6 563.3L493.9 562.7L494.2 562.1L494.6 561.7L494.9 561.4L495.2 561.1L495.5 561.0L495.8 560.9L496.1 560.9L496.4 561.1L496.7 561.3L497.0 561.6L497.4 562.0L497.7 562.5L498.0 563.1L498.3 563.7L498.6 564.4L498.9 565.1L499.2 565.9L499.5 566.7L499.8 567.6L500.1 568.4L500.5 569.2L500.8 570.1L501.1 570.9L501.4 571.7L501.7 572.4L502.0 573.1L502.3 573.7L502.6 574.3L502.9 574.8L503.3 575.2L503.6 575.5L503.9 575.7L504.2 575.9L504.5 575.9L504.8 575.8L505.1 575.7L505.4 575.4L505.7 575.1L506.0 574.6L506.3 574.0L506.6 573.4L507.0 572.7L507.3 571.9L507.6 571.0L507.9 570.1L508.2 569.2L508.5 568.2L508.8 567.2L509.1 566.3L509.4 565.3L509.7 564.3L510.0 563.4L510.3 562.5L510.6 561.6L510.9 560.8L511.3 560.1L511.6 559.5L511.9 558.9L512.2 558.4L512.5 558.1L512.8 557.8L513.1 557.7L513.4 557.6L513.7 557.7L514.0 557.8L514.3 558.1L514.6 558.4L514.9 558.9L515.2 559.5L515.5 560.1L515.9 560.8L516.2 561.6L516.5 562.5L516.8 563.4L517.1 564.3L517.4 565.3L517.7 566.3L518.0 567.2L518.3 568.2L518.6 569.2L518.9 570.1L519.2 571.0L519.5 571.9L519.8 572.7L520.2 573.4L520.5 574.0L520.8 574.6L521.1 575.1L521.4 575.4L521.7 575.7L522.0 575.8L522.3 575.9L522.6 575.9L522.9 575.7L523.2 575.5L523.5 575.1L523.8 574.7L524.1 574.2L524.4 573.6L524.8 573.0L525.1 572.3L525.4 571.5L525.7 570.7L526.0 569.9L526.3 569.0L526.6 568.1L526.9 567.2L527.2 566.3L527.5 565.4L527.8 564.6L528.1 563.8L528.4 563.0L528.7 562.3L529.1 561.7L529.4 561.1L529.7 560.6L530.0 560.2L530.3 559.8L530.6 559.6L530.9 559.4L531.2 559.4L531.5 559.4L531.8 559.6L532.1 559.8L532.4 560.2L532.7 560.6L533.0 561.1L533.3 561.7L533.7 562.3L534.0 563.0L534.3 563.8L534.6 564.6L534.9 565.4L535.2 566.3L535.5 567.2L535.8 568.1L536.1 569.0L536.4 569.9L536.7 570.7L537.0 571.5L537.3 572.3L537.6 573.0L538.0 573.6L538.3 574.2L538.6 574.7L538.9 575.1L539.2 575.5L539.5 575.7L539.8 575.9L540.1 575.9L540.4 575.8L540.7 575.7L541.0 575.4L541.3 575.1L541.7 574.6L542.0 574.0L542.3 573.4L542.6 572.7L542.9 571.9L543.2 571.1L543.5 570.2L543.8 569.3L544.1 568.4L544.5 567.4L544.8 566.4L545.1 565.5L545.4 564.6L545.7 563.7L546.0 562.9L546.3 562.1L546.6 561.4L546.9 560.8L547.2 560.2L547.6 559.7L547.9 559.4L548.2 559.1L548.5 559.0L548.8 558.9L549.1 558.9L549.4 559.1L549.7 559.3L550.0 559.7L550.3 560.1L550.6 560.6L550.9 561.2L551.3 561.8L551.6 562.6L551.9 563.4L552.2 564.2L552.5 565.0L552.8 565.9L553.1 566.9L553.4 567.8L553.7 568.7L554.0 569.7L554.3 570.6L554.6 571.4L554.9 572.2L555.2 573.0L555.5 573.8L555.9 574.4L556.2 575.0L556.5 575.5L556.8 575.9L557.1 576.3L557.4 576.5L557.7 576.7L558.0 576.7L558.3 576.6L558.6 576.5L558.9 576.2L559.2 575.9L559.5 575.4L559.8 574.9L560.1 574.2L560.5 573.5L560.8 572.8L561.1 571.9L561.4 571.1L561.7 570.2L562.0 569.2L562.3 568.3L562.6 567.4L562.9 566.4L563.2 565.5L563.5 564.7L563.8 563.8L564.1 563.1L564.5 562.4L564.8 561.7L565.1 561.2L565.4 560.7L565.7 560.4L566.0 560.1L566.3 560.0L566.6 559.9L566.9 560.0L567.2 560.1L567.5 560.4L567.8 560.7L568.1 561.2L568.4 561.7L568.7 562.3L569.1 563.0L569.4 563.8L569.7 564.6L570.0 565.5L570.3 566.4L570.6 567.4L570.9 568.3L571.2 569.3L571.5 570.2L571.8 571.2L572.1 572.1L572.4 573.0L572.7 573.8L573.0 574.6L573.4 575.3L573.7 575.9L574.0 576.4L574.3 576.9L574.6 577.2L574.9 577.5L575.2 577.6L575.5 577.7L575.8 577.7L576.1 577.5L576.4 577.3L576.7 576.9L577.0 576.5L577.3 576.0L577.6 575.4L577.9 574.7L578.2 574.0L578.5 573.2L578.8 572.4L579.1 571.5L579.4 570.7L579.7 569.8L580.1 568.8L580.4 567.9L580.7 567.1L581.0 566.2L581.3 565.4L581.6 564.6L581.9 563.9L582.2 563.2L582.5 562.6L582.8 562.1L583.1 561.7L583.4 561.3L583.7 561.1L584.0 560.9L584.3 560.9L584.6 560.9L584.9 561.1L585.2 561.3L585.5 561.7L585.8 562.1L586.1 562.6L586.4 563.2L586.7 563.9L587.0 564.6L587.3 565.4L587.6 566.3L587.9 567.2L588.2 568.1L588.5 569.0L588.8 569.9L589.1 570.9L589.4 571.8L589.7 572.7L590.0 573.6L590.3 574.5L590.6 575.3L590.9 576.0L591.2 576.7L591.5 577.3L591.8 577.8L592.1 578.2L592.4 578.6L592.7 578.8L593.0 579.0L593.3 579.0L593.6 579.0L593.9 578.8L594.2 578.6L594.5 578.2L594.8 577.8L595.1 577.3L595.4 576.7L595.7 576.1L596.0 575.4L596.3 574.6L596.6 573.8L596.9 572.9L597.2 572.0L597.5 571.1L597.9 570.3L598.2 569.4L598.5 568.5L598.8 567.6L599.1 566.8L599.4 566.0L599.7 565.3L600.0 564.7L600.3 564.1L600.6 563.6L600.9 563.2L601.2 562.8L601.5 562.6L601.8 562.4L602.1 562.4L602.4 562.5L602.7 562.6L603.0 562.9L603.3 563.2L603.6 563.7L603.9 564.2L604.2 564.9L604.6 565.6L604.9 566.3L605.2 567.2L605.5 568.0L605.8 569.0L606.1 569.9L606.4 570.9L606.7 571.8L607.0 572.8L607.3 573.7L607.6 574.7L607.9 575.5L608.2 576.4L608.5 577.1L608.9 577.8L609.2 578.5L609.5 579.0L609.8 579.5L610.1 579.8L610.4 580.1L610.7 580.2L611.0 580.3L611.3 580.3L611.6 580.1L611.9 579.9L612.2 579.5L612.5 579.1L612.8 578.6L613.1 578.0L613.5 577.4L613.8 576.7L614.1 575.9L614.4 575.1L614.7 574.2L615.0 573.3L615.3 572.4L615.6 571.6L615.9 570.7L616.2 569.8L616.5 568.9L616.8 568.1L617.1 567.3L617.4 566.6L617.8 566.0L618.1 565.4L618.4 564.9L618.7 564.5L619.0 564.1L619.3 563.9L619.6 563.7L619.9 563.7L620.2 563.7L620.5 563.9L620.8 564.1L621.1 564.5L621.4 564.9L621.7 565.4L622.0 566.0L622.4 566.7L622.7 567.4L623.0 568.2L623.3 569.1L623.6 570.0L623.9 570.9L624.2 571.8L624.5 572.8L624.8 573.7L625.1 574.6L625.4 575.5L625.7 576.4L626.0 577.3L626.3 578.1L626.6 578.8L627.0 579.5L627.3 580.1L627.6 580.6L627.9 581.0L628.2 581.4L628.5 581.6L628.8 581.8L629.1 581.8L629.4 581.7L629.7 581.6L630.0 581.3L630.3 581.0L630.6 580.5L630.9 580.0L631.2 579.4L631.6 578.7L631.9 577.9L632.2 577.1L632.5 576.2L632.8 575.3L633.1 574.3L633.4 573.4L633.7 572.4L634.0 571.5L634.3 570.5L634.6 569.6L634.9 568.7L635.2 567.9L635.5 567.1L635.9 566.4L636.2 565.8L636.5 565.3L636.8 564.8L637.1 564.5L637.4 564.2L637.7 564.1L638.0 564.0L638.2 564.4L638.5 564.7L638.9 565.0L639.3 565.7L639.7 566.8L640.1 568.5L640.5 571.0L640.9 574.6L641.2 579.1L641.6 584.3L641.9 589.9L642.3 595.6L642.6 601.0L643.0 606.0L643.4 610.7L643.8 615.5L644.1 620.2L644.5 624.7L644.9 628.9L645.3 632.7L645.6 635.8L646.0 638.9L646.4 640.7L646.7 641.9L647.1 643.1L647.4 645.0L647.7 647.7L648.1 650.7L648.4 653.8L648.8 657.0L649.2 660.0L649.5 662.0L649.9 664.0L650.2 665.9L650.6 667.8L651.0 669.7L651.4 671.6L651.8 673.5L652.1 675.1L652.5 676.6L652.9 678.3L653.3 679.9L653.6 681.5L654.0 683.1L654.4 684.6L654.8 686.1L655.1 687.5L655.5 689.2L655.9 690.9L656.3 692.6L656.7 694.1L657.1 695.6L657.5 696.9L657.8 698.0L658.2 699.3L658.6 700.5L658.9 701.3L659.3 701.8L659.6 702.0L660.0 701.7L660.5 700.8L660.9 699.6L661.3 698.0L661.6 696.6L661.9 695.1L662.2 692.7L662.7 688.8L663.0 686.4L663.3 683.5L663.7 680.4L664.1 677.0L664.5 673.4L664.9 669.6L665.3 665.8L665.7 662.0L666.0 658.2L666.4 653.2L666.8 648.0L667.2 642.5L667.6 637.1L667.9 631.8L668.3 626.7L668.6 622.0L669.0 616.9L669.4 612.0L669.7 607.4L670.1 603.1L670.4 599.3L670.8 596.0L671.2 593.2L671.6 590.9L672.0 589.1L672.4 587.6L672.8 586.6L673.2 586.1L673.6 586.1L674.0 586.8L674.4 588.2L674.8 589.9L675.2 592.0L675.6 594.7L676.0 598.1L676.3 601.8L676.7 605.2L677.2 607.8L677.6 609.1L677.9 610.0L678.3 610.7L678.7 611.3L679.2 611.8L679.6 612.3L680.0 613.0L680.4 613.7L680.7 614.4L681.1 615.1L681.5 615.8L681.9 616.6L682.3 617.4L682.7 618.2L683.1 619.2L683.4 620.0L683.8 620.9L684.2 621.9L684.5 622.9L684.9 623.9L685.3 624.9L685.7 626.0L686.0 627.0L686.4 628.0L686.8 629.0L687.1 629.9L687.5 630.8L687.8 631.7L688.2 632.6L688.5 633.5L688.9 634.3L689.2 635.2L689.6 636.0L690.0 636.8L690.3 637.6L690.7 638.3L691.0 638.9L691.4 639.5L691.7 640.0L692.1 640.5L692.4 640.9L692.8 641.4L693.2 641.8L693.5 642.2L693.9 642.7L694.3 643.1L694.6 643.5L695.0 644.0L695.3 644.4L695.7 644.8L696.0 645.2L696.4 645.6L696.7 646.0L697.1 646.4L697.5 646.8L697.8 647.2L698.2 647.7L698.5 648.2L698.9 648.7L699.2 649.2L699.6 649.8L700.0 650.4L700.3 651.2L700.7 651.9L701.1 652.7L701.4 653.5L701.8 654.4L702.2 655.2L702.5 656.1L702.9 656.9L703.2 657.8L703.6 658.6L703.9 659.3L704.2 660.0L704.7 661.0L705.1 662.0L705.4 662.9L705.8 663.7L706.2 664.5L706.5 665.3L706.9 666.2L707.3 667.1L707.6 667.9L708.0 668.7L708.4 669.5L708.8 670.3L709.1 671.1L709.5 671.9L709.9 672.7L710.3 673.5L710.6 674.3L711.0 675.0L711.4 675.8L711.8 676.5L712.1 677.3L712.5 678.0L712.9 678.7L713.3 679.3L713.6 680.0L714.0 680.6L714.4 681.1L714.8 681.5L715.1 681.9L715.5 682.3L715.8 682.6L716.2 682.9L716.6 683.2L716.9 683.5L717.3 683.8L717.7 684.1L718.0 684.5L718.4 684.9L718.7 685.3L719.1 685.7L719.5 686.1L719.8 686.5L720.2 687.0L720.5 687.5L720.9 688.1L721.3 688.8L721.7 689.5L722.0 690.3L722.4 691.1L722.7 691.9L723.1 692.8L723.5 693.8L723.9 694.7L724.2 695.7L724.6 696.6L725.0 697.5L725.3 698.3L725.7 699.1L726.0 699.9L726.3 700.7L726.6 701.6L726.9 702.4L727.2 703.2L727.6 704.0L728.0 704.9L728.4 705.7L728.9 706.6L729.2 707.1L729.5 707.6L729.8 708.0L730.1 708.5L730.5 709.0L730.8 709.5L731.2 710.0L731.5 710.5L731.9 711.0L732.3 711.5L732.6 712.0L733.0 712.6L733.4 713.1L733.8 713.6L734.2 714.1L734.5 714.6L734.9 715.0L735.3 715.5L735.6 716.0L736.0 716.5L736.4 717.0L736.7 717.4L737.1 717.9L737.5 718.4L737.8 718.8L738.2 719.3L738.6 719.7L739.0 720.2L739.3 720.7L739.7 721.1L740.1 721.6L740.4 722.0L740.8 722.5L741.1 722.9L741.5 723.4L741.8 723.8L742.1 724.3L742.4 724.8L742.7 725.2L743.0 725.7L743.5 726.6L743.9 727.5L744.3 728.4L744.7 729.3L745.0 730.2L745.4 731.1L745.7 732.0L746.0 732.9L746.3 733.8L746.7 734.7L747.0 735.5L747.4 736.4L747.7 737.3L748.1 738.1L748.4 739.0L748.8 739.8L749.1 740.7L749.5 741.4L749.8 742.2L750.2 742.9L750.6 743.6L750.9 744.1L751.3 744.6L751.6 745.1L752.0 745.6L752.4 746.0L752.7 746.4L753.1 746.8L753.5 747.2L753.9 747.6L754.3 748.0L754.6 748.4L755.0 748.8L755.4 749.2L755.7 749.6L756.1 750.0L756.5 750.4L756.9 750.8L757.2 751.2L757.6 751.6L758.0 752.0L758.4 752.4L758.7 752.9L759.1 753.3L759.5 753.8L759.9 754.3L760.3 754.8L760.6 755.3L761.0 755.9L761.4 756.4L761.8 757.0L762.1 757.6L762.5 758.2L762.9 758.7L763.3 759.3L763.6 759.9L764.0 760.5L764.4 761.1L764.7 761.7L765.1 762.3L765.5 762.9L765.9 763.5L766.2 764.1L766.6 764.7L767.0 765.4L767.3 766.0L767.7 766.6L768.0 767.2L768.4 767.8L768.8 768.5L769.2 769.1L769.6 769.8L769.9 770.5L770.3 771.1L770.7 771.8L771.1 772.5L771.4 773.1L771.8 773.7L772.1 774.4L772.5 775.0L772.9 775.7L773.3 776.4L773.7 777.1L774.0 777.8L774.4 778.5L774.8 779.2L775.1 779.8L775.5 780.3L775.8 780.9L776.1 781.3L776.5 781.8L777.0 782.2L777.4 782.4L777.8 782.6L778.1 782.8L778.4 782.9L778.6 783.0" fill="none" stroke="#0072BD" stroke-width="1.5" stroke-linejoin="round" />
<line x1="67.0" y1="813.4" x2="67.0" y2="805.6" stroke="#1a1a1a" stroke-width="1.3"/>
<line x1="67.0" y1="465.7" x2="67.0" y2="473.5" stroke="#1a1a1a" stroke-width="1.3"/>
<line x1="156.0" y1="813.4" x2="156.0" y2="805.6" stroke="#1a1a1a" stroke-width="1.3"/>
<line x1="156.0" y1="465.7" x2="156.0" y2="473.5" stroke="#1a1a1a" stroke-width="1.3"/>
<line x1="244.9" y1="813.4" x2="244.9" y2="805.6" stroke="#1a1a1a" stroke-width="1.3"/>
<line x1="244.9" y1="465.7" x2="244.9" y2="473.5" stroke="#1a1a1a" stroke-width="1.3"/>
<line x1="333.9" y1="813.4" x2="333.9" y2="805.6" stroke="#1a1a1a" stroke-width="1.3"/>
<line x1="333.9" y1="465.7" x2="333.9" y2="473.5" stroke="#1a1a1a" stroke-width="1.3"/>
<line x1="422.8" y1="813.4" x2="422.8" y2="805.6" stroke="#1a1a1a" stroke-width="1.3"/>
<line x1="422.8" y1="465.7" x2="422.8" y2="473.5" stroke="#1a1a1a" stroke-width="1.3"/>
<line x1="511.8" y1="813.4" x2="511.8" y2="805.6" stroke="#1a1a1a" stroke-width="1.3"/>
<line x1="511.8" y1="465.7" x2="511.8" y2="473.5" stroke="#1a1a1a" stroke-width="1.3"/>
<line x1="600.7" y1="813.4" x2="600.7" y2="805.6" stroke="#1a1a1a" stroke-width="1.3"/>
<line x1="600.7" y1="465.7" x2="600.7" y2="473.5" stroke="#1a1a1a" stroke-width="1.3"/>
<line x1="689.7" y1="813.4" x2="689.7" y2="805.6" stroke="#1a1a1a" stroke-width="1.3"/>
<line x1="689.7" y1="465.7" x2="689.7" y2="473.5" stroke="#1a1a1a" stroke-width="1.3"/>
<line x1="778.6" y1="813.4" x2="778.6" y2="805.6" stroke="#1a1a1a" stroke-width="1.3"/>
<line x1="778.6" y1="465.7" x2="778.6" y2="473.5" stroke="#1a1a1a" stroke-width="1.3"/>
<line x1="67.0" y1="465.7" x2="74.8" y2="465.7" stroke="#1a1a1a" stroke-width="1.3"/>
<line x1="778.6" y1="465.7" x2="770.8" y2="465.7" stroke="#1a1a1a" stroke-width="1.3"/>
<line x1="67.0" y1="509.2" x2="74.8" y2="509.2" stroke="#1a1a1a" stroke-width="1.3"/>
<line x1="778.6" y1="509.2" x2="770.8" y2="509.2" stroke="#1a1a1a" stroke-width="1.3"/>
<line x1="67.0" y1="552.6" x2="74.8" y2="552.6" stroke="#1a1a1a" stroke-width="1.3"/>
<line x1="778.6" y1="552.6" x2="770.8" y2="552.6" stroke="#1a1a1a" stroke-width="1.3"/>
<line x1="67.0" y1="596.1" x2="74.8" y2="596.1" stroke="#1a1a1a" stroke-width="1.3"/>
<line x1="778.6" y1="596.1" x2="770.8" y2="596.1" stroke="#1a1a1a" stroke-width="1.3"/>
<line x1="67.0" y1="639.5" x2="74.8" y2="639.5" stroke="#1a1a1a" stroke-width="1.3"/>
<line x1="778.6" y1="639.5" x2="770.8" y2="639.5" stroke="#1a1a1a" stroke-width="1.3"/>
<line x1="67.0" y1="683.0" x2="74.8" y2="683.0" stroke="#1a1a1a" stroke-width="1.3"/>
<line x1="778.6" y1="683.0" x2="770.8" y2="683.0" stroke="#1a1a1a" stroke-width="1.3"/>
<line x1="67.0" y1="726.5" x2="74.8" y2="726.5" stroke="#1a1a1a" stroke-width="1.3"/>
<line x1="778.6" y1="726.5" x2="770.8" y2="726.5" stroke="#1a1a1a" stroke-width="1.3"/>
<line x1="67.0" y1="769.9" x2="74.8" y2="769.9" stroke="#1a1a1a" stroke-width="1.3"/>
<line x1="778.6" y1="769.9" x2="770.8" y2="769.9" stroke="#1a1a1a" stroke-width="1.3"/>
<line x1="67.0" y1="813.4" x2="74.8" y2="813.4" stroke="#1a1a1a" stroke-width="1.3"/>
<line x1="778.6" y1="813.4" x2="770.8" y2="813.4" stroke="#1a1a1a" stroke-width="1.3"/>
<rect x="67.0" y="465.7" width="711.6" height="347.7" fill="none" stroke="#1a1a1a" stroke-width="1.55"/>
<text x="58.7" y="826.0" font-size="10.0" text-anchor="start" >0.8</text>
<text x="144.3" y="826.0" font-size="10.0" text-anchor="start" >0.85</text>
<text x="236.6" y="826.0" font-size="10.0" text-anchor="start" >0.9</text>
<text x="322.2" y="826.0" font-size="10.0" text-anchor="start" >0.95</text>
<text x="419.5" y="826.0" font-size="10.0" text-anchor="start" >1</text>
<text x="500.1" y="826.0" font-size="10.0" text-anchor="start" >1.05</text>
<text x="592.4" y="826.0" font-size="10.0" text-anchor="start" >1.1</text>
<text x="678.0" y="826.0" font-size="10.0" text-anchor="start" >1.15</text>
<text x="770.3" y="826.0" font-size="10.0" text-anchor="start" >1.2</text>
<text x="35.7" y="465.0" font-size="10.0" text-anchor="start" >2000</text>
<text x="55.7" y="509.0" font-size="10.0" text-anchor="start" >0</text>
<text x="31.7" y="552.0" font-size="10.0" text-anchor="start" >-2000</text>
<text x="31.7" y="596.0" font-size="10.0" text-anchor="start" >-4000</text>
<text x="31.7" y="639.0" font-size="10.0" text-anchor="start" >-6000</text>
<text x="31.7" y="682.0" font-size="10.0" text-anchor="start" >-8000</text>
<text x="25.0" y="726.0" font-size="10.0" text-anchor="start" >-10000</text>
<text x="25.0" y="769.0" font-size="10.0" text-anchor="start" >-12000</text>
<text x="25.0" y="813.0" font-size="10.0" text-anchor="start" >-14000</text>
<text x="397.1" y="862.0" font-size="17.6" text-anchor="start" >Time (s)</text>
<text x="376.8" y="455.5" font-size="17.6" text-anchor="start" >power of bus 1</text>
<text transform="translate(15.1 632.6) rotate(-90)" font-size="17.6" text-anchor="middle">power (W)</text>
<text x="1.6" y="455.7" font-size="22.5" text-anchor="start" >(b)</text>
<line x1="155.5" y1="902.6" x2="155.5" y2="1250.3" stroke="#ededed" stroke-width="1"/>
<line x1="244.5" y1="902.6" x2="244.5" y2="1250.3" stroke="#ededed" stroke-width="1"/>
<line x1="333.5" y1="902.6" x2="333.5" y2="1250.3" stroke="#ededed" stroke-width="1"/>
<line x1="422.5" y1="902.6" x2="422.5" y2="1250.3" stroke="#ededed" stroke-width="1"/>
<line x1="511.5" y1="902.6" x2="511.5" y2="1250.3" stroke="#ededed" stroke-width="1"/>
<line x1="600.5" y1="902.6" x2="600.5" y2="1250.3" stroke="#ededed" stroke-width="1"/>
<line x1="689.5" y1="902.6" x2="689.5" y2="1250.3" stroke="#ededed" stroke-width="1"/>
<line x1="67.0" y1="952.5" x2="778.6" y2="952.5" stroke="#efefef" stroke-width="1"/>
<line x1="67.0" y1="1001.5" x2="778.6" y2="1001.5" stroke="#efefef" stroke-width="1"/>
<line x1="67.0" y1="1051.5" x2="778.6" y2="1051.5" stroke="#efefef" stroke-width="1"/>
<line x1="67.0" y1="1101.5" x2="778.6" y2="1101.5" stroke="#efefef" stroke-width="1"/>
<line x1="67.0" y1="1150.5" x2="778.6" y2="1150.5" stroke="#efefef" stroke-width="1"/>
<line x1="67.0" y1="1200.5" x2="778.6" y2="1200.5" stroke="#efefef" stroke-width="1"/>
<g clip-path="url(#cc)">
<path d="M67.0 1220.1L421.5 1220.1L423.4 1220.1L423.7 1220.5L424.0 1220.1L424.3 1220.9L424.6 1220.9L424.9 1221.5L425.2 1222.7L425.5 1222.9L425.8 1223.6L426.1 1224.8L426.4 1225.9L426.7 1226.6L427.0 1227.8L427.3 1228.5L427.6 1229.9L427.9 1231.1L428.2 1232.1L428.5 1233.3L428.8 1234.5L429.1 1236.2L429.4 1237.4L429.7 1238.6L430.0 1239.9L430.3 1240.5L430.6 1242.0L430.9 1243.0L431.2 1244.1L431.5 1244.4L431.8 1245.2L432.1 1245.4L432.4 1246.3L432.7 1246.2L433.0 1246.7L433.3 1247.7L433.6 1246.7L433.9 1247.6L434.2 1247.3L434.5 1246.9L434.8 1246.8L435.1 1246.4L435.4 1246.1L435.7 1245.1L436.1 1244.3L436.4 1243.6L436.7 1242.7L437.0 1242.1L437.3 1240.9L437.6 1240.4L437.9 1238.5L438.2 1237.6L438.5 1236.4L438.8 1234.9L439.1 1234.8L439.4 1232.3L439.7 1231.6L440.0 1230.2L440.3 1229.6L440.7 1227.1L441.0 1226.7L441.3 1224.9L441.6 1223.8L441.9 1222.3L442.2 1221.5L442.5 1219.7L442.8 1218.9L443.1 1217.9L443.4 1217.3L443.7 1215.0L444.0 1215.2L444.3 1214.1L444.6 1212.9L444.9 1212.4L445.3 1211.5L445.6 1211.5L445.9 1210.6L446.2 1210.1L446.5 1209.7L446.8 1209.5L447.1 1209.4L447.4 1209.1L447.7 1210.1L448.0 1209.1L448.3 1208.9L448.6 1210.4L448.9 1211.0L449.2 1211.9L449.5 1212.5L449.8 1213.5L450.1 1214.6L450.4 1215.9L450.7 1216.7L451.0 1218.0L451.3 1220.0L451.6 1220.9L451.9 1221.8L452.2 1224.1L452.6 1225.1L452.9 1226.0L453.2 1227.2L453.5 1228.9L453.8 1229.8L454.1 1230.9L454.4 1232.0L454.7 1233.2L455.0 1234.6L455.3 1235.0L455.6 1235.4L455.9 1236.6L456.2 1236.9L456.5 1237.5L456.8 1237.8L457.1 1237.4L457.4 1237.4L457.7 1237.1L458.0 1236.2L458.3 1236.0L458.6 1235.3L458.9 1233.8L459.2 1232.4L459.5 1230.9L459.9 1229.2L460.2 1227.4L460.5 1225.6L460.8 1223.5L461.1 1221.5L461.4 1219.0L461.7 1217.3L462.0 1215.0L462.3 1212.3L462.6 1209.7L462.9 1208.1L463.2 1206.2L463.5 1203.5L463.8 1201.4L464.1 1199.4L464.4 1197.9L464.7 1195.6L465.1 1194.6L465.4 1192.7L465.7 1191.8L466.0 1190.4L466.3 1189.4L466.6 1188.3L466.9 1188.0L467.2 1187.8L467.5 1188.0L467.8 1188.0L468.1 1188.2L468.4 1189.3L468.7 1190.6L469.0 1191.6L469.3 1193.2L469.6 1195.1L469.9 1197.5L470.2 1199.7L470.5 1201.7L470.8 1204.6L471.1 1206.9L471.4 1209.5L471.8 1212.7L472.1 1215.2L472.4 1217.2L472.7 1219.9L473.0 1222.3L473.3 1224.0L473.6 1226.1L473.9 1227.9L474.2 1228.6L474.5 1230.3L474.8 1231.2L475.1 1231.6L475.4 1231.2L475.7 1231.6L476.0 1231.0L476.3 1231.0L476.6 1230.4L476.9 1229.6L477.2 1228.4L477.5 1227.3L477.8 1226.6L478.1 1224.7L478.4 1223.7L478.7 1222.1L479.0 1220.1L479.3 1219.1L479.6 1216.6L479.9 1215.2L480.2 1212.0L480.5 1209.8L480.8 1208.7L481.1 1206.5L481.4 1204.1L481.7 1202.1L482.0 1199.4L482.3 1197.7L482.6 1195.6L482.9 1193.9L483.2 1192.3L483.5 1190.3L483.8 1188.7L484.1 1186.8L484.4 1185.4L484.7 1184.2L485.0 1182.9L485.3 1182.3L485.6 1180.7L485.9 1180.8L486.2 1179.4L486.5 1179.6L486.8 1178.8L487.1 1179.4L487.4 1179.1L487.7 1179.7L488.0 1180.7L488.3 1181.5L488.6 1182.9L488.9 1184.4L489.2 1187.4L489.5 1189.1L489.8 1191.5L490.1 1194.2L490.5 1197.3L490.8 1198.7L491.1 1201.8L491.4 1204.0L491.7 1206.5L492.0 1207.8L492.3 1210.0L492.6 1211.9L492.9 1213.4L493.2 1214.3L493.5 1214.1L493.8 1214.5L497.6 1216.3L497.9 1215.8L498.2 1215.4L498.5 1215.6L498.8 1214.7L499.1 1213.7L499.4 1212.9L499.7 1211.0L500.0 1210.0L500.3 1208.2L500.6 1206.5L500.9 1204.8L501.2 1202.7L501.5 1200.7L501.8 1198.6L502.1 1197.0L502.5 1194.2L502.8 1192.4L503.1 1190.1L503.4 1187.7L503.7 1186.1L504.0 1183.6L504.3 1182.3L504.6 1180.0L504.9 1178.5L505.2 1177.3L505.5 1176.2L505.8 1175.1L506.1 1174.1L506.4 1173.1L506.7 1172.3L507.0 1172.5L507.3 1172.3L507.6 1172.0L507.9 1173.0L508.2 1173.4L508.5 1173.9L508.8 1175.4L509.1 1176.2L509.4 1177.9L509.7 1179.9L510.0 1181.2L510.3 1183.7L510.6 1185.5L510.9 1188.3L511.2 1190.2L511.5 1192.9L511.9 1194.8L512.2 1197.6L512.5 1200.3L512.8 1202.5L513.1 1204.1L513.4 1207.1L513.7 1209.1L514.0 1210.6L514.3 1212.8L514.6 1213.6L514.9 1215.2L515.2 1216.6L515.5 1217.6L515.8 1218.2L516.1 1217.8L516.4 1217.8L516.7 1218.3L517.0 1217.3L517.3 1217.0L517.6 1215.7L517.9 1215.2L518.2 1213.7L518.5 1212.0L518.9 1210.0L519.2 1207.9L519.5 1205.6L519.8 1203.4L520.1 1200.8L520.4 1198.3L520.7 1195.4L521.0 1193.4L521.3 1190.2L521.6 1187.8L521.9 1185.1L522.2 1181.9L522.5 1179.1L522.8 1177.6L523.1 1174.9L523.4 1173.0L523.8 1171.0L524.1 1169.5L524.4 1167.6L524.7 1166.7L525.0 1165.7L525.3 1165.1L525.6 1164.0L525.9 1164.8L526.2 1164.8L526.5 1164.6L526.8 1165.6L527.1 1166.8L527.4 1168.3L527.7 1169.5L528.0 1171.7L528.3 1173.2L528.6 1175.0L528.9 1177.3L529.2 1180.2L529.5 1182.3L529.8 1185.3L530.1 1188.1L530.5 1190.6L530.8 1193.5L531.1 1195.8L531.4 1198.4L531.7 1200.8L532.0 1203.2L532.3 1205.2L532.6 1207.6L532.9 1209.3L533.2 1210.9L533.5 1212.9L533.8 1214.2L534.1 1214.9L534.4 1216.1L534.7 1216.4L535.0 1216.6L535.3 1216.0L535.6 1215.3L535.9 1215.2L536.2 1214.1L536.5 1213.0L536.8 1211.4L537.1 1209.9L537.5 1207.4L537.8 1205.5L538.1 1202.7L538.4 1199.8L538.7 1197.7L539.0 1195.5L539.3 1191.8L539.6 1189.7L539.9 1186.4L540.2 1183.6L540.5 1180.9L540.8 1178.2L541.1 1175.2L541.4 1173.1L541.7 1170.8L542.0 1168.8L542.4 1166.3L542.7 1165.2L543.0 1163.8L543.3 1162.7L543.6 1160.6L543.9 1160.3L544.2 1159.3L544.5 1159.8L544.8 1160.0L545.1 1160.0L545.4 1160.6L545.7 1162.2L546.0 1163.7L546.3 1164.9L546.6 1166.9L547.0 1168.3L547.3 1171.2L547.6 1173.9L547.9 1176.5L548.2 1179.7L548.5 1181.7L548.8 1184.2L549.1 1187.9L549.4 1190.5L549.7 1193.6L550.0 1196.4L550.3 1199.0L550.6 1201.7L550.9 1204.0L551.3 1205.2L551.6 1207.5L551.9 1209.8L552.2 1210.4L552.5 1211.9L552.8 1212.4L553.1 1212.7L553.4 1213.5L553.7 1213.2L554.0 1212.4L554.3 1212.1L554.6 1210.5L554.9 1209.5L555.2 1208.6L555.5 1206.7L555.8 1204.6L556.1 1203.0L556.4 1200.8L556.7 1198.8L557.0 1196.2L557.3 1193.3L557.6 1190.6L557.9 1188.0L558.2 1185.3L558.6 1183.1L558.9 1180.4L559.2 1177.7L559.5 1174.9L559.8 1172.2L560.1 1170.3L560.4 1167.7L560.7 1165.9L561.0 1163.5L561.3 1162.2L561.6 1161.4L561.9 1159.5L562.2 1158.4L562.5 1158.2L562.8 1158.3L563.1 1158.1L563.4 1157.7L563.7 1158.1L564.0 1158.9L564.3 1159.6L564.6 1161.0L564.9 1162.4L565.2 1163.6L565.6 1165.7L565.9 1167.8L566.2 1169.8L566.5 1172.0L566.8 1175.0L567.1 1177.8L567.4 1179.7L567.7 1182.1L568.0 1184.9L568.3 1187.2L568.6 1189.4L568.9 1192.3L569.2 1193.8L569.5 1195.9L569.9 1197.7L570.2 1199.3L570.5 1200.9L570.8 1202.3L571.1 1203.5L571.4 1204.0L571.7 1204.2L572.0 1203.9L572.3 1204.2L572.6 1203.6L572.9 1203.3L573.2 1202.9L573.5 1201.7L573.8 1200.5L574.1 1199.0L574.4 1197.8L574.7 1196.2L575.0 1194.2L575.3 1192.4L575.6 1190.9L575.9 1188.1L576.2 1186.3L576.5 1184.0L576.9 1182.6L577.2 1180.2L577.5 1178.0L577.8 1175.8L578.1 1173.8L578.4 1171.8L578.7 1169.4L579.0 1168.2L579.3 1166.7L579.6 1164.6L579.9 1164.0L580.2 1162.8L580.5 1161.2L580.8 1160.8L581.1 1160.3L581.4 1159.9L581.7 1160.1L582.0 1159.7L582.3 1160.4L582.6 1161.1L582.9 1162.0L583.2 1162.8L583.5 1164.0L583.9 1165.6L584.2 1166.3L584.5 1168.9L584.8 1170.3L585.1 1171.9L585.4 1174.1L585.7 1175.6L586.0 1177.6L586.3 1180.1L586.6 1181.9L586.9 1184.2L587.2 1185.5L587.5 1187.1L587.8 1188.7L588.2 1190.9L588.5 1191.6L588.8 1192.4L589.1 1193.1L589.4 1193.6L589.7 1194.2L590.0 1194.5L590.3 1194.7L590.6 1194.5L590.9 1193.9L591.2 1193.1L591.5 1192.4L591.8 1191.2L592.1 1190.8L592.4 1190.2L592.7 1188.9L593.0 1188.0L593.3 1186.2L593.6 1185.6L593.9 1184.0L594.2 1182.5L594.5 1181.1L594.8 1178.8L595.1 1177.8L595.5 1176.2L595.8 1175.5L596.1 1173.4L596.4 1171.9L596.7 1170.9L597.0 1169.0L597.3 1168.5L597.6 1166.7L597.9 1165.8L598.2 1164.5L598.5 1164.2L598.8 1162.6L599.1 1162.8L599.4 1161.9L599.7 1161.8L600.0 1161.2L600.3 1161.6L600.6 1161.7L600.9 1162.1L601.2 1162.5L601.5 1163.3L601.8 1164.3L602.1 1164.9L602.4 1165.9L602.7 1167.2L603.0 1169.2L603.3 1170.4L603.6 1172.4L603.9 1173.7L604.3 1175.0L604.6 1177.2L604.9 1179.1L605.2 1180.0L605.5 1181.2L605.8 1182.5L606.1 1184.2L606.4 1184.8L606.7 1185.8L607.0 1186.8L607.3 1187.1L607.6 1187.4L607.9 1187.3L608.2 1187.2L608.5 1187.3L608.8 1187.0L609.1 1186.6L609.4 1185.7L609.7 1185.3L610.0 1184.6L610.3 1183.5L610.6 1182.7L610.9 1181.8L611.2 1180.4L611.5 1179.1L611.8 1177.6L612.1 1176.7L612.4 1175.2L612.8 1173.8L613.1 1172.3L613.4 1171.4L613.7 1170.7L614.0 1168.8L614.3 1167.5L614.6 1166.5L614.9 1165.1L615.2 1164.3L615.5 1163.2L615.8 1162.4L616.1 1162.0L616.4 1161.4L616.7 1160.9L617.0 1160.3L617.3 1160.4L617.6 1160.0L617.9 1160.6L618.2 1160.5L618.5 1161.1L618.8 1161.9L619.1 1162.6L619.4 1162.9L619.8 1164.3L620.1 1165.6L620.4 1166.4L620.7 1167.3L621.0 1169.4L621.3 1170.8L621.6 1172.3L621.9 1173.6L622.2 1175.0L622.5 1176.3L622.8 1177.9L623.1 1178.8L623.5 1179.8L623.8 1180.4L624.1 1181.7L624.4 1181.9L624.7 1182.6L625.0 1182.0L625.3 1182.8L625.6 1182.6L625.9 1182.3L626.2 1182.5L626.5 1181.7L626.8 1181.0L627.1 1180.1L627.4 1180.0L627.7 1178.7L628.0 1177.7L628.3 1176.1L628.6 1175.5L628.9 1174.1L629.2 1172.5L629.5 1171.2L629.8 1169.4L630.2 1168.7L630.5 1166.8L630.8 1166.1L631.1 1164.4L631.4 1163.1L631.7 1162.2L632.0 1161.0L632.3 1159.6L632.6 1158.9L632.9 1158.3L633.2 1157.3L633.5 1156.4L633.8 1156.2L634.1 1155.7L634.4 1155.6L634.7 1155.7L635.0 1155.8L635.3 1156.1L635.6 1156.2L635.9 1157.5L636.2 1158.3L636.6 1159.3L636.9 1160.8L637.2 1162.7L637.5 1163.2L637.8 1164.7L638.1 1167.0L638.4 1168.1L638.7 1170.3L639.0 1171.2L639.3 1172.9L639.6 1174.6L639.9 1175.9L640.3 1176.9L640.6 1177.8L640.9 1178.4L641.2 1178.8L641.5 1179.2L641.8 1179.8L642.1 1179.5L642.4 1178.9L642.7 1178.4L643.0 1177.8L643.3 1176.9L643.6 1175.2L643.9 1173.8L644.2 1172.3L644.5 1171.2L644.9 1168.4" fill="none" stroke="#0072BD" stroke-width="1.6" stroke-linejoin="round" />
<path d="M644.9 1168.4L645.2 1166.7L645.5 1163.4L645.8 1161.8L646.1 1158.5L646.4 1156.1L646.7 1153.6L647.0 1151.1L647.3 1148.5L647.6 1145.9L647.9 1143.2L648.2 1140.3L648.5 1138.9L648.8 1135.5L649.1 1133.2L649.4 1131.5L649.7 1128.9L650.0 1126.8L650.4 1124.9L650.7 1123.9L651.0 1121.2L651.3 1120.0L651.6 1119.4L651.9 1117.7L652.2 1117.6L652.5 1118.1L652.8 1117.3L653.1 1117.7L653.4 1118.3L653.7 1118.0L654.0 1119.4L654.3 1120.0L654.6 1120.9L654.9 1122.6L655.2 1124.1L655.5 1125.6L655.8 1127.1L656.1 1129.6L656.4 1131.5L656.8 1133.0L657.1 1134.5L657.4 1135.8L657.7 1137.6L658.0 1139.0L658.3 1141.1L658.6 1142.8L658.9 1143.9L659.2 1144.4L659.5 1145.0L659.8 1145.8L660.1 1146.1L660.4 1146.5L660.7 1146.9L661.0 1145.5L661.3 1146.4L661.6 1143.6L661.9 1142.9L662.2 1142.0L662.5 1141.1L662.8 1140.1L663.1 1139.8L663.4 1136.7L663.8 1135.9L664.1 1133.1L664.4 1131.4L664.7 1128.6L665.0 1128.2L665.3 1124.5L665.6 1121.8L665.9 1121.0L666.2 1117.4L666.5 1115.0L666.8 1112.2L667.1 1109.3L667.4 1106.4L667.7 1104.7L668.0 1103.4L668.3 1100.4L668.6 1097.8L668.9 1096.4L669.2 1093.1L669.5 1092.6L669.9 1089.9L670.2 1087.8L670.5 1087.2L670.8 1085.7L671.1 1084.0L671.4 1083.3L671.7 1082.9L672.0 1082.6L672.3 1080.6L672.6 1079.2L672.9 1082.1L673.2 1080.7L673.5 1080.8L673.8 1081.7L674.1 1081.6L674.4 1083.2L674.7 1082.4L675.0 1083.9L675.3 1084.1L675.6 1086.9L675.9 1086.7L676.2 1088.7L676.5 1090.0L676.9 1089.4L677.2 1091.2L677.5 1092.9L677.8 1093.5L678.1 1094.3L678.4 1095.9L678.7 1096.7L679.0 1096.4L679.3 1097.3L679.6 1098.3L679.9 1098.4L680.2 1098.5L680.5 1097.7L680.8 1099.6L681.1 1097.8L681.4 1097.7L681.7 1097.1L682.0 1097.0L682.3 1097.0L682.6 1096.0L682.9 1096.4L683.2 1096.3L683.5 1094.8L683.8 1094.0L684.1 1092.5L684.4 1090.8L684.7 1090.6L685.1 1086.9L685.4 1085.9L685.7 1084.4L686.0 1081.8L686.3 1078.5L686.6 1076.2L686.9 1076.0L687.2 1071.7L687.5 1070.1L687.8 1068.1L688.1 1065.3L688.4 1061.5L688.7 1059.1L689.0 1058.3L689.3 1055.5L689.6 1053.9L689.9 1052.2L690.2 1050.4L690.6 1047.4L690.9 1045.5L691.2 1046.3L691.5 1043.7L691.8 1042.2L692.1 1040.6L692.4 1042.1L692.7 1040.0L693.0 1039.9L693.3 1041.2L693.6 1041.0L693.9 1041.5L694.2 1040.2L694.5 1039.3L694.8 1041.6L695.1 1043.0L695.4 1043.5L695.7 1045.8L696.0 1046.4L696.3 1046.2L696.6 1048.8L696.9 1049.3L697.3 1050.1L697.6 1052.8L697.9 1051.3L698.2 1054.9L698.5 1056.0L698.8 1054.0L699.1 1056.6L699.4 1057.4L699.7 1057.1L700.0 1058.1L700.3 1058.2L700.6 1059.3L700.9 1058.8L701.2 1057.1L701.5 1059.8L701.8 1058.6L702.1 1055.8L702.4 1056.1L702.7 1055.6L703.0 1050.4L703.3 1049.7L703.6 1047.7L703.9 1046.9L704.2 1044.3L704.5 1041.7L704.8 1042.9L705.1 1040.2L705.4 1040.4L705.7 1041.5L706.0 1038.3L706.3 1038.5L706.6 1039.6L706.9 1038.2L707.2 1038.3L707.5 1037.0L707.8 1039.1L708.1 1035.9L708.4 1034.5L708.7 1033.1L709.0 1032.0L709.3 1028.5L709.6 1028.5L709.9 1028.0L710.2 1024.4L710.5 1024.1L710.9 1022.3L711.2 1020.2L711.5 1021.8L711.8 1018.3L712.1 1016.4L712.4 1013.7L712.7 1013.3L713.0 1011.5L713.3 1010.6L713.6 1009.8L713.9 1011.3L714.2 1009.2L714.5 1008.9L714.8 1008.0L715.1 1009.2L715.4 1005.2L715.7 1004.4L716.0 1006.2L716.3 1006.7L716.7 1007.1L717.0 1007.3L717.3 1010.0L717.6 1012.5L717.9 1012.2L718.2 1013.2L718.6 1016.3L718.9 1016.0L719.2 1017.3L719.5 1019.2L719.8 1017.2L720.2 1022.7L720.5 1020.8L720.8 1021.7L721.1 1021.3L721.4 1021.0L721.7 1018.3L722.0 1021.0L722.3 1018.5L722.6 1017.0L723.0 1019.1L723.3 1012.6L723.6 1013.7L723.9 1011.7L724.2 1009.1L724.5 1012.5L724.8 1007.9L725.1 1009.8L725.4 1009.1L725.7 1008.1L726.0 1004.7L726.4 1004.9L726.7 1000.5L727.0 995.3L727.3 992.1L727.6 990.9L728.0 986.5L728.3 986.4L728.6 985.0L728.9 983.5L729.2 981.6L729.5 981.8L729.9 983.1L730.2 981.0L730.5 983.0L730.9 979.3L731.2 979.8L731.5 980.0L731.8 979.5L732.1 980.5L732.4 982.3L732.7 981.5L733.0 982.4L733.3 981.1L733.7 983.1L734.0 979.1L734.3 978.2L734.6 971.6L735.0 973.8L735.3 972.5L735.6 974.3L735.9 974.4L736.3 974.6L736.6 976.8L736.9 979.5L737.2 980.9L737.6 979.4L737.9 981.8L738.2 979.0L738.6 979.0L738.9 974.7L739.2 975.1L739.6 975.2L739.9 971.0L740.2 973.3L740.5 970.1L740.8 972.0L741.1 977.6L741.4 975.1L741.7 977.2L742.0 975.6L742.3 979.0L742.6 979.0L742.9 982.6L743.2 980.7L743.5 985.2L743.8 979.9L744.1 981.3L744.4 977.1L744.7 978.1L745.0 978.9L745.3 975.3L745.6 971.8L746.0 972.5L746.3 971.3L746.6 968.9L746.9 968.2L747.2 963.4L747.5 967.2L747.8 965.0L748.1 960.7L748.4 966.3L748.7 962.2L749.0 962.4L749.3 957.2L749.6 957.3L749.9 953.4L750.2 955.1L750.5 951.2L750.8 947.9L751.1 946.6L751.4 947.0L751.7 942.6L752.0 943.4L752.3 940.1L752.6 939.1L752.9 941.1L753.2 942.1L753.5 943.9L753.8 946.5L754.2 946.0L754.5 947.6L754.8 950.7L755.1 951.3L755.4 951.3L755.7 952.0L756.0 947.9L756.3 949.6L756.6 946.6L757.0 947.0L757.3 947.3L757.6 942.0L757.9 945.2L758.2 942.5L758.5 943.3L758.9 943.6L759.2 946.5L759.5 945.5L759.8 944.5L760.1 949.4L760.5 949.3L760.8 950.8L761.1 950.4L761.4 946.3L761.7 946.8L762.0 944.4L762.3 941.5L762.6 939.0L762.9 936.8L763.2 933.1L763.5 932.0L763.8 932.7L764.1 929.0L764.4 930.8L764.7 929.8L765.0 930.5L765.3 932.6L765.7 934.8L766.0 938.2L766.3 936.4L766.6 939.1L766.9 939.0L767.2 938.4L767.5 932.6L767.8 936.3L768.1 933.7L768.5 928.9L768.8 927.9L769.1 927.7L769.4 921.6L769.7 922.1L770.1 924.9L770.4 921.3L770.8 923.9L771.1 927.1L771.5 928.6L771.8 928.6L772.2 926.7L772.5 927.7L772.8 922.8L773.2 918.7L773.5 920.2L773.8 921.2L774.1 919.6L774.4 913.9L774.7 915.7L775.0 911.2L775.4 909.8L775.7 910.5L776.0 905.9L776.3 903.9L776.6 904.5L776.9 904.4L777.3 911.3L777.6 912.2L777.9 915.3L778.3 914.7L778.6 915.6" fill="none" stroke="#0072BD" stroke-width="2.0" stroke-linejoin="round" />
</g>
<line x1="67.0" y1="1250.3" x2="67.0" y2="1242.5" stroke="#1a1a1a" stroke-width="1.3"/>
<line x1="67.0" y1="902.6" x2="67.0" y2="910.4" stroke="#1a1a1a" stroke-width="1.3"/>
<line x1="156.0" y1="1250.3" x2="156.0" y2="1242.5" stroke="#1a1a1a" stroke-width="1.3"/>
<line x1="156.0" y1="902.6" x2="156.0" y2="910.4" stroke="#1a1a1a" stroke-width="1.3"/>
<line x1="244.9" y1="1250.3" x2="244.9" y2="1242.5" stroke="#1a1a1a" stroke-width="1.3"/>
<line x1="244.9" y1="902.6" x2="244.9" y2="910.4" stroke="#1a1a1a" stroke-width="1.3"/>
<line x1="333.9" y1="1250.3" x2="333.9" y2="1242.5" stroke="#1a1a1a" stroke-width="1.3"/>
<line x1="333.9" y1="902.6" x2="333.9" y2="910.4" stroke="#1a1a1a" stroke-width="1.3"/>
<line x1="422.8" y1="1250.3" x2="422.8" y2="1242.5" stroke="#1a1a1a" stroke-width="1.3"/>
<line x1="422.8" y1="902.6" x2="422.8" y2="910.4" stroke="#1a1a1a" stroke-width="1.3"/>
<line x1="511.8" y1="1250.3" x2="511.8" y2="1242.5" stroke="#1a1a1a" stroke-width="1.3"/>
<line x1="511.8" y1="902.6" x2="511.8" y2="910.4" stroke="#1a1a1a" stroke-width="1.3"/>
<line x1="600.7" y1="1250.3" x2="600.7" y2="1242.5" stroke="#1a1a1a" stroke-width="1.3"/>
<line x1="600.7" y1="902.6" x2="600.7" y2="910.4" stroke="#1a1a1a" stroke-width="1.3"/>
<line x1="689.7" y1="1250.3" x2="689.7" y2="1242.5" stroke="#1a1a1a" stroke-width="1.3"/>
<line x1="689.7" y1="902.6" x2="689.7" y2="910.4" stroke="#1a1a1a" stroke-width="1.3"/>
<line x1="778.6" y1="1250.3" x2="778.6" y2="1242.5" stroke="#1a1a1a" stroke-width="1.3"/>
<line x1="778.6" y1="902.6" x2="778.6" y2="910.4" stroke="#1a1a1a" stroke-width="1.3"/>
<line x1="67.0" y1="902.6" x2="74.8" y2="902.6" stroke="#1a1a1a" stroke-width="1.3"/>
<line x1="778.6" y1="902.6" x2="770.8" y2="902.6" stroke="#1a1a1a" stroke-width="1.3"/>
<line x1="67.0" y1="952.3" x2="74.8" y2="952.3" stroke="#1a1a1a" stroke-width="1.3"/>
<line x1="778.6" y1="952.3" x2="770.8" y2="952.3" stroke="#1a1a1a" stroke-width="1.3"/>
<line x1="67.0" y1="1001.9" x2="74.8" y2="1001.9" stroke="#1a1a1a" stroke-width="1.3"/>
<line x1="778.6" y1="1001.9" x2="770.8" y2="1001.9" stroke="#1a1a1a" stroke-width="1.3"/>
<line x1="67.0" y1="1051.6" x2="74.8" y2="1051.6" stroke="#1a1a1a" stroke-width="1.3"/>
<line x1="778.6" y1="1051.6" x2="770.8" y2="1051.6" stroke="#1a1a1a" stroke-width="1.3"/>
<line x1="67.0" y1="1101.3" x2="74.8" y2="1101.3" stroke="#1a1a1a" stroke-width="1.3"/>
<line x1="778.6" y1="1101.3" x2="770.8" y2="1101.3" stroke="#1a1a1a" stroke-width="1.3"/>
<line x1="67.0" y1="1151.0" x2="74.8" y2="1151.0" stroke="#1a1a1a" stroke-width="1.3"/>
<line x1="778.6" y1="1151.0" x2="770.8" y2="1151.0" stroke="#1a1a1a" stroke-width="1.3"/>
<line x1="67.0" y1="1200.6" x2="74.8" y2="1200.6" stroke="#1a1a1a" stroke-width="1.3"/>
<line x1="778.6" y1="1200.6" x2="770.8" y2="1200.6" stroke="#1a1a1a" stroke-width="1.3"/>
<line x1="67.0" y1="1250.3" x2="74.8" y2="1250.3" stroke="#1a1a1a" stroke-width="1.3"/>
<line x1="778.6" y1="1250.3" x2="770.8" y2="1250.3" stroke="#1a1a1a" stroke-width="1.3"/>
<rect x="67.0" y="902.6" width="711.6" height="347.7" fill="none" stroke="#1a1a1a" stroke-width="1.55"/>
<text x="58.7" y="1263.0" font-size="10.0" text-anchor="start" >0.8</text>
<text x="144.3" y="1263.0" font-size="10.0" text-anchor="start" >0.85</text>
<text x="236.6" y="1263.0" font-size="10.0" text-anchor="start" >0.9</text>
<text x="322.2" y="1263.0" font-size="10.0" text-anchor="start" >0.95</text>
<text x="419.5" y="1263.0" font-size="10.0" text-anchor="start" >1</text>
<text x="500.1" y="1263.0" font-size="10.0" text-anchor="start" >1.05</text>
<text x="592.4" y="1263.0" font-size="10.0" text-anchor="start" >1.1</text>
<text x="678.0" y="1263.0" font-size="10.0" text-anchor="start" >1.15</text>
<text x="770.3" y="1263.0" font-size="10.0" text-anchor="start" >1.2</text>
<text x="35.7" y="902.0" font-size="10.0" text-anchor="start" >7000</text>
<text x="35.7" y="952.0" font-size="10.0" text-anchor="start" >6000</text>
<text x="35.7" y="1001.0" font-size="10.0" text-anchor="start" >5000</text>
<text x="35.7" y="1051.0" font-size="10.0" text-anchor="start" >4000</text>
<text x="35.7" y="1101.0" font-size="10.0" text-anchor="start" >3000</text>
<text x="35.7" y="1150.0" font-size="10.0" text-anchor="start" >2000</text>
<text x="35.7" y="1200.0" font-size="10.0" text-anchor="start" >1000</text>
<text x="55.7" y="1250.0" font-size="10.0" text-anchor="start" >0</text>
<text x="397.1" y="1299.0" font-size="17.6" text-anchor="start" >Time (s)</text>
<text x="373.5" y="892.8" font-size="17.6" text-anchor="start" >DC-link voltage</text>
<text transform="translate(26.0 1066.5) rotate(-90)" font-size="17.6" text-anchor="middle">DC voltage (V)</text>
<text x="1.6" y="892.6" font-size="22.5" text-anchor="start" >(c)</text>
<line x1="155.5" y1="1348.0" x2="155.5" y2="1695.7" stroke="#ededed" stroke-width="1"/>
<line x1="244.5" y1="1348.0" x2="244.5" y2="1695.7" stroke="#ededed" stroke-width="1"/>
<line x1="333.5" y1="1348.0" x2="333.5" y2="1695.7" stroke="#ededed" stroke-width="1"/>
<line x1="422.5" y1="1348.0" x2="422.5" y2="1695.7" stroke="#ededed" stroke-width="1"/>
<line x1="511.5" y1="1348.0" x2="511.5" y2="1695.7" stroke="#ededed" stroke-width="1"/>
<line x1="600.5" y1="1348.0" x2="600.5" y2="1695.7" stroke="#ededed" stroke-width="1"/>
<line x1="689.5" y1="1348.0" x2="689.5" y2="1695.7" stroke="#ededed" stroke-width="1"/>
<line x1="67.0" y1="1391.5" x2="778.6" y2="1391.5" stroke="#efefef" stroke-width="1"/>
<line x1="67.0" y1="1434.5" x2="778.6" y2="1434.5" stroke="#efefef" stroke-width="1"/>
<line x1="67.0" y1="1478.5" x2="778.6" y2="1478.5" stroke="#efefef" stroke-width="1"/>
<line x1="67.0" y1="1521.5" x2="778.6" y2="1521.5" stroke="#efefef" stroke-width="1"/>
<line x1="67.0" y1="1565.5" x2="778.6" y2="1565.5" stroke="#efefef" stroke-width="1"/>
<line x1="67.0" y1="1608.5" x2="778.6" y2="1608.5" stroke="#efefef" stroke-width="1"/>
<line x1="67.0" y1="1652.5" x2="778.6" y2="1652.5" stroke="#efefef" stroke-width="1"/>
<g clip-path="url(#cd)" fill="#0072BD" stroke="#0072BD" stroke-width="0.35" stroke-linejoin="round">
<rect x="67.0" y="1520.2" width="711.6" height="2.9" stroke="none"/>
<polygon points="522.2,1521.7 522.4,1493.4 523.0,1493.4 523.2,1521.7"/>
<polygon points="513.9,1521.7 514.4,1514.7 514.9,1508.2 515.3,1502.4 515.8,1497.2 516.3,1492.6 516.8,1488.6 517.2,1485.3 517.7,1482.5 518.2,1480.4 518.6,1478.8 519.1,1477.9 519.6,1477.6 520.4,1477.6 520.5,1521.7"/>
<polygon points="525.8,1521.7 526.3,1510.1 526.8,1499.5 527.2,1489.9 527.7,1481.3 528.2,1473.7 528.6,1467.2 529.1,1461.6 529.6,1457.1 530.1,1453.5 530.5,1451.0 531.0,1449.5 531.5,1449.0 532.2,1449.0 532.4,1488.2 534.0,1495.5 534.1,1475.6 534.7,1475.6 534.9,1521.7"/>
<polygon points="537.3,1521.7 537.8,1514.4 538.2,1507.8 538.7,1501.8 539.2,1496.5 539.7,1491.7 540.1,1487.7 540.6,1484.2 541.1,1481.3 541.6,1479.1 542.0,1477.6 542.5,1476.6 543.0,1476.3 543.8,1476.3 543.9,1497.7 545.4,1502.2 545.5,1497.7 546.1,1497.7 546.3,1521.7"/>
<polygon points="557.3,1521.7 557.5,1483.9 558.1,1483.9 558.2,1521.7"/>
<polygon points="549.3,1521.7 549.8,1512.5 550.2,1504.1 550.7,1496.5 551.2,1489.7 551.7,1483.7 552.1,1478.5 552.6,1474.1 553.1,1470.5 553.6,1467.7 554.0,1465.7 554.5,1464.5 555.0,1464.1 555.8,1464.1 555.9,1521.7"/>
<polygon points="561.5,1521.7 562.0,1509.8 562.5,1498.9 562.9,1489.0 563.4,1480.2 563.9,1472.4 564.4,1465.7 564.8,1460.0 565.3,1455.3 565.8,1451.7 566.2,1449.1 566.7,1447.5 567.2,1447.0 568.0,1447.0 568.1,1483.1 569.6,1490.6 569.7,1471.0 570.3,1471.0 570.4,1521.7"/>
<polygon points="573.0,1521.7 573.5,1513.6 574.0,1506.3 574.4,1499.6 574.9,1493.6 575.4,1488.4 575.9,1483.8 576.3,1480.0 576.8,1476.8 577.3,1474.4 577.8,1472.6 578.2,1471.6 578.7,1471.2 579.5,1471.2 579.6,1501.2 581.4,1506.3 581.5,1498.5 582.1,1498.5 582.3,1521.7"/>
<polygon points="585.0,1521.7 585.5,1510.4 586.0,1500.1 586.4,1490.8 586.9,1482.4 587.4,1475.0 587.9,1468.6 588.3,1463.2 588.8,1458.7 589.3,1455.3 589.8,1452.8 590.2,1451.3 590.7,1450.8 591.5,1450.8 591.6,1483.3 593.2,1490.4 593.3,1475.0 593.9,1475.0 594.0,1521.7"/>
<polygon points="596.7,1521.7 597.2,1510.2 597.7,1499.7 598.1,1490.1 598.6,1481.3 599.1,1473.5 599.6,1466.7 600.0,1460.8 600.5,1455.8 601.0,1451.9 601.5,1449.0 601.9,1447.2 602.4,1446.5 603.2,1446.5 603.3,1490.8 605.0,1498.3 605.1,1484.5 605.7,1484.5 605.9,1521.7"/>
<polygon points="607.9,1521.7 608.4,1512.8 608.9,1504.5 609.3,1496.8 609.8,1489.8 610.3,1483.5 610.8,1477.8 611.2,1472.9 611.7,1468.7 612.2,1465.3 612.6,1462.7 613.1,1461.0 613.6,1460.3 614.4,1460.3 614.5,1495.3 616.1,1501.5 616.2,1488.8 616.8,1488.8 617.0,1521.7"/>
<polygon points="620.6,1521.7 621.1,1511.3 621.6,1501.6 622.0,1492.5 622.5,1484.1 623.0,1476.5 623.5,1469.5 623.9,1463.4 624.4,1458.0 624.9,1453.6 625.4,1450.0 625.8,1447.6 626.3,1446.5 627.1,1446.5 627.2,1480.4 628.7,1487.9 628.8,1477.2 629.4,1477.2 629.6,1521.7"/>
<polygon points="632.3,1521.7 632.8,1510.7 633.2,1500.3 633.7,1490.5 634.2,1481.3 634.7,1472.8 635.1,1465.1 635.6,1458.1 636.1,1451.9 636.6,1446.6 637.0,1442.3 637.5,1439.1 638.0,1437.6 638.8,1437.6 638.9,1482.0 640.7,1490.4 640.8,1469.8 641.4,1469.8 641.5,1521.7"/>
<polygon points="644.5,1521.7 645.0,1512.6 645.5,1503.9 645.9,1495.6 646.4,1487.9 646.9,1480.6 647.4,1473.8 647.8,1467.5 648.3,1461.9 648.8,1457.0 649.2,1452.9 649.7,1449.7 650.2,1448.0 651.0,1448.0 651.1,1484.8 652.8,1492.2 652.9,1481.3 653.5,1481.3 653.7,1521.7"/>
<polygon points="656.1,1521.7 656.6,1509.1 657.1,1497.0 657.5,1485.4 658.0,1474.3 658.5,1463.9 659.0,1454.0 659.4,1444.8 659.9,1436.3 660.4,1428.7 660.9,1422.1 661.3,1416.8 661.8,1413.7 662.6,1413.7 662.7,1463.3 664.5,1474.1 664.6,1461.2 665.2,1461.2 665.4,1521.7"/>
<polygon points="668.3,1521.7 668.8,1507.4 669.2,1493.4 669.7,1479.9 670.2,1466.9 670.7,1454.5 671.1,1442.5 671.6,1431.3 672.1,1420.7 672.6,1411.0 673.0,1402.2 673.5,1394.9 674.0,1390.0 674.8,1390.0 674.9,1461.0 676.7,1474.2 676.8,1446.3 677.4,1446.3 677.6,1521.7"/>
<polygon points="680.5,1521.7 681.0,1507.0 681.5,1492.6 681.9,1478.5 682.4,1464.8 682.9,1451.5 683.4,1438.6 683.8,1426.2 684.3,1414.3 684.8,1403.1 685.2,1392.8 685.7,1383.6 686.2,1376.7 687.0,1376.7 687.1,1435.5 689.0,1450.0 689.1,1431.6 689.7,1431.6 689.8,1521.7"/>
<polygon points="700.5,1521.7 700.7,1433.0 701.3,1433.0 701.5,1521.7"/>
<polygon points="692.2,1521.7 692.7,1502.2 693.2,1483.0 693.7,1464.3 694.2,1445.9 694.7,1428.0 695.1,1410.6 695.6,1393.8 696.1,1377.6 696.6,1362.3 697.1,1347.9 697.6,1335.0 698.1,1325.0 698.9,1325.0 699.0,1521.7"/>
<polygon points="712.3,1521.7 712.5,1410.3 713.1,1410.3 713.2,1521.7"/>
<polygon points="704.0,1521.7 704.5,1500.7 705.0,1480.1 705.5,1459.9 706.0,1440.1 706.5,1420.9 707.0,1402.1 707.5,1384.0 708.0,1366.6 708.5,1350.1 708.9,1334.7 709.4,1320.7 709.9,1310.0 710.7,1310.0 710.8,1521.7"/>
<polygon points="724.2,1521.7 724.4,1413.8 725.0,1413.8 725.2,1521.7"/>
<polygon points="715.9,1521.7 716.4,1499.2 716.8,1477.2 717.3,1455.5 717.8,1434.4 718.3,1413.7 718.8,1393.7 719.3,1374.3 719.8,1355.7 720.3,1338.0 720.8,1321.4 721.3,1306.5 721.8,1295.0 722.5,1295.0 722.7,1521.7"/>
<polygon points="736.2,1521.7 736.4,1406.9 737.0,1406.9 737.2,1521.7"/>
<polygon points="727.7,1521.7 728.2,1497.7 728.7,1474.2 729.2,1451.1 729.7,1428.6 730.1,1406.6 730.6,1385.2 731.1,1364.5 731.6,1344.7 732.1,1325.8 732.6,1308.2 733.1,1292.3 733.6,1280.0 734.3,1280.0 734.5,1521.7"/>
<polygon points="748.0,1521.7 748.2,1382.5 748.8,1382.5 749.0,1521.7"/>
<polygon points="739.5,1521.7 740.0,1496.2 740.5,1471.3 741.0,1446.8 741.5,1422.8 742.0,1399.4 742.5,1376.7 743.0,1354.8 743.5,1333.7 743.9,1313.6 744.4,1294.9 744.9,1278.0 745.4,1265.0 746.2,1265.0 746.3,1521.7"/>
<polygon points="759.7,1521.7 759.9,1380.8 760.5,1380.8 760.7,1521.7"/>
<polygon points="751.4,1521.7 751.8,1494.8 752.3,1468.3 752.8,1442.4 753.3,1417.0 753.8,1392.3 754.3,1368.3 754.8,1345.0 755.3,1322.7 755.8,1301.5 756.3,1281.6 756.8,1263.8 757.3,1250.0 758.0,1250.0 758.2,1521.7"/>
<polygon points="771.7,1521.7 771.9,1333.8 772.5,1333.8 772.7,1521.7"/>
<polygon points="763.2,1521.7 763.7,1493.3 764.2,1465.4 764.7,1438.0 765.1,1411.2 765.6,1385.2 766.1,1359.8 766.6,1335.3 767.1,1311.7 767.6,1289.3 768.1,1268.4 768.6,1249.5 769.1,1235.0 769.8,1235.0 770.0,1521.7"/>
<polygon points="783.5,1521.7 783.7,1382.5 784.3,1382.5 784.5,1521.7"/>
<polygon points="775.0,1521.7 775.5,1491.8 776.0,1462.4 776.5,1433.6 777.0,1405.5 777.5,1378.0 778.0,1351.3 778.5,1325.5 778.9,1300.7 779.4,1277.2 779.9,1255.1 780.4,1235.3 780.9,1220.0 781.7,1220.0 781.8,1521.7"/>
<polygon points="517.5,1521.7 519.1,1588.4 520.4,1588.4 521.2,1579.1 522.0,1570.0 522.8,1561.1 523.6,1552.4 524.5,1543.9 525.3,1535.8 526.1,1528.2 526.9,1521.7"/>
<polygon points="516.4,1521.7 516.4,1564.2 517.1,1564.2 517.2,1521.7"/>
<polygon points="529.4,1521.7 531.0,1571.8 532.3,1571.8 533.1,1564.8 533.9,1558.0 534.7,1551.3 535.5,1544.8 536.4,1538.4 537.2,1532.3 538.0,1526.6 538.8,1521.7"/>
<polygon points="528.3,1521.7 528.3,1547.9 529.0,1547.9 529.1,1521.7"/>
<polygon points="540.9,1521.7 542.5,1574.4 543.8,1574.4 544.6,1567.1 545.4,1559.9 546.2,1552.8 547.0,1545.9 547.9,1539.3 548.7,1532.9 549.5,1526.8 550.3,1521.7"/>
<polygon points="539.8,1521.7 539.8,1545.6 540.5,1545.6 540.6,1521.7"/>
<polygon points="552.9,1521.7 554.5,1596.0 555.8,1596.0 556.6,1585.7 557.4,1575.5 558.2,1565.6 559.0,1555.9 559.9,1546.5 560.7,1537.4 561.5,1528.9 562.3,1521.7"/>
<polygon points="551.8,1521.7 551.8,1567.7 552.5,1567.7 552.6,1521.7"/>
<polygon points="565.1,1521.7 566.7,1573.1 568.0,1573.1 568.8,1566.0 569.6,1558.9 570.4,1552.1 571.2,1545.3 572.1,1538.8 572.9,1532.6 573.7,1526.7 574.5,1521.7"/>
<polygon points="564.0,1521.7 564.0,1554.3 564.7,1554.3 564.8,1521.7"/>
<polygon points="576.6,1521.7 578.2,1588.4 579.5,1588.4 580.3,1579.1 581.1,1570.0 581.9,1561.1 582.8,1552.4 583.6,1543.9 584.4,1535.8 585.2,1528.2 586.0,1521.7"/>
<polygon points="575.5,1521.7 575.5,1557.6 576.2,1557.6 576.3,1521.7"/>
<polygon points="588.6,1521.7 590.2,1594.3 591.5,1594.3 592.3,1584.2 593.1,1574.3 593.9,1564.6 594.8,1555.1 595.6,1545.9 596.4,1537.1 597.2,1528.8 598.0,1521.7"/>
<polygon points="587.5,1521.7 587.5,1563.1 588.2,1563.1 588.3,1521.7"/>
<polygon points="600.3,1521.7 601.9,1584.6 603.2,1584.6 604.0,1575.9 604.8,1567.3 605.6,1558.9 606.5,1550.6 607.3,1542.7 608.1,1535.0 608.9,1527.8 609.7,1521.7"/>
<polygon points="599.2,1521.7 599.2,1558.9 599.9,1558.9 600.0,1521.7"/>
<polygon points="611.5,1521.7 613.1,1596.0 614.4,1596.0 615.2,1585.7 616.0,1575.5 616.8,1565.6 617.6,1555.9 618.5,1546.5 619.3,1537.4 620.1,1528.9 620.9,1521.7"/>
<polygon points="610.4,1521.7 610.4,1559.8 611.1,1559.8 611.2,1521.7"/>
<polygon points="624.2,1521.7 625.8,1601.1 627.1,1601.1 627.9,1590.1 628.7,1579.2 629.5,1568.6 630.4,1558.2 631.2,1548.2 632.0,1538.5 632.8,1529.4 633.6,1521.7"/>
<polygon points="623.1,1521.7 623.1,1571.3 623.8,1571.3 623.9,1521.7"/>
<polygon points="635.9,1521.7 637.5,1594.3 638.8,1594.3 639.6,1584.2 640.4,1574.3 641.2,1564.6 642.0,1555.1 642.9,1545.9 643.7,1537.1 644.5,1528.8 645.3,1521.7"/>
<polygon points="634.8,1521.7 634.8,1564.6 635.5,1564.6 635.6,1521.7"/>
<polygon points="648.1,1521.7 649.7,1604.4 651.0,1604.4 651.8,1592.9 652.6,1581.6 653.4,1570.6 654.2,1559.7 655.1,1549.3 655.9,1539.2 656.7,1529.8 657.5,1521.7"/>
<polygon points="647.0,1521.7 647.0,1566.9 647.7,1566.9 647.8,1521.7"/>
<polygon points="660.1,1521.7 661.7,1641.6 663.0,1641.6 663.8,1624.9 664.6,1608.6 665.4,1592.5 666.2,1576.9 667.1,1561.7 667.9,1547.1 668.7,1533.4 669.5,1521.7"/>
<polygon points="659.0,1521.7 659.0,1578.9 659.7,1578.9 659.8,1521.7"/>
<polygon points="672.4,1521.7 674.0,1645.5 675.3,1645.5 676.1,1628.3 676.9,1611.4 677.7,1594.8 678.5,1578.7 679.4,1563.0 680.2,1547.9 681.0,1533.8 681.8,1521.7"/>
<polygon points="671.3,1521.7 671.3,1594.6 672.0,1594.6 672.1,1521.7"/>
<polygon points="684.6,1521.7 686.2,1691.6 687.5,1691.6 688.3,1668.0 689.1,1644.8 689.9,1622.1 690.8,1599.9 691.6,1578.3 692.4,1557.7 693.2,1538.2 694.0,1521.7"/>
<polygon points="683.5,1521.7 683.5,1611.7 684.2,1611.7 684.3,1521.7"/>
<polygon points="695.9,1521.7 698.4,1715.0 699.7,1715.0 700.5,1688.1 701.3,1661.8 702.1,1635.9 703.0,1610.6 703.8,1586.1 704.6,1562.6 705.4,1540.5 706.2,1521.7"/>
<polygon points="695.8,1521.7 695.9,1601.7 696.5,1601.7 696.6,1521.7"/>
<polygon points="707.7,1521.7 710.2,1718.0 711.5,1718.0 712.3,1690.7 713.2,1663.9 714.0,1637.7 714.8,1612.0 715.6,1587.1 716.4,1563.3 717.2,1540.8 718.0,1521.7"/>
<polygon points="707.6,1521.7 707.7,1640.0 708.3,1640.0 708.4,1521.7"/>
<polygon points="719.6,1521.7 722.1,1722.0 723.4,1722.0 724.2,1694.2 725.0,1666.8 725.8,1640.0 726.6,1613.9 727.4,1588.5 728.2,1564.1 729.0,1541.2 729.9,1521.7"/>
<polygon points="720.0,1521.7 720.0,1652.2 720.7,1652.2 720.8,1521.7"/>
<polygon points="731.4,1521.7 733.9,1726.0 735.2,1726.0 736.0,1697.6 736.8,1669.7 737.6,1642.4 738.4,1615.7 739.3,1589.8 740.1,1564.9 740.9,1541.6 741.7,1521.7"/>
<polygon points="732.5,1521.7 732.5,1647.0 733.2,1647.0 733.3,1521.7"/>
<polygon points="743.2,1521.7 745.7,1730.0 747.0,1730.0 747.8,1701.1 748.6,1672.6 749.5,1644.7 750.3,1617.5 751.1,1591.1 751.9,1565.8 752.7,1542.0 753.5,1521.7"/>
<polygon points="744.1,1521.7 744.2,1671.3 744.8,1671.3 744.9,1521.7"/>
<polygon points="755.1,1521.7 757.6,1734.0 758.9,1734.0 759.7,1704.5 760.5,1675.5 761.3,1647.1 762.1,1619.4 762.9,1592.5 763.7,1566.6 764.5,1542.4 765.4,1521.7"/>
<polygon points="756.8,1521.7 756.8,1650.5 757.5,1650.5 757.6,1521.7"/>
<polygon points="767.4,1521.7 771.8,1745.0 773.1,1745.0 773.8,1714.0 774.5,1683.5 775.2,1653.6 775.9,1624.4 776.6,1596.1 777.3,1569.0 778.0,1543.4 778.7,1521.7"/>
<polygon points="771.0,1521.7 771.0,1680.0 771.7,1680.0 771.8,1521.7"/>
<polygon points="778.7,1521.7 781.2,1742.0 782.5,1742.0 783.3,1711.4 784.1,1681.3 784.9,1651.8 785.8,1623.1 786.6,1595.1 787.4,1568.3 788.2,1543.2 789.0,1521.7"/>
<polygon points="780.4,1521.7 780.5,1660.9 781.1,1660.9 781.2,1521.7"/>
<polygon points="422.9,1521.8 423.7,1516.1 424.9,1511.6 426.5,1508.4 427.7,1506.9 428.5,1507.4 429.0,1512.9 430.9,1511.0 432.8,1509.0 436.4,1505.2 436.9,1505.9 437.0,1521.8"/>
<polygon points="432.8,1521.8 433.2,1527.5 435.4,1528.2 436.0,1539.0 437.3,1540.0 438.9,1539.7 440.5,1537.1 441.8,1531.3 443.3,1521.8"/>
<polygon points="437.7,1521.8 438.2,1517.6 438.9,1517.6 439.3,1521.8"/>
<polygon points="443.3,1521.8 444.6,1512.2 446.2,1503.9 447.9,1498.9 448.8,1497.3 449.4,1497.7 449.5,1521.8"/>
<polygon points="450.9,1521.8 451.2,1500.5 452.1,1500.5 452.3,1521.8"/>
<polygon points="444.9,1521.8 445.1,1535.8 446.2,1535.8 446.3,1521.8"/>
<polygon points="448.4,1521.8 448.6,1539.6 449.5,1539.6 449.8,1521.8"/>
<polygon points="451.9,1521.8 453.2,1512.2 455.8,1503.3 458.3,1498.0 460.6,1494.4 461.1,1494.9 461.2,1521.8"/>
<polygon points="457.0,1521.8 457.0,1544.7 460.1,1544.7 460.2,1564.5 461.9,1563.8 464.0,1554.3 466.0,1536.4 467.5,1521.8"/>
<polygon points="466.6,1521.8 467.9,1508.4 469.1,1495.7 470.7,1484.2 471.7,1478.5 472.3,1479.1 472.6,1491.8 473.6,1487.4 474.6,1483.6 475.3,1484.2 475.4,1521.8"/>
<polygon points="471.1,1521.8 471.6,1544.7 473.0,1544.1 474.6,1541.5 476.1,1537.7 478.7,1528.8 480.0,1521.8"/>
<polygon points="478.7,1521.8 480.0,1513.5 481.2,1507.1 483.2,1496.9 484.4,1491.8 485.1,1492.4 485.2,1521.8"/>
<polygon points="485.8,1521.8 486.1,1511.0 487.1,1511.0 487.4,1521.8"/>
<polygon points="481.0,1521.8 481.4,1563.2 482.5,1561.9 483.3,1549.2 484.3,1565.7 485.3,1565.1 487.0,1541.5 488.2,1521.8"/>
<polygon points="488.6,1521.8 489.9,1502.0 491.4,1485.5 493.7,1472.7 495.5,1466.4 496.5,1467.0 496.7,1508.4 497.8,1503.3 498.6,1499.7 499.6,1499.5 499.8,1521.8"/>
<polygon points="492.7,1521.8 493.2,1549.2 495.3,1549.2 496.3,1574.6 497.8,1572.1 500.4,1556.8 502.9,1536.4 504.8,1521.8"/>
<polygon points="503.5,1521.8 504.6,1504.6 505.7,1491.8 506.7,1480.4 507.4,1475.3 508.1,1475.8 508.5,1485.5 509.5,1480.4 510.5,1476.6 511.3,1477.1 511.6,1521.8"/>
<polygon points="504.2,1521.8 504.6,1553.6 505.7,1553.6 506.1,1536.4 507.4,1539.0 507.9,1560.0 509.0,1560.0 509.9,1542.8 511.8,1521.8"/>
</g>
<line x1="67.0" y1="1695.7" x2="67.0" y2="1687.9" stroke="#1a1a1a" stroke-width="1.3"/>
<line x1="67.0" y1="1348.0" x2="67.0" y2="1355.8" stroke="#1a1a1a" stroke-width="1.3"/>
<line x1="156.0" y1="1695.7" x2="156.0" y2="1687.9" stroke="#1a1a1a" stroke-width="1.3"/>
<line x1="156.0" y1="1348.0" x2="156.0" y2="1355.8" stroke="#1a1a1a" stroke-width="1.3"/>
<line x1="244.9" y1="1695.7" x2="244.9" y2="1687.9" stroke="#1a1a1a" stroke-width="1.3"/>
<line x1="244.9" y1="1348.0" x2="244.9" y2="1355.8" stroke="#1a1a1a" stroke-width="1.3"/>
<line x1="333.9" y1="1695.7" x2="333.9" y2="1687.9" stroke="#1a1a1a" stroke-width="1.3"/>
<line x1="333.9" y1="1348.0" x2="333.9" y2="1355.8" stroke="#1a1a1a" stroke-width="1.3"/>
<line x1="422.8" y1="1695.7" x2="422.8" y2="1687.9" stroke="#1a1a1a" stroke-width="1.3"/>
<line x1="422.8" y1="1348.0" x2="422.8" y2="1355.8" stroke="#1a1a1a" stroke-width="1.3"/>
<line x1="511.8" y1="1695.7" x2="511.8" y2="1687.9" stroke="#1a1a1a" stroke-width="1.3"/>
<line x1="511.8" y1="1348.0" x2="511.8" y2="1355.8" stroke="#1a1a1a" stroke-width="1.3"/>
<line x1="600.7" y1="1695.7" x2="600.7" y2="1687.9" stroke="#1a1a1a" stroke-width="1.3"/>
<line x1="600.7" y1="1348.0" x2="600.7" y2="1355.8" stroke="#1a1a1a" stroke-width="1.3"/>
<line x1="689.7" y1="1695.7" x2="689.7" y2="1687.9" stroke="#1a1a1a" stroke-width="1.3"/>
<line x1="689.7" y1="1348.0" x2="689.7" y2="1355.8" stroke="#1a1a1a" stroke-width="1.3"/>
<line x1="778.6" y1="1695.7" x2="778.6" y2="1687.9" stroke="#1a1a1a" stroke-width="1.3"/>
<line x1="778.6" y1="1348.0" x2="778.6" y2="1355.8" stroke="#1a1a1a" stroke-width="1.3"/>
<line x1="67.0" y1="1348.0" x2="74.8" y2="1348.0" stroke="#1a1a1a" stroke-width="1.3"/>
<line x1="778.6" y1="1348.0" x2="770.8" y2="1348.0" stroke="#1a1a1a" stroke-width="1.3"/>
<line x1="67.0" y1="1391.4" x2="74.8" y2="1391.4" stroke="#1a1a1a" stroke-width="1.3"/>
<line x1="778.6" y1="1391.4" x2="770.8" y2="1391.4" stroke="#1a1a1a" stroke-width="1.3"/>
<line x1="67.0" y1="1434.9" x2="74.8" y2="1434.9" stroke="#1a1a1a" stroke-width="1.3"/>
<line x1="778.6" y1="1434.9" x2="770.8" y2="1434.9" stroke="#1a1a1a" stroke-width="1.3"/>
<line x1="67.0" y1="1478.3" x2="74.8" y2="1478.3" stroke="#1a1a1a" stroke-width="1.3"/>
<line x1="778.6" y1="1478.3" x2="770.8" y2="1478.3" stroke="#1a1a1a" stroke-width="1.3"/>
<line x1="67.0" y1="1521.8" x2="74.8" y2="1521.8" stroke="#1a1a1a" stroke-width="1.3"/>
<line x1="778.6" y1="1521.8" x2="770.8" y2="1521.8" stroke="#1a1a1a" stroke-width="1.3"/>
<line x1="67.0" y1="1565.3" x2="74.8" y2="1565.3" stroke="#1a1a1a" stroke-width="1.3"/>
<line x1="778.6" y1="1565.3" x2="770.8" y2="1565.3" stroke="#1a1a1a" stroke-width="1.3"/>
<line x1="67.0" y1="1608.7" x2="74.8" y2="1608.7" stroke="#1a1a1a" stroke-width="1.3"/>
<line x1="778.6" y1="1608.7" x2="770.8" y2="1608.7" stroke="#1a1a1a" stroke-width="1.3"/>
<line x1="67.0" y1="1652.2" x2="74.8" y2="1652.2" stroke="#1a1a1a" stroke-width="1.3"/>
<line x1="778.6" y1="1652.2" x2="770.8" y2="1652.2" stroke="#1a1a1a" stroke-width="1.3"/>
<line x1="67.0" y1="1695.7" x2="74.8" y2="1695.7" stroke="#1a1a1a" stroke-width="1.3"/>
<line x1="778.6" y1="1695.7" x2="770.8" y2="1695.7" stroke="#1a1a1a" stroke-width="1.3"/>
<rect x="67.0" y="1348.0" width="711.6" height="347.7" fill="none" stroke="#1a1a1a" stroke-width="1.55"/>
<text x="58.7" y="1708.0" font-size="10.0" text-anchor="start" >0.8</text>
<text x="144.3" y="1708.0" font-size="10.0" text-anchor="start" >0.85</text>
<text x="236.6" y="1708.0" font-size="10.0" text-anchor="start" >0.9</text>
<text x="322.2" y="1708.0" font-size="10.0" text-anchor="start" >0.95</text>
<text x="419.5" y="1708.0" font-size="10.0" text-anchor="start" >1</text>
<text x="500.1" y="1708.0" font-size="10.0" text-anchor="start" >1.05</text>
<text x="592.4" y="1708.0" font-size="10.0" text-anchor="start" >1.1</text>
<text x="678.0" y="1708.0" font-size="10.0" text-anchor="start" >1.15</text>
<text x="770.3" y="1708.0" font-size="10.0" text-anchor="start" >1.2</text>
<text x="55.7" y="1347.0" font-size="10.0" text-anchor="start" >2</text>
<text x="45.7" y="1391.0" font-size="10.0" text-anchor="start" >1.5</text>
<text x="55.7" y="1434.0" font-size="10.0" text-anchor="start" >1</text>
<text x="45.7" y="1478.0" font-size="10.0" text-anchor="start" >0.5</text>
<text x="55.7" y="1521.0" font-size="10.0" text-anchor="start" >0</text>
<text x="41.7" y="1565.0" font-size="10.0" text-anchor="start" >-0.5</text>
<text x="51.7" y="1608.0" font-size="10.0" text-anchor="start" >-1</text>
<text x="41.7" y="1652.0" font-size="10.0" text-anchor="start" >-1.5</text>
<text x="51.7" y="1695.0" font-size="10.0" text-anchor="start" >-2</text>
<text x="397.1" y="1744.0" font-size="17.6" text-anchor="start" >Time (s)</text>
<text x="372.2" y="1335.5" font-size="17.6" text-anchor="start" >DC-link current</text>
<text transform="translate(31.6 1512.2) rotate(-90)" font-size="17.6" text-anchor="middle">DC current (A)</text>
<text x="1.6" y="1335.8" font-size="22.5" text-anchor="start" >(d)</text>
<text x="67.6" y="1347.0" font-size="17.5" font-weight="normal" font-family="Liberation Sans, sans-serif">×</text>
<text x="79.0" y="1340.2" font-size="9.0" text-anchor="start" >10</text>
<text x="91.6" y="1335.4" font-size="7.5" text-anchor="start" >4</text>
<polygon points="778.1,1401 779.4,1401 779.4,1521.7 777.6,1521.7" fill="#0072BD"/>
</svg></body></html>
